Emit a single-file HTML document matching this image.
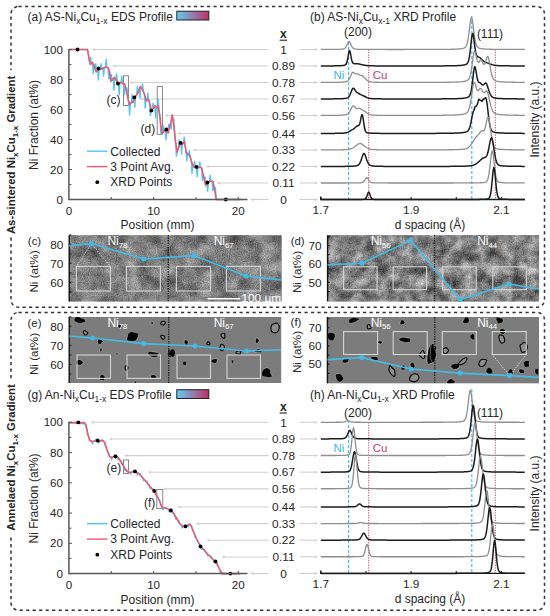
<!DOCTYPE html>
<html><head><meta charset="utf-8"><style>html,body{margin:0;padding:0;background:#fff;overflow:hidden;}svg{display:block;}</style></head>
<body>
<svg width="550" height="616" viewBox="0 0 550 616" font-family='"Liberation Sans", sans-serif'>
<defs>
<linearGradient id="cbar" x1="0" x2="1"><stop offset="0" stop-color="#62cdf3"/><stop offset="0.45" stop-color="#8c86b4"/><stop offset="1" stop-color="#c22e66"/></linearGradient>
<clipPath id="fcclip"><rect x="69.2" y="235.3" width="212.40000000000003" height="66.09999999999997"/></clipPath>
<filter id="fc" x="0" y="0" width="100%" height="100%" filterUnits="objectBoundingBox" color-interpolation-filters="sRGB"><feTurbulence type="fractalNoise" baseFrequency="0.065" numOctaves="4" seed="7" result="t"/><feColorMatrix in="t" type="matrix" values="0.55 0 0 0 0.22  0.55 0 0 0 0.22  0.55 0 0 0 0.22  0 0 0 0 1" result="a"/><feTurbulence type="fractalNoise" baseFrequency="0.85" numOctaves="1" seed="10" result="n"/><feColorMatrix in="n" type="matrix" values="1 0 0 0 0  1 0 0 0 0  1 0 0 0 0  0 0 0 0 1" result="b"/><feComposite in="a" in2="b" operator="arithmetic" k1="0" k2="1" k3="0.4" k4="-0.2"/></filter>
<clipPath id="fdclip"><rect x="327.6" y="235.3" width="211.5" height="66.09999999999997"/></clipPath>
<filter id="fd" x="0" y="0" width="100%" height="100%" filterUnits="objectBoundingBox" color-interpolation-filters="sRGB"><feTurbulence type="fractalNoise" baseFrequency="0.08" numOctaves="4" seed="11" result="t"/><feColorMatrix in="t" type="matrix" values="0.72 0 0 0 0.14  0.72 0 0 0 0.14  0.72 0 0 0 0.14  0 0 0 0 1" result="a"/><feTurbulence type="fractalNoise" baseFrequency="0.85" numOctaves="1" seed="14" result="n"/><feColorMatrix in="n" type="matrix" values="1 0 0 0 0  1 0 0 0 0  1 0 0 0 0  0 0 0 0 1" result="b"/><feComposite in="a" in2="b" operator="arithmetic" k1="0" k2="1" k3="0.4" k4="-0.2"/></filter>
<clipPath id="eclip"><rect x="69.2" y="317" width="212" height="66"/></clipPath><clipPath id="fclip"><rect x="327.4" y="317" width="211.6" height="66.3"/></clipPath></defs>
<rect width="550" height="616" fill="#fff"/>
<rect x="11" y="6.5" width="533.5" height="300.8" rx="7.5" ry="7.5" fill="none" stroke="#333" stroke-width="1.5" stroke-dasharray="3.2 3.3"/>
<rect x="11" y="312.4" width="533.5" height="297.9" rx="7.5" ry="7.5" fill="none" stroke="#333" stroke-width="1.5" stroke-dasharray="3.2 3.3"/>
<rect x="5" y="70" width="14" height="167" fill="#fff"/>
<rect x="5" y="379" width="14" height="156" fill="#fff"/>
<text transform="translate(15.2,154.9) rotate(-90)" font-size="11.4" font-weight="bold" text-anchor="middle" fill="#262626">As-sintered Ni<tspan font-size="8" dy="3">x</tspan><tspan dy="-3">Cu</tspan><tspan font-size="8" dy="3">1-x</tspan><tspan dy="-3"> Gradient</tspan></text>
<text transform="translate(15.2,457.5) rotate(-90)" font-size="11.35" font-weight="bold" text-anchor="middle" fill="#262626">Annelaed Ni<tspan font-size="8" dy="3">x</tspan><tspan dy="-3">Cu</tspan><tspan font-size="8" dy="3">1-x</tspan><tspan dy="-3"> Gradient</tspan></text>
<text x="27.5" y="20.7" font-size="12" fill="#262626">(a) AS-Ni<tspan font-size="8.5" dy="3">x</tspan><tspan dy="-3">Cu</tspan><tspan font-size="8.5" dy="3">1-x</tspan><tspan dy="-3"> EDS Profile</tspan></text>
<rect x="176.8" y="11.2" width="32" height="8.8" fill="url(#cbar)" stroke="#222" stroke-width="1"/>
<line x1="93.8" y1="49.5" x2="268.5" y2="49.5" stroke="#d0d0d0" stroke-width="1.1"/>
<path d="M91.8,49.5 l3.2,-1.5 v3 z" fill="#d0d0d0"/>
<line x1="114.3" y1="66.0" x2="268.5" y2="66.0" stroke="#d0d0d0" stroke-width="1.1"/>
<path d="M112.3,66.0 l3.2,-1.5 v3 z" fill="#d0d0d0"/>
<line x1="131.3" y1="82.5" x2="268.5" y2="82.5" stroke="#d0d0d0" stroke-width="1.1"/>
<path d="M129.3,82.5 l3.2,-1.5 v3 z" fill="#d0d0d0"/>
<line x1="141.8" y1="99.0" x2="268.5" y2="99.0" stroke="#d0d0d0" stroke-width="1.1"/>
<path d="M139.8,99.0 l3.2,-1.5 v3 z" fill="#d0d0d0"/>
<line x1="166.6" y1="115.5" x2="268.5" y2="115.5" stroke="#d0d0d0" stroke-width="1.1"/>
<path d="M164.6,115.5 l3.2,-1.5 v3 z" fill="#d0d0d0"/>
<line x1="179.2" y1="133.5" x2="268.5" y2="133.5" stroke="#d0d0d0" stroke-width="1.1"/>
<path d="M177.2,133.5 l3.2,-1.5 v3 z" fill="#d0d0d0"/>
<line x1="194.6" y1="150.0" x2="268.5" y2="150.0" stroke="#d0d0d0" stroke-width="1.1"/>
<path d="M192.6,150.0 l3.2,-1.5 v3 z" fill="#d0d0d0"/>
<line x1="207.6" y1="166.5" x2="268.5" y2="166.5" stroke="#d0d0d0" stroke-width="1.1"/>
<path d="M205.6,166.5 l3.2,-1.5 v3 z" fill="#d0d0d0"/>
<line x1="218.6" y1="183.0" x2="268.5" y2="183.0" stroke="#d0d0d0" stroke-width="1.1"/>
<path d="M216.6,183.0 l3.2,-1.5 v3 z" fill="#d0d0d0"/>
<line x1="252.2" y1="199.5" x2="268.5" y2="199.5" stroke="#d0d0d0" stroke-width="1.1"/>
<path d="M250.2,199.5 l3.2,-1.5 v3 z" fill="#d0d0d0"/>
<rect x="123.5" y="75.8" width="5.099999999999994" height="29.700000000000003" fill="none" stroke="#7a7a7a" stroke-width="0.9"/>
<rect x="157.2" y="86.6" width="5.200000000000017" height="47.70000000000002" fill="none" stroke="#7a7a7a" stroke-width="0.9"/>
<polyline points="68.90,49.50 87.25,49.60 88.00,52.15 88.75,56.93 89.85,62.58 90.60,57.28 91.35,63.45 92.45,62.48 93.20,73.56 93.95,64.92 95.05,68.45 95.80,63.83 96.55,71.35 97.65,69.99 98.40,79.99 99.15,68.80 100.25,69.04 101.00,63.59 101.75,69.03 102.85,68.20 103.60,76.06 104.35,67.54 105.45,67.33 106.20,59.51 106.95,67.40 108.05,67.66 108.80,78.86 109.55,71.67 110.65,80.05 111.40,74.72 112.15,80.05 113.25,78.75 114.00,90.28 114.75,77.61 115.85,79.39 116.60,73.96 117.35,82.00 118.45,83.40 119.20,94.89 119.95,82.79 121.05,82.51 121.80,76.35 122.55,83.66 123.65,83.80 124.40,94.54 125.15,85.63 126.25,90.06 127.00,87.99 127.75,97.63 128.85,101.81 129.60,114.97 130.35,103.88 131.45,102.50 132.20,94.65 132.95,102.23 134.05,98.59 134.80,107.30 135.55,96.05 136.65,94.92 137.40,86.24 138.15,92.48 139.25,89.50 140.00,98.54 140.75,87.16 141.85,88.52 142.60,84.09 143.35,91.60 144.45,94.37 145.20,108.07 145.95,98.85 147.05,100.59 147.80,93.18 148.55,99.87 149.65,103.24 150.40,115.60 151.15,109.23 152.25,109.45 153.00,103.18 153.75,107.79 154.85,106.01 155.60,118.22 156.35,107.35 157.45,106.58 158.20,98.87 158.95,110.29 160.05,117.74 160.80,134.06 161.55,129.93 162.65,133.17 163.40,125.34 164.15,131.29 165.25,130.45 166.00,139.76 166.75,130.79 167.85,132.47 168.60,124.43 169.35,128.35 170.45,123.91 171.20,129.06 171.95,116.49 173.05,120.04 173.80,118.72 174.55,132.29 175.65,142.61 176.40,156.10 177.15,151.79 178.25,148.88 179.00,139.70 179.75,144.77 180.85,143.26 181.60,154.01 182.35,143.80 183.45,143.14 184.20,136.98 184.95,144.48 186.05,151.77 186.80,160.57 187.55,153.55 188.65,154.72 189.40,150.55 190.15,156.93 191.25,160.67 192.00,173.80 192.75,164.54 193.85,166.79 194.60,161.57 195.35,167.13 196.45,166.78 197.20,176.43 197.95,167.12 199.05,167.48 199.80,162.02 200.55,167.50 201.65,168.13 202.40,180.41 203.15,174.43 204.25,179.16 205.00,176.95 205.75,185.18 206.85,183.56 207.60,191.11 208.35,182.23 209.45,181.76 210.20,175.28 210.95,181.30 212.05,181.30 212.80,190.71 213.55,184.59 214.65,190.23 215.40,187.49 216.15,198.37 217.00,199.50 242.00,199.50" fill="none" stroke="#55c5ef" stroke-width="1.4" stroke-linejoin="round"/>
<polyline points="68.90,49.50 87.60,49.60 89.20,59.80 90.30,64.50 92.40,62.40 94.00,65.00 96.10,71.90 98.70,68.70 101.40,69.30 103.50,67.70 106.10,67.20 108.20,67.70 109.80,72.40 110.80,81.40 112.40,79.80 114.50,77.20 116.10,79.80 118.20,83.50 120.90,82.40 123.00,84.00 124.60,83.50 126.10,89.30 128.20,99.90 129.80,104.60 131.40,102.50 132.90,102.40 134.50,97.10 136.60,95.00 138.20,92.40 140.30,86.60 142.40,89.20 144.50,94.50 146.60,100.80 148.70,99.80 150.30,105.60 151.40,110.30 153.50,108.20 155.10,105.60 156.60,107.70 158.20,105.60 159.80,115.60 161.40,129.30 162.40,133.50 164.00,131.40 166.10,129.80 168.20,133.00 170.70,122.90 172.30,114.70 173.90,126.10 175.60,142.30 177.20,152.10 178.80,147.20 180.40,143.10 182.90,144.00 184.50,141.50 186.10,152.10 188.50,154.50 190.20,157.00 191.80,162.60 194.20,167.50 196.70,166.70 199.10,167.50 201.50,167.50 204.00,178.00 205.60,185.40 207.50,182.60 210.50,181.30 212.90,181.30 214.50,189.40 216.10,198.30 217.00,199.50 240.00,199.50" fill="none" stroke="#e85b72" stroke-width="1.55" stroke-linejoin="round"/>
<circle cx="77.5" cy="49.5" r="1.9" fill="#000"/>
<circle cx="98.6" cy="68.5" r="1.9" fill="#000"/>
<circle cx="117.9" cy="83.5" r="1.9" fill="#000"/>
<circle cx="134.3" cy="97.4" r="1.9" fill="#000"/>
<circle cx="151.4" cy="110.6" r="1.9" fill="#000"/>
<circle cx="166.3" cy="129.5" r="1.9" fill="#000"/>
<circle cx="180.7" cy="142.9" r="1.9" fill="#000"/>
<circle cx="196.5" cy="166.9" r="1.9" fill="#000"/>
<circle cx="207.4" cy="182.5" r="1.9" fill="#000"/>
<circle cx="225.8" cy="199.5" r="1.9" fill="#000"/>
<path d="M68.9,48.9 V199.5 H247.5" stroke="#5a5a5a" stroke-width="1.5" fill="none"/>
<line x1="68.9" y1="199.5" x2="71.9" y2="199.5" stroke="#5a5a5a" stroke-width="1.1"/>
<line x1="68.9" y1="184.5" x2="71.4" y2="184.5" stroke="#5a5a5a" stroke-width="1.1"/>
<line x1="68.9" y1="169.5" x2="71.9" y2="169.5" stroke="#5a5a5a" stroke-width="1.1"/>
<line x1="68.9" y1="154.5" x2="71.4" y2="154.5" stroke="#5a5a5a" stroke-width="1.1"/>
<line x1="68.9" y1="139.5" x2="71.9" y2="139.5" stroke="#5a5a5a" stroke-width="1.1"/>
<line x1="68.9" y1="124.5" x2="71.4" y2="124.5" stroke="#5a5a5a" stroke-width="1.1"/>
<line x1="68.9" y1="109.5" x2="71.9" y2="109.5" stroke="#5a5a5a" stroke-width="1.1"/>
<line x1="68.9" y1="94.5" x2="71.4" y2="94.5" stroke="#5a5a5a" stroke-width="1.1"/>
<line x1="68.9" y1="79.5" x2="71.9" y2="79.5" stroke="#5a5a5a" stroke-width="1.1"/>
<line x1="68.9" y1="64.5" x2="71.4" y2="64.5" stroke="#5a5a5a" stroke-width="1.1"/>
<line x1="68.9" y1="49.5" x2="71.9" y2="49.5" stroke="#5a5a5a" stroke-width="1.1"/>
<line x1="111.25" y1="199.5" x2="111.25" y2="197.0" stroke="#5a5a5a" stroke-width="1.1"/>
<line x1="153.60000000000002" y1="199.5" x2="153.60000000000002" y2="197.0" stroke="#5a5a5a" stroke-width="1.1"/>
<line x1="195.95000000000002" y1="199.5" x2="195.95000000000002" y2="197.0" stroke="#5a5a5a" stroke-width="1.1"/>
<line x1="238.3" y1="199.5" x2="238.3" y2="197.0" stroke="#5a5a5a" stroke-width="1.1"/>
<text x="63" y="203.5" font-size="11.6" text-anchor="end" fill="#262626" font-weight="normal" >0</text>
<text x="63" y="173.5" font-size="11.6" text-anchor="end" fill="#262626" font-weight="normal" >20</text>
<text x="63" y="143.5" font-size="11.6" text-anchor="end" fill="#262626" font-weight="normal" >40</text>
<text x="63" y="113.5" font-size="11.6" text-anchor="end" fill="#262626" font-weight="normal" >60</text>
<text x="63" y="83.5" font-size="11.6" text-anchor="end" fill="#262626" font-weight="normal" >80</text>
<text x="63" y="53.5" font-size="11.6" text-anchor="end" fill="#262626" font-weight="normal" >100</text>
<text x="68.9" y="214.8" font-size="11.6" text-anchor="middle" fill="#262626" font-weight="normal" >0</text>
<text x="153.60000000000002" y="214.8" font-size="11.6" text-anchor="middle" fill="#262626" font-weight="normal" >10</text>
<text x="238.3" y="214.8" font-size="11.6" text-anchor="middle" fill="#262626" font-weight="normal" >20</text>
<text x="157.5" y="229.2" font-size="12" text-anchor="middle" fill="#262626" font-weight="normal" >Position (mm)</text>
<text transform="translate(38.3,125.0) rotate(-90)" font-size="12" text-anchor="middle" fill="#262626">Ni Fraction (at%)</text>
<line x1="87" y1="151.2" x2="107.5" y2="151.2" stroke="#55c5ef" stroke-width="1.4"/>
<line x1="87" y1="166.6" x2="107.5" y2="166.6" stroke="#e85b72" stroke-width="1.4"/>
<circle cx="97.3" cy="182.2" r="1.9" fill="#000"/>
<text x="110.3" y="155.5" font-size="12" text-anchor="start" fill="#262626" font-weight="normal" >Collected</text>
<text x="110.3" y="170.89999999999998" font-size="12" text-anchor="start" fill="#262626" font-weight="normal" >3 Point Avg.</text>
<text x="110.3" y="186.2" font-size="12" text-anchor="start" fill="#262626" font-weight="normal" >XRD Points</text>
<text x="106.5" y="104.3" font-size="12" text-anchor="start" fill="#262626" font-weight="normal" >(c)</text>
<text x="140.5" y="132.5" font-size="12" text-anchor="start" fill="#262626" font-weight="normal" >(d)</text>
<text x="27.5" y="399.2" font-size="12" fill="#262626">(g) An-Ni<tspan font-size="8.5" dy="3">x</tspan><tspan dy="-3">Cu</tspan><tspan font-size="8.5" dy="3">1-x</tspan><tspan dy="-3"> EDS Profile</tspan></text>
<rect x="176.8" y="389.7" width="32" height="8.8" fill="url(#cbar)" stroke="#222" stroke-width="1"/>
<line x1="92.5" y1="422.30000000000007" x2="268.5" y2="422.30000000000007" stroke="#d0d0d0" stroke-width="1.1"/>
<path d="M90.5,422.30000000000007 l3.2,-1.5 v3 z" fill="#d0d0d0"/>
<line x1="110.6" y1="438.94300000000004" x2="268.5" y2="438.94300000000004" stroke="#d0d0d0" stroke-width="1.1"/>
<path d="M108.6,438.94300000000004 l3.2,-1.5 v3 z" fill="#d0d0d0"/>
<line x1="126" y1="455.586" x2="268.5" y2="455.586" stroke="#d0d0d0" stroke-width="1.1"/>
<path d="M124,455.586 l3.2,-1.5 v3 z" fill="#d0d0d0"/>
<line x1="149.7" y1="472.22900000000004" x2="268.5" y2="472.22900000000004" stroke="#d0d0d0" stroke-width="1.1"/>
<path d="M147.7,472.22900000000004 l3.2,-1.5 v3 z" fill="#d0d0d0"/>
<line x1="165" y1="488.872" x2="268.5" y2="488.872" stroke="#d0d0d0" stroke-width="1.1"/>
<path d="M163,488.872 l3.2,-1.5 v3 z" fill="#d0d0d0"/>
<line x1="179.3" y1="507.028" x2="268.5" y2="507.028" stroke="#d0d0d0" stroke-width="1.1"/>
<path d="M177.3,507.028 l3.2,-1.5 v3 z" fill="#d0d0d0"/>
<line x1="197.5" y1="523.671" x2="268.5" y2="523.671" stroke="#d0d0d0" stroke-width="1.1"/>
<path d="M195.5,523.671 l3.2,-1.5 v3 z" fill="#d0d0d0"/>
<line x1="208.4" y1="540.3140000000001" x2="268.5" y2="540.3140000000001" stroke="#d0d0d0" stroke-width="1.1"/>
<path d="M206.4,540.3140000000001 l3.2,-1.5 v3 z" fill="#d0d0d0"/>
<line x1="223.5" y1="556.957" x2="268.5" y2="556.957" stroke="#d0d0d0" stroke-width="1.1"/>
<path d="M221.5,556.957 l3.2,-1.5 v3 z" fill="#d0d0d0"/>
<line x1="252.2" y1="573.6" x2="268.5" y2="573.6" stroke="#d0d0d0" stroke-width="1.1"/>
<path d="M250.2,573.6 l3.2,-1.5 v3 z" fill="#d0d0d0"/>
<rect x="123.5" y="460" width="5.099999999999994" height="13.5" fill="none" stroke="#7a7a7a" stroke-width="0.9"/>
<rect x="156.8" y="489.5" width="6.0" height="19.100000000000023" fill="none" stroke="#7a7a7a" stroke-width="0.9"/>
<polyline points="68.90,422.60 85.25,423.80 86.00,427.23 86.75,429.00 88.45,436.32 89.20,437.36 89.95,440.27 91.65,441.29 92.40,443.83 93.15,441.36 94.85,441.14 95.60,439.42 96.35,441.00 98.05,441.00 98.80,443.22 99.55,441.00 101.25,440.79 102.00,439.49 102.75,440.54 104.45,442.31 105.20,446.08 105.95,446.33 107.65,451.69 108.40,452.03 109.15,455.59 110.85,457.04 111.60,459.76 112.35,457.32 114.05,456.47 114.80,454.70 115.55,456.14 117.25,456.75 118.00,459.76 118.75,458.25 120.45,461.04 121.20,461.13 121.95,463.58 123.65,466.42 124.40,470.00 125.15,468.84 126.85,471.21 127.60,470.26 128.35,472.11 130.05,472.32 130.80,474.10 131.55,472.07 133.25,471.75 134.00,470.48 134.75,471.45 136.45,472.17 137.20,474.95 137.95,472.97 139.65,474.65 140.40,473.77 141.15,476.15 142.85,477.96 143.60,480.54 144.35,479.64 146.05,481.56 146.80,480.98 147.55,483.44 149.25,485.56 150.00,488.51 150.75,487.34 152.45,489.26 153.20,488.93 153.95,490.94 155.65,493.75 156.40,496.91 157.15,496.30 158.85,499.70 159.60,499.75 160.35,503.22 162.05,507.11 162.80,509.84 163.55,507.80 165.25,508.21 166.00,507.22 166.75,508.46 168.45,509.22 169.20,511.78 169.95,509.97 171.65,511.26 172.40,511.02 173.15,513.01 174.85,515.42 175.60,518.93 176.35,517.92 178.05,520.75 178.80,520.73 179.55,523.25 181.25,525.00 182.00,528.00 182.75,526.20 184.45,526.45 185.20,524.85 185.95,526.50 187.65,525.18 188.40,526.66 189.15,524.28 190.85,525.70 191.60,525.57 192.35,528.87 194.05,533.12 194.80,536.79 195.55,536.62 197.25,540.46 198.00,540.70 198.75,543.20 200.45,546.31 201.20,549.28 201.95,547.89 203.65,549.64 204.40,549.34 205.15,551.29 206.85,553.21 207.60,555.88 208.35,554.85 210.05,556.55 210.80,555.99 211.55,558.05 213.25,559.57 214.00,562.39 214.75,560.86 216.45,563.21 217.20,563.39 217.95,565.91 219.65,569.30 220.40,572.50 221.15,572.13 223.00,573.60 242.00,573.60" fill="none" stroke="#55c5ef" stroke-width="1.4" stroke-linejoin="round"/>
<polyline points="68.90,422.60 84.50,422.60 86.00,425.00 87.50,433.00 89.50,440.00 92.00,441.50 96.00,441.00 100.00,441.00 103.00,440.50 105.00,443.00 107.00,450.00 109.50,456.50 112.00,457.50 115.00,456.00 117.00,456.50 119.00,458.50 121.00,462.00 124.00,467.00 126.50,471.00 129.00,472.50 132.00,472.00 135.00,471.40 138.00,473.00 142.00,477.00 146.00,481.50 150.00,486.50 154.00,491.00 157.00,496.00 159.50,501.00 161.80,507.00 164.00,508.00 167.00,508.50 171.00,510.50 174.00,514.00 177.00,519.00 180.00,524.00 183.00,526.40 186.00,526.50 188.50,524.50 190.00,524.00 192.00,528.00 194.00,533.00 197.00,540.00 200.50,546.40 204.00,550.00 208.00,554.50 212.00,558.50 215.50,561.50 218.00,566.00 220.50,571.00 222.00,573.60 240.00,573.60" fill="none" stroke="#e85b72" stroke-width="1.55" stroke-linejoin="round"/>
<circle cx="78.3" cy="422.4" r="1.9" fill="#000"/>
<circle cx="97.7" cy="440.5" r="1.9" fill="#000"/>
<circle cx="115.5" cy="456.5" r="1.9" fill="#000"/>
<circle cx="135" cy="471.4" r="1.9" fill="#000"/>
<circle cx="154.2" cy="490.9" r="1.9" fill="#000"/>
<circle cx="170.9" cy="510.5" r="1.9" fill="#000"/>
<circle cx="185.5" cy="526.4" r="1.9" fill="#000"/>
<circle cx="200.5" cy="546.4" r="1.9" fill="#000"/>
<circle cx="215.5" cy="561.5" r="1.9" fill="#000"/>
<circle cx="230.4" cy="573.6" r="1.9" fill="#000"/>
<path d="M68.9,421.70000000000005 V573.6 H247.5" stroke="#5a5a5a" stroke-width="1.5" fill="none"/>
<line x1="68.9" y1="573.6" x2="71.9" y2="573.6" stroke="#5a5a5a" stroke-width="1.1"/>
<line x1="68.9" y1="558.47" x2="71.4" y2="558.47" stroke="#5a5a5a" stroke-width="1.1"/>
<line x1="68.9" y1="543.34" x2="71.9" y2="543.34" stroke="#5a5a5a" stroke-width="1.1"/>
<line x1="68.9" y1="528.21" x2="71.4" y2="528.21" stroke="#5a5a5a" stroke-width="1.1"/>
<line x1="68.9" y1="513.08" x2="71.9" y2="513.08" stroke="#5a5a5a" stroke-width="1.1"/>
<line x1="68.9" y1="497.95000000000005" x2="71.4" y2="497.95000000000005" stroke="#5a5a5a" stroke-width="1.1"/>
<line x1="68.9" y1="482.82000000000005" x2="71.9" y2="482.82000000000005" stroke="#5a5a5a" stroke-width="1.1"/>
<line x1="68.9" y1="467.69000000000005" x2="71.4" y2="467.69000000000005" stroke="#5a5a5a" stroke-width="1.1"/>
<line x1="68.9" y1="452.56000000000006" x2="71.9" y2="452.56000000000006" stroke="#5a5a5a" stroke-width="1.1"/>
<line x1="68.9" y1="437.43000000000006" x2="71.4" y2="437.43000000000006" stroke="#5a5a5a" stroke-width="1.1"/>
<line x1="68.9" y1="422.30000000000007" x2="71.9" y2="422.30000000000007" stroke="#5a5a5a" stroke-width="1.1"/>
<line x1="111.25" y1="573.6" x2="111.25" y2="571.1" stroke="#5a5a5a" stroke-width="1.1"/>
<line x1="153.60000000000002" y1="573.6" x2="153.60000000000002" y2="571.1" stroke="#5a5a5a" stroke-width="1.1"/>
<line x1="195.95000000000002" y1="573.6" x2="195.95000000000002" y2="571.1" stroke="#5a5a5a" stroke-width="1.1"/>
<line x1="238.3" y1="573.6" x2="238.3" y2="571.1" stroke="#5a5a5a" stroke-width="1.1"/>
<text x="63" y="577.6" font-size="11.6" text-anchor="end" fill="#262626" font-weight="normal" >0</text>
<text x="63" y="547.34" font-size="11.6" text-anchor="end" fill="#262626" font-weight="normal" >20</text>
<text x="63" y="517.08" font-size="11.6" text-anchor="end" fill="#262626" font-weight="normal" >40</text>
<text x="63" y="486.82000000000005" font-size="11.6" text-anchor="end" fill="#262626" font-weight="normal" >60</text>
<text x="63" y="456.56000000000006" font-size="11.6" text-anchor="end" fill="#262626" font-weight="normal" >80</text>
<text x="63" y="426.30000000000007" font-size="11.6" text-anchor="end" fill="#262626" font-weight="normal" >100</text>
<text x="68.9" y="588.9" font-size="11.6" text-anchor="middle" fill="#262626" font-weight="normal" >0</text>
<text x="153.60000000000002" y="588.9" font-size="11.6" text-anchor="middle" fill="#262626" font-weight="normal" >10</text>
<text x="238.3" y="588.9" font-size="11.6" text-anchor="middle" fill="#262626" font-weight="normal" >20</text>
<text x="157.5" y="603.5" font-size="12" text-anchor="middle" fill="#262626" font-weight="normal" >Position (mm)</text>
<text transform="translate(38.3,498.45000000000005) rotate(-90)" font-size="12" text-anchor="middle" fill="#262626">Ni Fraction (at%)</text>
<line x1="87" y1="523.7" x2="107.5" y2="523.7" stroke="#55c5ef" stroke-width="1.4"/>
<line x1="87" y1="539.1" x2="107.5" y2="539.1" stroke="#e85b72" stroke-width="1.4"/>
<circle cx="97.3" cy="554.7" r="1.9" fill="#000"/>
<text x="110.3" y="528.0" font-size="12" text-anchor="start" fill="#262626" font-weight="normal" >Collected</text>
<text x="110.3" y="543.4000000000001" font-size="12" text-anchor="start" fill="#262626" font-weight="normal" >3 Point Avg.</text>
<text x="110.3" y="558.7" font-size="12" text-anchor="start" fill="#262626" font-weight="normal" >XRD Points</text>
<text x="106.5" y="472" font-size="12" text-anchor="start" fill="#262626" font-weight="normal" >(e)</text>
<text x="144" y="507.3" font-size="12" text-anchor="start" fill="#262626" font-weight="normal" >(f)</text>
<text x="310" y="21" font-size="12" fill="#262626">(b) AS-Ni<tspan font-size="8.5" dy="3">x</tspan><tspan dy="-3">Cu</tspan><tspan font-size="8.5" dy="3">x-1</tspan><tspan dy="-3"> XRD Profile</tspan></text>
<text x="283.3" y="38.0" font-size="12" font-weight="bold" text-anchor="middle" fill="#262626">x</text>
<line x1="279.6" y1="40.2" x2="287" y2="40.2" stroke="#262626" stroke-width="1.1"/>
<text x="283.5" y="53.7" font-size="11.8" text-anchor="middle" fill="#262626" font-weight="normal" >1</text>
<line x1="299.5" y1="49.5" x2="315" y2="49.5" stroke="#d0d0d0" stroke-width="1.1"/>
<path d="M318,49.5 l-3.2,-1.5 v3 z" fill="#d0d0d0"/>
<text x="283.5" y="70.2" font-size="11.8" text-anchor="middle" fill="#262626" font-weight="normal" >0.89</text>
<line x1="299.5" y1="66.0" x2="315" y2="66.0" stroke="#d0d0d0" stroke-width="1.1"/>
<path d="M318,66.0 l-3.2,-1.5 v3 z" fill="#d0d0d0"/>
<text x="283.5" y="86.7" font-size="11.8" text-anchor="middle" fill="#262626" font-weight="normal" >0.78</text>
<line x1="299.5" y1="82.5" x2="315" y2="82.5" stroke="#d0d0d0" stroke-width="1.1"/>
<path d="M318,82.5 l-3.2,-1.5 v3 z" fill="#d0d0d0"/>
<text x="283.5" y="103.2" font-size="11.8" text-anchor="middle" fill="#262626" font-weight="normal" >0.67</text>
<line x1="299.5" y1="99.0" x2="315" y2="99.0" stroke="#d0d0d0" stroke-width="1.1"/>
<path d="M318,99.0 l-3.2,-1.5 v3 z" fill="#d0d0d0"/>
<text x="283.5" y="119.7" font-size="11.8" text-anchor="middle" fill="#262626" font-weight="normal" >0.56</text>
<line x1="299.5" y1="115.5" x2="315" y2="115.5" stroke="#d0d0d0" stroke-width="1.1"/>
<path d="M318,115.5 l-3.2,-1.5 v3 z" fill="#d0d0d0"/>
<text x="283.5" y="137.7" font-size="11.8" text-anchor="middle" fill="#262626" font-weight="normal" >0.44</text>
<line x1="299.5" y1="133.5" x2="315" y2="133.5" stroke="#d0d0d0" stroke-width="1.1"/>
<path d="M318,133.5 l-3.2,-1.5 v3 z" fill="#d0d0d0"/>
<text x="283.5" y="154.2" font-size="11.8" text-anchor="middle" fill="#262626" font-weight="normal" >0.33</text>
<line x1="299.5" y1="150.0" x2="315" y2="150.0" stroke="#d0d0d0" stroke-width="1.1"/>
<path d="M318,150.0 l-3.2,-1.5 v3 z" fill="#d0d0d0"/>
<text x="283.5" y="170.7" font-size="11.8" text-anchor="middle" fill="#262626" font-weight="normal" >0.22</text>
<line x1="299.5" y1="166.5" x2="315" y2="166.5" stroke="#d0d0d0" stroke-width="1.1"/>
<path d="M318,166.5 l-3.2,-1.5 v3 z" fill="#d0d0d0"/>
<text x="283.5" y="187.2" font-size="11.8" text-anchor="middle" fill="#262626" font-weight="normal" >0.11</text>
<line x1="299.5" y1="183.0" x2="315" y2="183.0" stroke="#d0d0d0" stroke-width="1.1"/>
<path d="M318,183.0 l-3.2,-1.5 v3 z" fill="#d0d0d0"/>
<text x="283.5" y="203.7" font-size="11.8" text-anchor="middle" fill="#262626" font-weight="normal" >0</text>
<line x1="299.5" y1="199.5" x2="315" y2="199.5" stroke="#d0d0d0" stroke-width="1.1"/>
<path d="M318,199.5 l-3.2,-1.5 v3 z" fill="#d0d0d0"/>
<line x1="348.6" y1="42" x2="348.6" y2="199.5" stroke="#3cb8ea" stroke-width="1.1" stroke-dasharray="3 2"/>
<line x1="471.8" y1="16" x2="471.8" y2="199.5" stroke="#3cb8ea" stroke-width="1.1" stroke-dasharray="3 2"/>
<line x1="368.7" y1="49.5" x2="368.7" y2="199.5" stroke="#c9376f" stroke-width="1" stroke-dasharray="1.2 1.3"/>
<line x1="495.3" y1="49.5" x2="495.3" y2="199.5" stroke="#c9376f" stroke-width="1" stroke-dasharray="1.2 1.3"/>
<polyline points="320.80,49.47 321.30,49.47 321.80,49.47 322.30,49.47 322.80,49.47 323.30,49.47 323.80,49.47 324.30,49.47 324.80,49.47 325.30,49.46 325.80,49.46 326.30,49.46 326.80,49.46 327.30,49.46 327.80,49.46 328.30,49.45 328.80,49.45 329.30,49.45 329.80,49.45 330.30,49.45 330.80,49.44 331.30,49.44 331.80,49.44 332.30,49.43 332.80,49.43 333.30,49.42 333.80,49.42 334.30,49.42 334.80,49.41 335.30,49.40 335.80,49.40 336.30,49.39 336.80,49.38 337.30,49.37 337.80,49.36 338.30,49.35 338.80,49.33 339.30,49.32 339.80,49.30 340.30,49.28 340.80,49.25 341.30,49.22 341.80,49.18 342.30,49.12 342.80,49.05 343.30,48.94 343.80,48.78 344.30,48.55 344.80,48.20 345.30,47.70 345.80,47.03 346.30,46.18 346.80,45.16 347.30,44.04 347.80,42.94 348.30,42.04 348.80,41.54 349.30,41.60 349.80,42.19 350.30,43.15 350.80,44.27 351.30,45.38 351.80,46.36 352.30,47.18 352.80,47.81 353.30,48.28 353.80,48.60 354.30,48.82 354.80,48.97 355.30,49.07 355.80,49.13 356.30,49.18 356.80,49.22 357.30,49.25 357.80,49.28 358.30,49.30 358.80,49.32 359.30,49.33 359.80,49.35 360.30,49.36 360.80,49.37 361.30,49.38 361.80,49.39 362.30,49.40 362.80,49.40 363.30,49.41 363.80,49.41 364.30,49.42 364.80,49.42 365.30,49.43 365.80,49.43 366.30,49.43 366.80,49.44 367.30,49.44 367.80,49.44 368.30,49.44 368.80,49.45 369.30,49.45 369.80,49.45 370.30,49.45 370.80,49.45 371.30,49.46 371.80,49.46 372.30,49.46 372.80,49.46 373.30,49.46 373.80,49.46 374.30,49.46 374.80,49.46 375.30,49.47 375.80,49.47 376.30,49.47 376.80,49.47 377.30,49.47 377.80,49.47 378.30,49.47 378.80,49.47 379.30,49.47 379.80,49.47 380.30,49.47 380.80,49.47 381.30,49.47 381.80,49.47 382.30,49.47 382.80,49.47 383.30,49.47 383.80,49.47 384.30,49.47 384.80,49.47 385.30,49.47 385.80,49.48 386.30,49.48 386.80,49.48 387.30,49.48 387.80,49.48 388.30,49.48 388.80,49.48 389.30,49.48 389.80,49.48 390.30,49.48 390.80,49.48 391.30,49.48 391.80,49.48 392.30,49.48 392.80,49.48 393.30,49.48 393.80,49.48 394.30,49.48 394.80,49.48 395.30,49.48 395.80,49.48 396.30,49.48 396.80,49.48 397.30,49.48 397.80,49.48 398.30,49.48 398.80,49.48 399.30,49.48 399.80,49.48 400.30,49.48 400.80,49.48 401.30,49.48 401.80,49.48 402.30,49.48 402.80,49.48 403.30,49.48 403.80,49.48 404.30,49.48 404.80,49.47 405.30,49.47 405.80,49.47 406.30,49.47 406.80,49.47 407.30,49.47 407.80,49.47 408.30,49.47 408.80,49.47 409.30,49.47 409.80,49.47 410.30,49.47 410.80,49.47 411.30,49.47 411.80,49.47 412.30,49.47 412.80,49.47 413.30,49.47 413.80,49.47 414.30,49.47 414.80,49.47 415.30,49.47 415.80,49.47 416.30,49.47 416.80,49.47 417.30,49.47 417.80,49.47 418.30,49.47 418.80,49.47 419.30,49.46 419.80,49.46 420.30,49.46 420.80,49.46 421.30,49.46 421.80,49.46 422.30,49.46 422.80,49.46 423.30,49.46 423.80,49.46 424.30,49.46 424.80,49.46 425.30,49.46 425.80,49.46 426.30,49.45 426.80,49.45 427.30,49.45 427.80,49.45 428.30,49.45 428.80,49.45 429.30,49.45 429.80,49.45 430.30,49.45 430.80,49.45 431.30,49.44 431.80,49.44 432.30,49.44 432.80,49.44 433.30,49.44 433.80,49.44 434.30,49.44 434.80,49.43 435.30,49.43 435.80,49.43 436.30,49.43 436.80,49.43 437.30,49.42 437.80,49.42 438.30,49.42 438.80,49.42 439.30,49.42 439.80,49.41 440.30,49.41 440.80,49.41 441.30,49.40 441.80,49.40 442.30,49.40 442.80,49.39 443.30,49.39 443.80,49.39 444.30,49.38 444.80,49.38 445.30,49.37 445.80,49.37 446.30,49.36 446.80,49.36 447.30,49.35 447.80,49.35 448.30,49.34 448.80,49.33 449.30,49.33 449.80,49.32 450.30,49.31 450.80,49.30 451.30,49.29 451.80,49.28 452.30,49.27 452.80,49.26 453.30,49.24 453.80,49.23 454.30,49.21 454.80,49.20 455.30,49.18 455.80,49.16 456.30,49.14 456.80,49.11 457.30,49.08 457.80,49.05 458.30,49.02 458.80,48.99 459.30,48.94 459.80,48.90 460.30,48.85 460.80,48.79 461.30,48.72 461.80,48.64 462.30,48.55 462.80,48.44 463.30,48.31 463.80,48.15 464.30,47.94 464.80,47.64 465.30,47.23 465.80,46.63 466.30,45.77 466.80,44.55 467.30,42.86 467.80,40.61 468.30,37.75 468.80,34.31 469.30,30.40 469.80,26.30 470.30,22.41 470.80,19.31 471.30,17.65 471.80,17.85 472.30,19.84 472.80,23.14 473.30,27.12 473.80,31.21 474.30,35.04 474.80,38.37 475.30,41.11 475.80,43.24 476.30,44.83 476.80,45.97 477.30,46.77 477.80,47.32 478.30,47.71 478.80,47.98 479.30,48.19 479.80,48.34 480.30,48.47 480.80,48.57 481.30,48.66 481.80,48.73 482.30,48.80 482.80,48.86 483.30,48.91 483.80,48.95 484.30,48.99 484.80,49.03 485.30,49.06 485.80,49.09 486.30,49.12 486.80,49.14 487.30,49.16 487.80,49.18 488.30,49.20 488.80,49.22 489.30,49.23 489.80,49.25 490.30,49.26 490.80,49.27 491.30,49.28 491.80,49.29 492.30,49.30 492.80,49.31 493.30,49.32 493.80,49.33 494.30,49.34 494.80,49.34 495.30,49.35 495.80,49.35 496.30,49.36 496.80,49.37 497.30,49.37 497.80,49.38 498.30,49.38 498.80,49.38 499.30,49.39 499.80,49.39 500.30,49.40 500.80,49.40 501.30,49.40 501.80,49.41 502.30,49.41 502.80,49.41 503.30,49.41 503.80,49.42 504.30,49.42 504.80,49.42 505.30,49.42 505.80,49.43 506.30,49.43 506.80,49.43 507.30,49.43 507.80,49.43 508.30,49.44 508.80,49.44 509.30,49.44 509.80,49.44 510.30,49.44 510.80,49.44 511.30,49.45 511.80,49.45 512.30,49.45 512.80,49.45 513.30,49.45 513.80,49.45 514.30,49.45 514.80,49.45 515.30,49.45 515.80,49.46 516.30,49.46 516.80,49.46 517.30,49.46 517.80,49.46 518.30,49.46 518.80,49.46 519.30,49.46 519.80,49.46 520.30,49.46 520.80,49.46 521.30,49.46 521.80,49.47 522.30,49.47 522.80,49.47 523.30,49.47 523.80,49.47 524.30,49.47 524.80,49.47" fill="none" stroke="#8e8e8e" stroke-width="1.3" stroke-linejoin="round"/>
<polyline points="320.80,65.95 321.30,65.95 321.80,65.95 322.30,65.95 322.80,65.95 323.30,65.95 323.80,65.95 324.30,65.94 324.80,65.94 325.30,65.94 325.80,65.94 326.30,65.94 326.80,65.93 327.30,65.93 327.80,65.93 328.30,65.93 328.80,65.92 329.30,65.92 329.80,65.92 330.30,65.91 330.80,65.91 331.30,65.90 331.80,65.90 332.30,65.90 332.80,65.89 333.30,65.89 333.80,65.88 334.30,65.87 334.80,65.87 335.30,65.86 335.80,65.85 336.30,65.84 336.80,65.83 337.30,65.82 337.80,65.81 338.30,65.79 338.80,65.78 339.30,65.76 339.80,65.74 340.30,65.71 340.80,65.68 341.30,65.65 341.80,65.61 342.30,65.57 342.80,65.51 343.30,65.44 343.80,65.36 344.30,65.24 344.80,65.09 345.30,64.85 345.80,64.45 346.30,63.76 346.80,62.61 347.30,60.81 347.80,58.32 348.30,55.32 348.80,52.38 349.30,50.51 349.80,50.64 350.30,52.65 350.80,55.50 351.30,58.27 351.80,60.47 352.30,61.96 352.80,62.86 353.30,63.32 353.80,63.54 354.30,63.63 354.80,63.66 355.30,63.67 355.80,63.67 356.30,63.68 356.80,63.70 357.30,63.74 357.80,63.79 358.30,63.86 358.80,63.95 359.30,64.05 359.80,64.16 360.30,64.28 360.80,64.40 361.30,64.52 361.80,64.65 362.30,64.76 362.80,64.88 363.30,64.99 363.80,65.09 364.30,65.19 364.80,65.27 365.30,65.35 365.80,65.43 366.30,65.49 366.80,65.55 367.30,65.60 367.80,65.64 368.30,65.68 368.80,65.71 369.30,65.74 369.80,65.76 370.30,65.78 370.80,65.80 371.30,65.82 371.80,65.83 372.30,65.84 372.80,65.85 373.30,65.86 373.80,65.87 374.30,65.87 374.80,65.88 375.30,65.89 375.80,65.89 376.30,65.90 376.80,65.90 377.30,65.90 377.80,65.91 378.30,65.91 378.80,65.91 379.30,65.92 379.80,65.92 380.30,65.92 380.80,65.92 381.30,65.93 381.80,65.93 382.30,65.93 382.80,65.93 383.30,65.93 383.80,65.93 384.30,65.94 384.80,65.94 385.30,65.94 385.80,65.94 386.30,65.94 386.80,65.94 387.30,65.94 387.80,65.94 388.30,65.95 388.80,65.95 389.30,65.95 389.80,65.95 390.30,65.95 390.80,65.95 391.30,65.95 391.80,65.95 392.30,65.95 392.80,65.95 393.30,65.95 393.80,65.95 394.30,65.95 394.80,65.95 395.30,65.95 395.80,65.95 396.30,65.96 396.80,65.96 397.30,65.96 397.80,65.96 398.30,65.96 398.80,65.96 399.30,65.96 399.80,65.96 400.30,65.96 400.80,65.96 401.30,65.96 401.80,65.96 402.30,65.96 402.80,65.96 403.30,65.96 403.80,65.96 404.30,65.96 404.80,65.96 405.30,65.96 405.80,65.96 406.30,65.96 406.80,65.96 407.30,65.96 407.80,65.96 408.30,65.96 408.80,65.96 409.30,65.96 409.80,65.96 410.30,65.96 410.80,65.96 411.30,65.96 411.80,65.96 412.30,65.96 412.80,65.96 413.30,65.96 413.80,65.95 414.30,65.95 414.80,65.95 415.30,65.95 415.80,65.95 416.30,65.95 416.80,65.95 417.30,65.95 417.80,65.95 418.30,65.95 418.80,65.95 419.30,65.95 419.80,65.95 420.30,65.95 420.80,65.95 421.30,65.95 421.80,65.95 422.30,65.95 422.80,65.95 423.30,65.95 423.80,65.94 424.30,65.94 424.80,65.94 425.30,65.94 425.80,65.94 426.30,65.94 426.80,65.94 427.30,65.94 427.80,65.94 428.30,65.94 428.80,65.94 429.30,65.93 429.80,65.93 430.30,65.93 430.80,65.93 431.30,65.93 431.80,65.93 432.30,65.93 432.80,65.93 433.30,65.92 433.80,65.92 434.30,65.92 434.80,65.92 435.30,65.92 435.80,65.92 436.30,65.91 436.80,65.91 437.30,65.91 437.80,65.91 438.30,65.90 438.80,65.90 439.30,65.90 439.80,65.90 440.30,65.89 440.80,65.89 441.30,65.89 441.80,65.89 442.30,65.88 442.80,65.88 443.30,65.88 443.80,65.87 444.30,65.87 444.80,65.86 445.30,65.86 445.80,65.86 446.30,65.85 446.80,65.85 447.30,65.84 447.80,65.83 448.30,65.83 448.80,65.82 449.30,65.82 449.80,65.81 450.30,65.80 450.80,65.79 451.30,65.78 451.80,65.78 452.30,65.77 452.80,65.76 453.30,65.74 453.80,65.73 454.30,65.72 454.80,65.71 455.30,65.69 455.80,65.67 456.30,65.66 456.80,65.64 457.30,65.62 457.80,65.59 458.30,65.57 458.80,65.54 459.30,65.51 459.80,65.48 460.30,65.44 460.80,65.40 461.30,65.36 461.80,65.30 462.30,65.25 462.80,65.18 463.30,65.10 463.80,65.02 464.30,64.91 464.80,64.79 465.30,64.64 465.80,64.46 466.30,64.21 466.80,63.87 467.30,63.36 467.80,62.61 468.30,61.46 468.80,59.77 469.30,57.39 469.80,54.21 470.30,50.25 470.80,45.68 471.30,40.93 471.80,36.70 472.30,33.93 472.80,33.38 473.30,35.15 473.80,38.55 474.30,42.63 474.80,46.63 475.30,50.08 475.80,52.75 476.30,54.63 476.80,55.82 477.30,56.48 477.80,56.82 478.30,57.00 478.80,57.14 479.30,57.33 479.80,57.62 480.30,57.99 480.80,58.45 481.30,58.94 481.80,59.46 482.30,59.96 482.80,60.44 483.30,60.88 483.80,61.27 484.30,61.61 484.80,61.90 485.30,62.15 485.80,62.36 486.30,62.55 486.80,62.74 487.30,62.91 487.80,63.10 488.30,63.28 488.80,63.48 489.30,63.67 489.80,63.87 490.30,64.06 490.80,64.24 491.30,64.42 491.80,64.58 492.30,64.74 492.80,64.88 493.30,65.00 493.80,65.11 494.30,65.21 494.80,65.30 495.30,65.37 495.80,65.44 496.30,65.49 496.80,65.54 497.30,65.58 497.80,65.61 498.30,65.64 498.80,65.67 499.30,65.69 499.80,65.71 500.30,65.72 500.80,65.74 501.30,65.75 501.80,65.76 502.30,65.77 502.80,65.78 503.30,65.79 503.80,65.80 504.30,65.81 504.80,65.82 505.30,65.82 505.80,65.83 506.30,65.84 506.80,65.84 507.30,65.85 507.80,65.85 508.30,65.86 508.80,65.86 509.30,65.87 509.80,65.87 510.30,65.88 510.80,65.88 511.30,65.88 511.80,65.89 512.30,65.89 512.80,65.89 513.30,65.90 513.80,65.90 514.30,65.90 514.80,65.90 515.30,65.91 515.80,65.91 516.30,65.91 516.80,65.91 517.30,65.92 517.80,65.92 518.30,65.92 518.80,65.92 519.30,65.92 519.80,65.93 520.30,65.93 520.80,65.93 521.30,65.93 521.80,65.93 522.30,65.93 522.80,65.94 523.30,65.94 523.80,65.94 524.30,65.94 524.80,65.94" fill="none" stroke="#1c1c1c" stroke-width="1.5" stroke-linejoin="round"/>
<polyline points="320.80,82.43 321.30,82.43 321.80,82.43 322.30,82.43 322.80,82.43 323.30,82.42 323.80,82.42 324.30,82.42 324.80,82.42 325.30,82.41 325.80,82.41 326.30,82.41 326.80,82.41 327.30,82.40 327.80,82.40 328.30,82.40 328.80,82.39 329.30,82.39 329.80,82.39 330.30,82.38 330.80,82.38 331.30,82.37 331.80,82.37 332.30,82.36 332.80,82.36 333.30,82.35 333.80,82.35 334.30,82.34 334.80,82.33 335.30,82.32 335.80,82.32 336.30,82.31 336.80,82.30 337.30,82.29 337.80,82.28 338.30,82.26 338.80,82.25 339.30,82.24 339.80,82.22 340.30,82.20 340.80,82.18 341.30,82.16 341.80,82.14 342.30,82.11 342.80,82.08 343.30,82.04 343.80,82.00 344.30,81.95 344.80,81.90 345.30,81.82 345.80,81.73 346.30,81.60 346.80,81.42 347.30,81.18 347.80,80.83 348.30,80.36 348.80,79.73 349.30,78.94 349.80,77.97 350.30,76.86 350.80,75.66 351.30,74.46 351.80,73.41 352.30,72.65 352.80,72.29 353.30,72.30 353.80,72.57 354.30,72.95 354.80,73.32 355.30,73.60 355.80,73.77 356.30,73.84 356.80,73.86 357.30,73.89 357.80,73.97 358.30,74.12 358.80,74.34 359.30,74.59 359.80,74.85 360.30,75.09 360.80,75.31 361.30,75.51 361.80,75.70 362.30,75.91 362.80,76.18 363.30,76.53 363.80,76.95 364.30,77.44 364.80,77.96 365.30,78.50 365.80,79.03 366.30,79.52 366.80,79.97 367.30,80.37 367.80,80.72 368.30,81.02 368.80,81.26 369.30,81.46 369.80,81.62 370.30,81.75 370.80,81.85 371.30,81.92 371.80,81.99 372.30,82.04 372.80,82.08 373.30,82.11 373.80,82.14 374.30,82.16 374.80,82.18 375.30,82.20 375.80,82.22 376.30,82.23 376.80,82.25 377.30,82.26 377.80,82.27 378.30,82.28 378.80,82.29 379.30,82.30 379.80,82.31 380.30,82.32 380.80,82.32 381.30,82.33 381.80,82.34 382.30,82.34 382.80,82.35 383.30,82.35 383.80,82.36 384.30,82.36 384.80,82.36 385.30,82.37 385.80,82.37 386.30,82.38 386.80,82.38 387.30,82.38 387.80,82.38 388.30,82.39 388.80,82.39 389.30,82.39 389.80,82.39 390.30,82.40 390.80,82.40 391.30,82.40 391.80,82.40 392.30,82.40 392.80,82.41 393.30,82.41 393.80,82.41 394.30,82.41 394.80,82.41 395.30,82.41 395.80,82.41 396.30,82.41 396.80,82.42 397.30,82.42 397.80,82.42 398.30,82.42 398.80,82.42 399.30,82.42 399.80,82.42 400.30,82.42 400.80,82.42 401.30,82.42 401.80,82.42 402.30,82.42 402.80,82.42 403.30,82.42 403.80,82.42 404.30,82.42 404.80,82.42 405.30,82.42 405.80,82.42 406.30,82.42 406.80,82.42 407.30,82.42 407.80,82.42 408.30,82.42 408.80,82.42 409.30,82.42 409.80,82.42 410.30,82.42 410.80,82.42 411.30,82.42 411.80,82.42 412.30,82.42 412.80,82.42 413.30,82.42 413.80,82.42 414.30,82.42 414.80,82.42 415.30,82.42 415.80,82.42 416.30,82.42 416.80,82.42 417.30,82.42 417.80,82.42 418.30,82.42 418.80,82.42 419.30,82.42 419.80,82.42 420.30,82.41 420.80,82.41 421.30,82.41 421.80,82.41 422.30,82.41 422.80,82.41 423.30,82.41 423.80,82.41 424.30,82.41 424.80,82.41 425.30,82.41 425.80,82.40 426.30,82.40 426.80,82.40 427.30,82.40 427.80,82.40 428.30,82.40 428.80,82.40 429.30,82.39 429.80,82.39 430.30,82.39 430.80,82.39 431.30,82.39 431.80,82.39 432.30,82.38 432.80,82.38 433.30,82.38 433.80,82.38 434.30,82.37 434.80,82.37 435.30,82.37 435.80,82.37 436.30,82.36 436.80,82.36 437.30,82.36 437.80,82.36 438.30,82.35 438.80,82.35 439.30,82.35 439.80,82.34 440.30,82.34 440.80,82.34 441.30,82.33 441.80,82.33 442.30,82.32 442.80,82.32 443.30,82.31 443.80,82.31 444.30,82.30 444.80,82.30 445.30,82.29 445.80,82.29 446.30,82.28 446.80,82.27 447.30,82.27 447.80,82.26 448.30,82.25 448.80,82.24 449.30,82.24 449.80,82.23 450.30,82.22 450.80,82.21 451.30,82.20 451.80,82.19 452.30,82.17 452.80,82.16 453.30,82.15 453.80,82.13 454.30,82.12 454.80,82.10 455.30,82.09 455.80,82.07 456.30,82.05 456.80,82.03 457.30,82.00 457.80,81.98 458.30,81.95 458.80,81.92 459.30,81.89 459.80,81.86 460.30,81.82 460.80,81.78 461.30,81.73 461.80,81.68 462.30,81.63 462.80,81.57 463.30,81.50 463.80,81.43 464.30,81.34 464.80,81.24 465.30,81.13 465.80,81.00 466.30,80.84 466.80,80.64 467.30,80.38 467.80,80.03 468.30,79.55 468.80,78.88 469.30,77.95 469.80,76.67 470.30,74.97 470.80,72.77 471.30,70.05 471.80,66.85 472.30,63.29 472.80,59.58 473.30,56.07 473.80,53.21 474.30,51.49 474.80,51.19 475.30,52.24 475.80,54.22 476.30,56.58 476.80,58.86 477.30,60.69 477.80,61.90 478.30,62.41 478.80,62.29 479.30,61.71 479.80,60.90 480.30,60.16 480.80,59.78 481.30,59.93 481.80,60.60 482.30,61.63 482.80,62.75 483.30,63.70 483.80,64.25 484.30,64.28 484.80,63.71 485.30,62.57 485.80,61.00 486.30,59.24 486.80,57.61 487.30,56.53 487.80,56.37 488.30,57.30 488.80,59.21 489.30,61.79 489.80,64.70 490.30,67.63 490.80,70.38 491.30,72.81 491.80,74.85 492.30,76.50 492.80,77.79 493.30,78.76 493.80,79.48 494.30,80.00 494.80,80.38 495.30,80.66 495.80,80.87 496.30,81.04 496.80,81.17 497.30,81.28 497.80,81.38 498.30,81.46 498.80,81.54 499.30,81.60 499.80,81.66 500.30,81.71 500.80,81.76 501.30,81.80 501.80,81.84 502.30,81.88 502.80,81.91 503.30,81.94 503.80,81.97 504.30,82.00 504.80,82.02 505.30,82.04 505.80,82.06 506.30,82.08 506.80,82.10 507.30,82.12 507.80,82.13 508.30,82.15 508.80,82.16 509.30,82.17 509.80,82.19 510.30,82.20 510.80,82.21 511.30,82.22 511.80,82.23 512.30,82.24 512.80,82.25 513.30,82.26 513.80,82.26 514.30,82.27 514.80,82.28 515.30,82.28 515.80,82.29 516.30,82.30 516.80,82.30 517.30,82.31 517.80,82.31 518.30,82.32 518.80,82.32 519.30,82.33 519.80,82.33 520.30,82.34 520.80,82.34 521.30,82.35 521.80,82.35 522.30,82.35 522.80,82.36 523.30,82.36 523.80,82.36 524.30,82.37 524.80,82.37" fill="none" stroke="#8e8e8e" stroke-width="1.3" stroke-linejoin="round"/>
<polyline points="320.80,98.94 321.30,98.94 321.80,98.94 322.30,98.94 322.80,98.94 323.30,98.94 323.80,98.93 324.30,98.93 324.80,98.93 325.30,98.93 325.80,98.93 326.30,98.92 326.80,98.92 327.30,98.92 327.80,98.92 328.30,98.91 328.80,98.91 329.30,98.91 329.80,98.90 330.30,98.90 330.80,98.90 331.30,98.89 331.80,98.89 332.30,98.88 332.80,98.88 333.30,98.87 333.80,98.87 334.30,98.86 334.80,98.86 335.30,98.85 335.80,98.84 336.30,98.83 336.80,98.83 337.30,98.82 337.80,98.81 338.30,98.80 338.80,98.78 339.30,98.77 339.80,98.76 340.30,98.74 340.80,98.72 341.30,98.70 341.80,98.68 342.30,98.66 342.80,98.63 343.30,98.60 343.80,98.57 344.30,98.52 344.80,98.48 345.30,98.42 345.80,98.34 346.30,98.24 346.80,98.10 347.30,97.90 347.80,97.62 348.30,97.23 348.80,96.70 349.30,96.00 349.80,95.11 350.30,94.04 350.80,92.81 351.30,91.49 351.80,90.21 352.30,89.11 352.80,88.39 353.30,88.15 353.80,88.38 354.30,88.96 354.80,89.71 355.30,90.48 355.80,91.19 356.30,91.78 356.80,92.26 357.30,92.63 357.80,92.93 358.30,93.20 358.80,93.47 359.30,93.74 359.80,94.02 360.30,94.31 360.80,94.59 361.30,94.85 361.80,95.11 362.30,95.34 362.80,95.56 363.30,95.78 363.80,96.01 364.30,96.24 364.80,96.49 365.30,96.74 365.80,97.00 366.30,97.24 366.80,97.47 367.30,97.68 367.80,97.87 368.30,98.04 368.80,98.18 369.30,98.30 369.80,98.40 370.30,98.48 370.80,98.54 371.30,98.59 371.80,98.64 372.30,98.67 372.80,98.70 373.30,98.72 373.80,98.74 374.30,98.76 374.80,98.77 375.30,98.79 375.80,98.80 376.30,98.81 376.80,98.82 377.30,98.83 377.80,98.83 378.30,98.84 378.80,98.85 379.30,98.85 379.80,98.86 380.30,98.86 380.80,98.87 381.30,98.87 381.80,98.88 382.30,98.88 382.80,98.89 383.30,98.89 383.80,98.89 384.30,98.90 384.80,98.90 385.30,98.90 385.80,98.90 386.30,98.91 386.80,98.91 387.30,98.91 387.80,98.91 388.30,98.92 388.80,98.92 389.30,98.92 389.80,98.92 390.30,98.92 390.80,98.92 391.30,98.93 391.80,98.93 392.30,98.93 392.80,98.93 393.30,98.93 393.80,98.93 394.30,98.93 394.80,98.93 395.30,98.93 395.80,98.94 396.30,98.94 396.80,98.94 397.30,98.94 397.80,98.94 398.30,98.94 398.80,98.94 399.30,98.94 399.80,98.94 400.30,98.94 400.80,98.94 401.30,98.94 401.80,98.94 402.30,98.94 402.80,98.94 403.30,98.94 403.80,98.94 404.30,98.94 404.80,98.94 405.30,98.94 405.80,98.94 406.30,98.94 406.80,98.94 407.30,98.94 407.80,98.94 408.30,98.94 408.80,98.94 409.30,98.94 409.80,98.94 410.30,98.94 410.80,98.94 411.30,98.94 411.80,98.94 412.30,98.94 412.80,98.94 413.30,98.94 413.80,98.94 414.30,98.94 414.80,98.94 415.30,98.94 415.80,98.94 416.30,98.94 416.80,98.94 417.30,98.94 417.80,98.94 418.30,98.94 418.80,98.94 419.30,98.94 419.80,98.94 420.30,98.94 420.80,98.94 421.30,98.94 421.80,98.94 422.30,98.94 422.80,98.93 423.30,98.93 423.80,98.93 424.30,98.93 424.80,98.93 425.30,98.93 425.80,98.93 426.30,98.93 426.80,98.93 427.30,98.93 427.80,98.93 428.30,98.93 428.80,98.92 429.30,98.92 429.80,98.92 430.30,98.92 430.80,98.92 431.30,98.92 431.80,98.92 432.30,98.92 432.80,98.91 433.30,98.91 433.80,98.91 434.30,98.91 434.80,98.91 435.30,98.91 435.80,98.90 436.30,98.90 436.80,98.90 437.30,98.90 437.80,98.90 438.30,98.89 438.80,98.89 439.30,98.89 439.80,98.89 440.30,98.88 440.80,98.88 441.30,98.88 441.80,98.87 442.30,98.87 442.80,98.87 443.30,98.86 443.80,98.86 444.30,98.86 444.80,98.85 445.30,98.85 445.80,98.84 446.30,98.84 446.80,98.84 447.30,98.83 447.80,98.82 448.30,98.82 448.80,98.81 449.30,98.81 449.80,98.80 450.30,98.79 450.80,98.79 451.30,98.78 451.80,98.77 452.30,98.76 452.80,98.75 453.30,98.74 453.80,98.73 454.30,98.72 454.80,98.71 455.30,98.70 455.80,98.68 456.30,98.67 456.80,98.65 457.30,98.63 457.80,98.62 458.30,98.60 458.80,98.57 459.30,98.55 459.80,98.52 460.30,98.50 460.80,98.47 461.30,98.43 461.80,98.39 462.30,98.35 462.80,98.31 463.30,98.26 463.80,98.20 464.30,98.13 464.80,98.06 465.30,97.98 465.80,97.88 466.30,97.77 466.80,97.64 467.30,97.48 467.80,97.27 468.30,97.00 468.80,96.62 469.30,96.08 469.80,95.27 470.30,94.10 470.80,92.41 471.30,90.10 471.80,87.09 472.30,83.39 472.80,79.16 473.30,74.74 473.80,70.70 474.30,67.78 474.80,66.65 475.30,67.50 475.80,69.85 476.30,72.91 476.80,75.97 477.30,78.56 477.80,80.46 478.30,81.64 478.80,82.23 479.30,82.48 479.80,82.64 480.30,82.91 480.80,83.37 481.30,83.94 481.80,84.49 482.30,84.89 482.80,85.06 483.30,84.95 483.80,84.60 484.30,84.07 484.80,83.51 485.30,83.11 485.80,83.05 486.30,83.46 486.80,84.36 487.30,85.65 487.80,87.19 488.30,88.81 488.80,90.41 489.30,91.89 489.80,93.21 490.30,94.33 490.80,95.26 491.30,95.99 491.80,96.57 492.30,97.00 492.80,97.33 493.30,97.58 493.80,97.76 494.30,97.90 494.80,98.02 495.30,98.11 495.80,98.18 496.30,98.24 496.80,98.30 497.30,98.35 497.80,98.39 498.30,98.43 498.80,98.46 499.30,98.49 499.80,98.52 500.30,98.55 500.80,98.57 501.30,98.60 501.80,98.62 502.30,98.64 502.80,98.65 503.30,98.67 503.80,98.68 504.30,98.70 504.80,98.71 505.30,98.72 505.80,98.74 506.30,98.75 506.80,98.76 507.30,98.77 507.80,98.77 508.30,98.78 508.80,98.79 509.30,98.80 509.80,98.81 510.30,98.81 510.80,98.82 511.30,98.82 511.80,98.83 512.30,98.84 512.80,98.84 513.30,98.85 513.80,98.85 514.30,98.85 514.80,98.86 515.30,98.86 515.80,98.87 516.30,98.87 516.80,98.87 517.30,98.88 517.80,98.88 518.30,98.88 518.80,98.89 519.30,98.89 519.80,98.89 520.30,98.90 520.80,98.90 521.30,98.90 521.80,98.90 522.30,98.91 522.80,98.91 523.30,98.91 523.80,98.91 524.30,98.91 524.80,98.92" fill="none" stroke="#1c1c1c" stroke-width="1.5" stroke-linejoin="round"/>
<polyline points="320.80,115.44 321.30,115.43 321.80,115.43 322.30,115.43 322.80,115.43 323.30,115.43 323.80,115.43 324.30,115.42 324.80,115.42 325.30,115.42 325.80,115.42 326.30,115.41 326.80,115.41 327.30,115.41 327.80,115.41 328.30,115.40 328.80,115.40 329.30,115.40 329.80,115.39 330.30,115.39 330.80,115.38 331.30,115.38 331.80,115.38 332.30,115.37 332.80,115.37 333.30,115.36 333.80,115.35 334.30,115.35 334.80,115.34 335.30,115.33 335.80,115.33 336.30,115.32 336.80,115.31 337.30,115.30 337.80,115.29 338.30,115.28 338.80,115.26 339.30,115.25 339.80,115.23 340.30,115.22 340.80,115.20 341.30,115.18 341.80,115.16 342.30,115.13 342.80,115.10 343.30,115.07 343.80,115.03 344.30,114.98 344.80,114.92 345.30,114.84 345.80,114.74 346.30,114.61 346.80,114.42 347.30,114.17 347.80,113.84 348.30,113.40 348.80,112.84 349.30,112.15 349.80,111.34 350.30,110.41 350.80,109.40 351.30,108.38 351.80,107.42 352.30,106.64 352.80,106.14 353.30,105.98 353.80,106.14 354.30,106.55 354.80,107.07 355.30,107.59 355.80,108.04 356.30,108.37 356.80,108.56 357.30,108.61 357.80,108.56 358.30,108.46 358.80,108.37 359.30,108.35 359.80,108.43 360.30,108.63 360.80,108.93 361.30,109.27 361.80,109.63 362.30,109.98 362.80,110.28 363.30,110.55 363.80,110.79 364.30,111.03 364.80,111.29 365.30,111.61 365.80,111.98 366.30,112.38 366.80,112.80 367.30,113.20 367.80,113.57 368.30,113.90 368.80,114.18 369.30,114.41 369.80,114.60 370.30,114.75 370.80,114.86 371.30,114.95 371.80,115.01 372.30,115.06 372.80,115.11 373.30,115.14 373.80,115.16 374.30,115.19 374.80,115.21 375.30,115.22 375.80,115.24 376.30,115.25 376.80,115.27 377.30,115.28 377.80,115.29 378.30,115.30 378.80,115.31 379.30,115.31 379.80,115.32 380.30,115.33 380.80,115.33 381.30,115.34 381.80,115.35 382.30,115.35 382.80,115.36 383.30,115.36 383.80,115.36 384.30,115.37 384.80,115.37 385.30,115.37 385.80,115.38 386.30,115.38 386.80,115.38 387.30,115.39 387.80,115.39 388.30,115.39 388.80,115.39 389.30,115.39 389.80,115.40 390.30,115.40 390.80,115.40 391.30,115.40 391.80,115.40 392.30,115.40 392.80,115.40 393.30,115.41 393.80,115.41 394.30,115.41 394.80,115.41 395.30,115.41 395.80,115.41 396.30,115.41 396.80,115.41 397.30,115.41 397.80,115.41 398.30,115.41 398.80,115.41 399.30,115.41 399.80,115.42 400.30,115.42 400.80,115.42 401.30,115.42 401.80,115.42 402.30,115.42 402.80,115.42 403.30,115.42 403.80,115.42 404.30,115.42 404.80,115.42 405.30,115.42 405.80,115.42 406.30,115.42 406.80,115.42 407.30,115.42 407.80,115.42 408.30,115.42 408.80,115.42 409.30,115.42 409.80,115.41 410.30,115.41 410.80,115.41 411.30,115.41 411.80,115.41 412.30,115.41 412.80,115.41 413.30,115.41 413.80,115.41 414.30,115.41 414.80,115.41 415.30,115.41 415.80,115.41 416.30,115.41 416.80,115.41 417.30,115.41 417.80,115.40 418.30,115.40 418.80,115.40 419.30,115.40 419.80,115.40 420.30,115.40 420.80,115.40 421.30,115.40 421.80,115.40 422.30,115.39 422.80,115.39 423.30,115.39 423.80,115.39 424.30,115.39 424.80,115.39 425.30,115.39 425.80,115.38 426.30,115.38 426.80,115.38 427.30,115.38 427.80,115.38 428.30,115.37 428.80,115.37 429.30,115.37 429.80,115.37 430.30,115.37 430.80,115.36 431.30,115.36 431.80,115.36 432.30,115.36 432.80,115.35 433.30,115.35 433.80,115.35 434.30,115.34 434.80,115.34 435.30,115.34 435.80,115.34 436.30,115.33 436.80,115.33 437.30,115.32 437.80,115.32 438.30,115.32 438.80,115.31 439.30,115.31 439.80,115.30 440.30,115.30 440.80,115.29 441.30,115.29 441.80,115.28 442.30,115.28 442.80,115.27 443.30,115.26 443.80,115.26 444.30,115.25 444.80,115.24 445.30,115.24 445.80,115.23 446.30,115.22 446.80,115.21 447.30,115.20 447.80,115.19 448.30,115.18 448.80,115.17 449.30,115.16 449.80,115.15 450.30,115.14 450.80,115.12 451.30,115.11 451.80,115.10 452.30,115.08 452.80,115.06 453.30,115.05 453.80,115.03 454.30,115.01 454.80,114.99 455.30,114.96 455.80,114.94 456.30,114.91 456.80,114.88 457.30,114.85 457.80,114.82 458.30,114.78 458.80,114.74 459.30,114.70 459.80,114.66 460.30,114.61 460.80,114.55 461.30,114.49 461.80,114.42 462.30,114.35 462.80,114.26 463.30,114.17 463.80,114.06 464.30,113.94 464.80,113.80 465.30,113.63 465.80,113.41 466.30,113.14 466.80,112.78 467.30,112.30 467.80,111.65 468.30,110.76 468.80,109.58 469.30,108.04 469.80,106.07 470.30,103.64 470.80,100.76 471.30,97.50 471.80,93.97 472.30,90.39 472.80,87.06 473.30,84.35 473.80,82.64 474.30,82.13 474.80,82.77 475.30,84.22 475.80,86.05 476.30,87.85 476.80,89.34 477.30,90.32 477.80,90.73 478.30,90.60 478.80,90.07 479.30,89.34 479.80,88.67 480.30,88.29 480.80,88.35 481.30,88.87 481.80,89.72 482.30,90.70 482.80,91.60 483.30,92.26 483.80,92.60 484.30,92.59 484.80,92.26 485.30,91.74 485.80,91.21 486.30,90.89 486.80,91.00 487.30,91.70 487.80,93.00 488.30,94.81 488.80,96.95 489.30,99.23 489.80,101.52 490.30,103.69 490.80,105.67 491.30,107.40 491.80,108.88 492.30,110.10 492.80,111.08 493.30,111.86 493.80,112.46 494.30,112.92 494.80,113.28 495.30,113.55 495.80,113.76 496.30,113.93 496.80,114.07 497.30,114.18 497.80,114.28 498.30,114.36 498.80,114.44 499.30,114.51 499.80,114.57 500.30,114.62 500.80,114.67 501.30,114.72 501.80,114.76 502.30,114.80 502.80,114.83 503.30,114.86 503.80,114.89 504.30,114.92 504.80,114.95 505.30,114.97 505.80,115.00 506.30,115.02 506.80,115.04 507.30,115.05 507.80,115.07 508.30,115.09 508.80,115.10 509.30,115.12 509.80,115.13 510.30,115.15 510.80,115.16 511.30,115.17 511.80,115.18 512.30,115.19 512.80,115.20 513.30,115.21 513.80,115.22 514.30,115.23 514.80,115.24 515.30,115.24 515.80,115.25 516.30,115.26 516.80,115.27 517.30,115.27 517.80,115.28 518.30,115.29 518.80,115.29 519.30,115.30 519.80,115.30 520.30,115.31 520.80,115.31 521.30,115.32 521.80,115.32 522.30,115.33 522.80,115.33 523.30,115.33 523.80,115.34 524.30,115.34 524.80,115.34" fill="none" stroke="#8e8e8e" stroke-width="1.3" stroke-linejoin="round"/>
<polyline points="320.80,133.45 321.30,133.45 321.80,133.45 322.30,133.45 322.80,133.44 323.30,133.44 323.80,133.44 324.30,133.44 324.80,133.44 325.30,133.44 325.80,133.43 326.30,133.43 326.80,133.43 327.30,133.43 327.80,133.43 328.30,133.42 328.80,133.42 329.30,133.42 329.80,133.42 330.30,133.41 330.80,133.41 331.30,133.41 331.80,133.40 332.30,133.40 332.80,133.39 333.30,133.39 333.80,133.39 334.30,133.38 334.80,133.38 335.30,133.37 335.80,133.36 336.30,133.36 336.80,133.35 337.30,133.34 337.80,133.33 338.30,133.33 338.80,133.32 339.30,133.31 339.80,133.29 340.30,133.28 340.80,133.27 341.30,133.25 341.80,133.23 342.30,133.21 342.80,133.18 343.30,133.14 343.80,133.10 344.30,133.05 344.80,132.98 345.30,132.90 345.80,132.79 346.30,132.67 346.80,132.52 347.30,132.34 347.80,132.14 348.30,131.91 348.80,131.66 349.30,131.38 349.80,131.09 350.30,130.79 350.80,130.50 351.30,130.21 351.80,129.94 352.30,129.67 352.80,129.38 353.30,129.07 353.80,128.72 354.30,128.33 354.80,127.90 355.30,127.44 355.80,126.98 356.30,126.56 356.80,126.21 357.30,125.96 357.80,125.81 358.30,125.68 358.80,125.41 359.30,124.76 359.80,123.50 360.30,121.50 360.80,118.96 361.30,116.44 361.80,114.77 362.30,114.72 362.80,116.51 363.30,119.63 363.80,123.22 364.30,126.50 364.80,129.05 365.30,130.76 365.80,131.79 366.30,132.35 366.80,132.65 367.30,132.82 367.80,132.92 368.30,132.99 368.80,133.04 369.30,133.08 369.80,133.12 370.30,133.15 370.80,133.18 371.30,133.20 371.80,133.22 372.30,133.24 372.80,133.25 373.30,133.27 373.80,133.28 374.30,133.29 374.80,133.30 375.30,133.31 375.80,133.32 376.30,133.33 376.80,133.34 377.30,133.34 377.80,133.35 378.30,133.36 378.80,133.36 379.30,133.37 379.80,133.37 380.30,133.38 380.80,133.38 381.30,133.38 381.80,133.39 382.30,133.39 382.80,133.39 383.30,133.40 383.80,133.40 384.30,133.40 384.80,133.40 385.30,133.41 385.80,133.41 386.30,133.41 386.80,133.41 387.30,133.41 387.80,133.42 388.30,133.42 388.80,133.42 389.30,133.42 389.80,133.42 390.30,133.42 390.80,133.42 391.30,133.43 391.80,133.43 392.30,133.43 392.80,133.43 393.30,133.43 393.80,133.43 394.30,133.43 394.80,133.43 395.30,133.43 395.80,133.43 396.30,133.43 396.80,133.43 397.30,133.43 397.80,133.43 398.30,133.43 398.80,133.43 399.30,133.44 399.80,133.44 400.30,133.44 400.80,133.44 401.30,133.44 401.80,133.44 402.30,133.44 402.80,133.44 403.30,133.44 403.80,133.44 404.30,133.44 404.80,133.44 405.30,133.44 405.80,133.44 406.30,133.44 406.80,133.44 407.30,133.44 407.80,133.44 408.30,133.44 408.80,133.44 409.30,133.44 409.80,133.44 410.30,133.43 410.80,133.43 411.30,133.43 411.80,133.43 412.30,133.43 412.80,133.43 413.30,133.43 413.80,133.43 414.30,133.43 414.80,133.43 415.30,133.43 415.80,133.43 416.30,133.43 416.80,133.43 417.30,133.43 417.80,133.43 418.30,133.43 418.80,133.43 419.30,133.43 419.80,133.42 420.30,133.42 420.80,133.42 421.30,133.42 421.80,133.42 422.30,133.42 422.80,133.42 423.30,133.42 423.80,133.42 424.30,133.42 424.80,133.41 425.30,133.41 425.80,133.41 426.30,133.41 426.80,133.41 427.30,133.41 427.80,133.41 428.30,133.41 428.80,133.40 429.30,133.40 429.80,133.40 430.30,133.40 430.80,133.40 431.30,133.40 431.80,133.39 432.30,133.39 432.80,133.39 433.30,133.39 433.80,133.38 434.30,133.38 434.80,133.38 435.30,133.38 435.80,133.38 436.30,133.37 436.80,133.37 437.30,133.37 437.80,133.36 438.30,133.36 438.80,133.36 439.30,133.35 439.80,133.35 440.30,133.35 440.80,133.34 441.30,133.34 441.80,133.34 442.30,133.33 442.80,133.33 443.30,133.32 443.80,133.32 444.30,133.31 444.80,133.31 445.30,133.30 445.80,133.30 446.30,133.29 446.80,133.28 447.30,133.28 447.80,133.27 448.30,133.26 448.80,133.25 449.30,133.25 449.80,133.24 450.30,133.23 450.80,133.22 451.30,133.21 451.80,133.20 452.30,133.19 452.80,133.17 453.30,133.16 453.80,133.15 454.30,133.13 454.80,133.12 455.30,133.10 455.80,133.08 456.30,133.06 456.80,133.04 457.30,133.02 457.80,132.99 458.30,132.97 458.80,132.94 459.30,132.91 459.80,132.87 460.30,132.84 460.80,132.80 461.30,132.75 461.80,132.71 462.30,132.65 462.80,132.59 463.30,132.53 463.80,132.45 464.30,132.37 464.80,132.27 465.30,132.16 465.80,132.03 466.30,131.86 466.80,131.65 467.30,131.38 467.80,130.99 468.30,130.45 468.80,129.69 469.30,128.63 469.80,127.21 470.30,125.39 470.80,123.17 471.30,120.63 471.80,117.93 472.30,115.34 472.80,113.17 473.30,111.66 473.80,110.62 474.30,109.40 474.80,107.65 475.30,106.41 475.80,106.34 476.30,106.21 476.80,105.41 477.30,104.33 477.80,102.89 478.30,100.81 478.80,99.25 479.30,99.43 479.80,100.15 480.30,100.30 480.80,100.32 481.30,100.65 481.80,101.14 482.30,101.13 482.80,100.04 483.30,98.89 483.80,98.92 484.30,99.06 484.80,98.39 485.30,97.67 485.80,97.79 486.30,99.17 486.80,101.84 487.30,105.52 487.80,109.76 488.30,114.10 488.80,118.19 489.30,121.77 489.80,124.72 490.30,127.01 490.80,128.70 491.30,129.90 491.80,130.72 492.30,131.27 492.80,131.65 493.30,131.90 493.80,132.08 494.30,132.22 494.80,132.33 495.30,132.42 495.80,132.50 496.30,132.57 496.80,132.64 497.30,132.69 497.80,132.74 498.30,132.79 498.80,132.83 499.30,132.87 499.80,132.90 500.30,132.93 500.80,132.96 501.30,132.99 501.80,133.01 502.30,133.04 502.80,133.06 503.30,133.08 503.80,133.10 504.30,133.11 504.80,133.13 505.30,133.14 505.80,133.16 506.30,133.17 506.80,133.18 507.30,133.20 507.80,133.21 508.30,133.22 508.80,133.23 509.30,133.24 509.80,133.25 510.30,133.26 510.80,133.26 511.30,133.27 511.80,133.28 512.30,133.29 512.80,133.29 513.30,133.30 513.80,133.30 514.30,133.31 514.80,133.32 515.30,133.32 515.80,133.33 516.30,133.33 516.80,133.34 517.30,133.34 517.80,133.34 518.30,133.35 518.80,133.35 519.30,133.36 519.80,133.36 520.30,133.36 520.80,133.37 521.30,133.37 521.80,133.37 522.30,133.38 522.80,133.38 523.30,133.38 523.80,133.38 524.30,133.39 524.80,133.39" fill="none" stroke="#1c1c1c" stroke-width="1.5" stroke-linejoin="round"/>
<polyline points="320.80,149.95 321.30,149.94 321.80,149.94 322.30,149.94 322.80,149.94 323.30,149.94 323.80,149.94 324.30,149.94 324.80,149.93 325.30,149.93 325.80,149.93 326.30,149.93 326.80,149.93 327.30,149.92 327.80,149.92 328.30,149.92 328.80,149.92 329.30,149.92 329.80,149.91 330.30,149.91 330.80,149.91 331.30,149.90 331.80,149.90 332.30,149.90 332.80,149.90 333.30,149.89 333.80,149.89 334.30,149.88 334.80,149.88 335.30,149.88 335.80,149.87 336.30,149.87 336.80,149.86 337.30,149.86 337.80,149.85 338.30,149.84 338.80,149.84 339.30,149.83 339.80,149.82 340.30,149.81 340.80,149.80 341.30,149.79 341.80,149.78 342.30,149.77 342.80,149.76 343.30,149.75 343.80,149.73 344.30,149.71 344.80,149.69 345.30,149.67 345.80,149.64 346.30,149.61 346.80,149.57 347.30,149.53 347.80,149.48 348.30,149.41 348.80,149.33 349.30,149.24 349.80,149.13 350.30,149.01 350.80,148.86 351.30,148.68 351.80,148.48 352.30,148.25 352.80,147.99 353.30,147.70 353.80,147.38 354.30,147.03 354.80,146.66 355.30,146.27 355.80,145.86 356.30,145.45 356.80,145.05 357.30,144.66 357.80,144.31 358.30,144.00 358.80,143.75 359.30,143.58 359.80,143.49 360.30,143.50 360.80,143.60 361.30,143.79 361.80,144.05 362.30,144.37 362.80,144.74 363.30,145.13 363.80,145.54 364.30,145.94 364.80,146.35 365.30,146.73 365.80,147.10 366.30,147.44 366.80,147.75 367.30,148.04 367.80,148.29 368.30,148.52 368.80,148.71 369.30,148.88 369.80,149.03 370.30,149.15 370.80,149.26 371.30,149.35 371.80,149.42 372.30,149.48 372.80,149.53 373.30,149.58 373.80,149.61 374.30,149.64 374.80,149.67 375.30,149.69 375.80,149.71 376.30,149.73 376.80,149.74 377.30,149.75 377.80,149.77 378.30,149.78 378.80,149.79 379.30,149.80 379.80,149.80 380.30,149.81 380.80,149.82 381.30,149.83 381.80,149.83 382.30,149.84 382.80,149.84 383.30,149.85 383.80,149.85 384.30,149.86 384.80,149.86 385.30,149.87 385.80,149.87 386.30,149.87 386.80,149.88 387.30,149.88 387.80,149.88 388.30,149.89 388.80,149.89 389.30,149.89 389.80,149.89 390.30,149.90 390.80,149.90 391.30,149.90 391.80,149.90 392.30,149.90 392.80,149.91 393.30,149.91 393.80,149.91 394.30,149.91 394.80,149.91 395.30,149.91 395.80,149.92 396.30,149.92 396.80,149.92 397.30,149.92 397.80,149.92 398.30,149.92 398.80,149.92 399.30,149.92 399.80,149.92 400.30,149.92 400.80,149.92 401.30,149.92 401.80,149.93 402.30,149.93 402.80,149.93 403.30,149.93 403.80,149.93 404.30,149.93 404.80,149.93 405.30,149.93 405.80,149.93 406.30,149.93 406.80,149.93 407.30,149.93 407.80,149.93 408.30,149.93 408.80,149.93 409.30,149.93 409.80,149.93 410.30,149.93 410.80,149.93 411.30,149.93 411.80,149.93 412.30,149.93 412.80,149.93 413.30,149.93 413.80,149.93 414.30,149.93 414.80,149.93 415.30,149.93 415.80,149.93 416.30,149.93 416.80,149.93 417.30,149.93 417.80,149.93 418.30,149.92 418.80,149.92 419.30,149.92 419.80,149.92 420.30,149.92 420.80,149.92 421.30,149.92 421.80,149.92 422.30,149.92 422.80,149.92 423.30,149.92 423.80,149.92 424.30,149.92 424.80,149.92 425.30,149.91 425.80,149.91 426.30,149.91 426.80,149.91 427.30,149.91 427.80,149.91 428.30,149.91 428.80,149.91 429.30,149.91 429.80,149.90 430.30,149.90 430.80,149.90 431.30,149.90 431.80,149.90 432.30,149.90 432.80,149.89 433.30,149.89 433.80,149.89 434.30,149.89 434.80,149.89 435.30,149.88 435.80,149.88 436.30,149.88 436.80,149.88 437.30,149.88 437.80,149.87 438.30,149.87 438.80,149.87 439.30,149.87 439.80,149.86 440.30,149.86 440.80,149.86 441.30,149.85 441.80,149.85 442.30,149.85 442.80,149.84 443.30,149.84 443.80,149.83 444.30,149.83 444.80,149.82 445.30,149.82 445.80,149.82 446.30,149.81 446.80,149.80 447.30,149.80 447.80,149.79 448.30,149.79 448.80,149.78 449.30,149.77 449.80,149.77 450.30,149.76 450.80,149.75 451.30,149.74 451.80,149.73 452.30,149.72 452.80,149.71 453.30,149.70 453.80,149.69 454.30,149.68 454.80,149.67 455.30,149.65 455.80,149.64 456.30,149.62 456.80,149.61 457.30,149.59 457.80,149.57 458.30,149.55 458.80,149.53 459.30,149.51 459.80,149.48 460.30,149.45 460.80,149.42 461.30,149.39 461.80,149.35 462.30,149.31 462.80,149.26 463.30,149.20 463.80,149.13 464.30,149.05 464.80,148.96 465.30,148.84 465.80,148.71 466.30,148.54 466.80,148.34 467.30,148.11 467.80,147.82 468.30,147.49 468.80,147.10 469.30,146.66 469.80,146.15 470.30,145.57 470.80,144.94 471.30,144.25 471.80,143.50 472.30,142.72 472.80,141.90 473.30,141.08 473.80,140.25 474.30,139.45 474.80,138.69 475.30,137.98 475.80,137.35 476.30,136.77 476.80,136.24 477.30,135.72 477.80,135.19 478.30,134.62 478.80,134.00 479.30,133.33 479.80,132.64 480.30,131.98 480.80,131.40 481.30,130.98 481.80,130.77 482.30,130.76 482.80,130.85 483.30,130.90 483.80,130.72 484.30,130.13 484.80,129.03 485.30,127.38 485.80,125.25 486.30,122.85 486.80,120.46 487.30,118.46 487.80,117.25 488.30,117.16 488.80,118.34 489.30,120.68 489.80,123.89 490.30,127.58 490.80,131.40 491.30,135.05 491.80,138.32 492.30,141.08 492.80,143.31 493.30,145.01 493.80,146.27 494.30,147.17 494.80,147.79 495.30,148.21 495.80,148.50 496.30,148.71 496.80,148.85 497.30,148.96 497.80,149.05 498.30,149.12 498.80,149.19 499.30,149.24 499.80,149.29 500.30,149.33 500.80,149.37 501.30,149.41 501.80,149.44 502.30,149.47 502.80,149.50 503.30,149.52 503.80,149.55 504.30,149.57 504.80,149.59 505.30,149.61 505.80,149.62 506.30,149.64 506.80,149.66 507.30,149.67 507.80,149.68 508.30,149.70 508.80,149.71 509.30,149.72 509.80,149.73 510.30,149.74 510.80,149.75 511.30,149.76 511.80,149.76 512.30,149.77 512.80,149.78 513.30,149.79 513.80,149.79 514.30,149.80 514.80,149.81 515.30,149.81 515.80,149.82 516.30,149.82 516.80,149.83 517.30,149.83 517.80,149.84 518.30,149.84 518.80,149.85 519.30,149.85 519.80,149.85 520.30,149.86 520.80,149.86 521.30,149.87 521.80,149.87 522.30,149.87 522.80,149.87 523.30,149.88 523.80,149.88 524.30,149.88 524.80,149.89" fill="none" stroke="#8e8e8e" stroke-width="1.3" stroke-linejoin="round"/>
<polyline points="320.80,166.47 321.30,166.47 321.80,166.47 322.30,166.47 322.80,166.47 323.30,166.47 323.80,166.47 324.30,166.47 324.80,166.47 325.30,166.47 325.80,166.47 326.30,166.46 326.80,166.46 327.30,166.46 327.80,166.46 328.30,166.46 328.80,166.46 329.30,166.46 329.80,166.46 330.30,166.46 330.80,166.46 331.30,166.45 331.80,166.45 332.30,166.45 332.80,166.45 333.30,166.45 333.80,166.45 334.30,166.45 334.80,166.44 335.30,166.44 335.80,166.44 336.30,166.44 336.80,166.44 337.30,166.44 337.80,166.43 338.30,166.43 338.80,166.43 339.30,166.43 339.80,166.42 340.30,166.42 340.80,166.42 341.30,166.41 341.80,166.41 342.30,166.41 342.80,166.40 343.30,166.40 343.80,166.39 344.30,166.39 344.80,166.38 345.30,166.38 345.80,166.37 346.30,166.36 346.80,166.35 347.30,166.35 347.80,166.34 348.30,166.33 348.80,166.32 349.30,166.31 349.80,166.29 350.30,166.28 350.80,166.26 351.30,166.25 351.80,166.23 352.30,166.20 352.80,166.18 353.30,166.15 353.80,166.12 354.30,166.08 354.80,166.04 355.30,165.98 355.80,165.91 356.30,165.83 356.80,165.71 357.30,165.54 357.80,165.32 358.30,165.00 358.80,164.56 359.30,163.96 359.80,163.18 360.30,162.19 360.80,161.00 361.30,159.62 361.80,158.12 362.30,156.60 362.80,155.20 363.30,154.11 363.80,153.54 364.30,153.61 364.80,154.30 365.30,155.46 365.80,156.90 366.30,158.43 366.80,159.91 367.30,161.25 367.80,162.41 368.30,163.35 368.80,164.09 369.30,164.65 369.80,165.07 370.30,165.37 370.80,165.58 371.30,165.73 371.80,165.84 372.30,165.93 372.80,165.99 373.30,166.04 373.80,166.09 374.30,166.12 374.80,166.15 375.30,166.18 375.80,166.20 376.30,166.23 376.80,166.24 377.30,166.26 377.80,166.28 378.30,166.29 378.80,166.30 379.30,166.31 379.80,166.32 380.30,166.33 380.80,166.34 381.30,166.35 381.80,166.36 382.30,166.36 382.80,166.37 383.30,166.38 383.80,166.38 384.30,166.39 384.80,166.39 385.30,166.39 385.80,166.40 386.30,166.40 386.80,166.41 387.30,166.41 387.80,166.41 388.30,166.41 388.80,166.42 389.30,166.42 389.80,166.42 390.30,166.42 390.80,166.43 391.30,166.43 391.80,166.43 392.30,166.43 392.80,166.43 393.30,166.43 393.80,166.44 394.30,166.44 394.80,166.44 395.30,166.44 395.80,166.44 396.30,166.44 396.80,166.44 397.30,166.44 397.80,166.44 398.30,166.44 398.80,166.45 399.30,166.45 399.80,166.45 400.30,166.45 400.80,166.45 401.30,166.45 401.80,166.45 402.30,166.45 402.80,166.45 403.30,166.45 403.80,166.45 404.30,166.45 404.80,166.45 405.30,166.45 405.80,166.45 406.30,166.45 406.80,166.45 407.30,166.45 407.80,166.45 408.30,166.45 408.80,166.45 409.30,166.45 409.80,166.45 410.30,166.45 410.80,166.45 411.30,166.45 411.80,166.45 412.30,166.45 412.80,166.45 413.30,166.45 413.80,166.45 414.30,166.45 414.80,166.45 415.30,166.45 415.80,166.45 416.30,166.45 416.80,166.45 417.30,166.45 417.80,166.45 418.30,166.45 418.80,166.45 419.30,166.45 419.80,166.45 420.30,166.45 420.80,166.45 421.30,166.45 421.80,166.45 422.30,166.45 422.80,166.45 423.30,166.45 423.80,166.45 424.30,166.45 424.80,166.45 425.30,166.45 425.80,166.45 426.30,166.45 426.80,166.45 427.30,166.45 427.80,166.44 428.30,166.44 428.80,166.44 429.30,166.44 429.80,166.44 430.30,166.44 430.80,166.44 431.30,166.44 431.80,166.44 432.30,166.44 432.80,166.44 433.30,166.44 433.80,166.44 434.30,166.43 434.80,166.43 435.30,166.43 435.80,166.43 436.30,166.43 436.80,166.43 437.30,166.43 437.80,166.43 438.30,166.43 438.80,166.42 439.30,166.42 439.80,166.42 440.30,166.42 440.80,166.42 441.30,166.42 441.80,166.42 442.30,166.41 442.80,166.41 443.30,166.41 443.80,166.41 444.30,166.41 444.80,166.40 445.30,166.40 445.80,166.40 446.30,166.40 446.80,166.39 447.30,166.39 447.80,166.39 448.30,166.39 448.80,166.38 449.30,166.38 449.80,166.38 450.30,166.37 450.80,166.37 451.30,166.37 451.80,166.36 452.30,166.36 452.80,166.36 453.30,166.35 453.80,166.35 454.30,166.34 454.80,166.34 455.30,166.33 455.80,166.33 456.30,166.32 456.80,166.32 457.30,166.31 457.80,166.30 458.30,166.30 458.80,166.29 459.30,166.28 459.80,166.27 460.30,166.27 460.80,166.26 461.30,166.25 461.80,166.24 462.30,166.23 462.80,166.22 463.30,166.20 463.80,166.19 464.30,166.18 464.80,166.16 465.30,166.14 465.80,166.12 466.30,166.10 466.80,166.08 467.30,166.05 467.80,166.02 468.30,165.99 468.80,165.95 469.30,165.91 469.80,165.85 470.30,165.79 470.80,165.72 471.30,165.64 471.80,165.54 472.30,165.43 472.80,165.30 473.30,165.14 473.80,164.97 474.30,164.77 474.80,164.54 475.30,164.28 475.80,163.99 476.30,163.67 476.80,163.33 477.30,162.95 477.80,162.54 478.30,162.11 478.80,161.66 479.30,161.19 479.80,160.72 480.30,160.24 480.80,159.78 481.30,159.33 481.80,158.92 482.30,158.56 482.80,158.25 483.30,157.99 483.80,157.79 484.30,157.63 484.80,157.47 485.30,157.27 485.80,156.95 486.30,156.43 486.80,155.62 487.30,154.45 487.80,152.84 488.30,150.80 488.80,148.38 489.30,145.72 489.80,143.02 490.30,140.58 490.80,138.73 491.30,137.80 491.80,138.01 492.30,139.38 492.80,141.72 493.30,144.72 493.80,148.04 494.30,151.36 494.80,154.46 495.30,157.18 495.80,159.44 496.30,161.22 496.80,162.58 497.30,163.56 497.80,164.26 498.30,164.74 498.80,165.07 499.30,165.30 499.80,165.46 500.30,165.58 500.80,165.67 501.30,165.74 501.80,165.80 502.30,165.85 502.80,165.89 503.30,165.93 503.80,165.97 504.30,166.00 504.80,166.03 505.30,166.06 505.80,166.08 506.30,166.10 506.80,166.12 507.30,166.14 507.80,166.16 508.30,166.17 508.80,166.19 509.30,166.20 509.80,166.22 510.30,166.23 510.80,166.24 511.30,166.25 511.80,166.26 512.30,166.27 512.80,166.28 513.30,166.29 513.80,166.29 514.30,166.30 514.80,166.31 515.30,166.32 515.80,166.32 516.30,166.33 516.80,166.33 517.30,166.34 517.80,166.34 518.30,166.35 518.80,166.35 519.30,166.36 519.80,166.36 520.30,166.37 520.80,166.37 521.30,166.37 521.80,166.38 522.30,166.38 522.80,166.38 523.30,166.39 523.80,166.39 524.30,166.39 524.80,166.40" fill="none" stroke="#1c1c1c" stroke-width="1.5" stroke-linejoin="round"/>
<polyline points="320.80,182.99 321.30,182.99 321.80,182.99 322.30,182.99 322.80,182.99 323.30,182.99 323.80,182.99 324.30,182.99 324.80,182.99 325.30,182.99 325.80,182.99 326.30,182.99 326.80,182.99 327.30,182.99 327.80,182.99 328.30,182.99 328.80,182.99 329.30,182.99 329.80,182.99 330.30,182.99 330.80,182.99 331.30,182.99 331.80,182.99 332.30,182.99 332.80,182.99 333.30,182.99 333.80,182.99 334.30,182.99 334.80,182.99 335.30,182.99 335.80,182.99 336.30,182.99 336.80,182.99 337.30,182.99 337.80,182.99 338.30,182.99 338.80,182.99 339.30,182.99 339.80,182.98 340.30,182.98 340.80,182.98 341.30,182.98 341.80,182.98 342.30,182.98 342.80,182.98 343.30,182.98 343.80,182.98 344.30,182.98 344.80,182.98 345.30,182.98 345.80,182.98 346.30,182.97 346.80,182.97 347.30,182.97 347.80,182.97 348.30,182.97 348.80,182.97 349.30,182.97 349.80,182.96 350.30,182.96 350.80,182.96 351.30,182.96 351.80,182.95 352.30,182.95 352.80,182.95 353.30,182.95 353.80,182.94 354.30,182.94 354.80,182.93 355.30,182.93 355.80,182.92 356.30,182.91 356.80,182.90 357.30,182.89 357.80,182.88 358.30,182.87 358.80,182.85 359.30,182.83 359.80,182.81 360.30,182.78 360.80,182.74 361.30,182.68 361.80,182.59 362.30,182.45 362.80,182.23 363.30,181.91 363.80,181.44 364.30,180.82 364.80,180.05 365.30,179.20 365.80,178.37 366.30,177.74 366.80,177.50 367.30,177.74 367.80,178.37 368.30,179.20 368.80,180.05 369.30,180.82 369.80,181.44 370.30,181.91 370.80,182.23 371.30,182.45 371.80,182.59 372.30,182.68 372.80,182.74 373.30,182.78 373.80,182.81 374.30,182.83 374.80,182.85 375.30,182.87 375.80,182.88 376.30,182.89 376.80,182.90 377.30,182.91 377.80,182.92 378.30,182.92 378.80,182.93 379.30,182.94 379.80,182.94 380.30,182.94 380.80,182.95 381.30,182.95 381.80,182.95 382.30,182.96 382.80,182.96 383.30,182.96 383.80,182.96 384.30,182.97 384.80,182.97 385.30,182.97 385.80,182.97 386.30,182.97 386.80,182.97 387.30,182.97 387.80,182.97 388.30,182.98 388.80,182.98 389.30,182.98 389.80,182.98 390.30,182.98 390.80,182.98 391.30,182.98 391.80,182.98 392.30,182.98 392.80,182.98 393.30,182.98 393.80,182.98 394.30,182.98 394.80,182.98 395.30,182.98 395.80,182.98 396.30,182.98 396.80,182.99 397.30,182.99 397.80,182.99 398.30,182.99 398.80,182.99 399.30,182.99 399.80,182.99 400.30,182.99 400.80,182.99 401.30,182.99 401.80,182.99 402.30,182.99 402.80,182.99 403.30,182.99 403.80,182.99 404.30,182.99 404.80,182.99 405.30,182.99 405.80,182.99 406.30,182.99 406.80,182.99 407.30,182.99 407.80,182.99 408.30,182.99 408.80,182.99 409.30,182.99 409.80,182.99 410.30,182.99 410.80,182.99 411.30,182.99 411.80,182.99 412.30,182.99 412.80,182.99 413.30,182.99 413.80,182.99 414.30,182.99 414.80,182.99 415.30,182.99 415.80,182.99 416.30,182.99 416.80,182.99 417.30,182.99 417.80,182.99 418.30,182.99 418.80,182.99 419.30,182.99 419.80,182.99 420.30,182.99 420.80,182.99 421.30,182.99 421.80,182.99 422.30,182.99 422.80,182.99 423.30,182.99 423.80,182.99 424.30,182.99 424.80,182.99 425.30,182.99 425.80,182.99 426.30,182.99 426.80,182.99 427.30,182.99 427.80,182.99 428.30,182.99 428.80,182.99 429.30,182.99 429.80,182.99 430.30,182.99 430.80,182.99 431.30,182.99 431.80,182.99 432.30,182.99 432.80,182.99 433.30,182.99 433.80,182.99 434.30,182.99 434.80,182.99 435.30,182.99 435.80,182.99 436.30,182.99 436.80,182.99 437.30,182.99 437.80,182.99 438.30,182.99 438.80,182.99 439.30,182.99 439.80,182.99 440.30,182.98 440.80,182.98 441.30,182.98 441.80,182.98 442.30,182.98 442.80,182.98 443.30,182.98 443.80,182.98 444.30,182.98 444.80,182.98 445.30,182.98 445.80,182.98 446.30,182.98 446.80,182.98 447.30,182.98 447.80,182.98 448.30,182.98 448.80,182.98 449.30,182.98 449.80,182.98 450.30,182.98 450.80,182.98 451.30,182.98 451.80,182.98 452.30,182.98 452.80,182.98 453.30,182.98 453.80,182.97 454.30,182.97 454.80,182.97 455.30,182.97 455.80,182.97 456.30,182.97 456.80,182.97 457.30,182.97 457.80,182.97 458.30,182.97 458.80,182.97 459.30,182.97 459.80,182.97 460.30,182.96 460.80,182.96 461.30,182.96 461.80,182.96 462.30,182.96 462.80,182.96 463.30,182.96 463.80,182.96 464.30,182.95 464.80,182.95 465.30,182.95 465.80,182.95 466.30,182.95 466.80,182.94 467.30,182.94 467.80,182.94 468.30,182.94 468.80,182.93 469.30,182.93 469.80,182.93 470.30,182.93 470.80,182.92 471.30,182.92 471.80,182.91 472.30,182.91 472.80,182.91 473.30,182.90 473.80,182.90 474.30,182.89 474.80,182.88 475.30,182.88 475.80,182.87 476.30,182.86 476.80,182.85 477.30,182.84 477.80,182.83 478.30,182.82 478.80,182.81 479.30,182.79 479.80,182.78 480.30,182.76 480.80,182.74 481.30,182.71 481.80,182.69 482.30,182.65 482.80,182.62 483.30,182.58 483.80,182.53 484.30,182.46 484.80,182.38 485.30,182.26 485.80,182.08 486.30,181.79 486.80,181.30 487.30,180.52 487.80,179.29 488.30,177.46 488.80,174.88 489.30,171.50 489.80,167.39 490.30,162.81 490.80,158.23 491.30,154.28 491.80,151.68 492.30,151.04 492.80,152.51 493.30,155.74 493.80,160.03 494.30,164.68 494.80,169.11 495.30,172.95 495.80,176.01 496.30,178.28 496.80,179.85 497.30,180.88 497.80,181.53 498.30,181.92 498.80,182.16 499.30,182.32 499.80,182.42 500.30,182.49 500.80,182.55 501.30,182.60 501.80,182.63 502.30,182.67 502.80,182.70 503.30,182.72 503.80,182.75 504.30,182.76 504.80,182.78 505.30,182.80 505.80,182.81 506.30,182.83 506.80,182.84 507.30,182.85 507.80,182.86 508.30,182.86 508.80,182.87 509.30,182.88 509.80,182.89 510.30,182.89 510.80,182.90 511.30,182.90 511.80,182.91 512.30,182.91 512.80,182.92 513.30,182.92 513.80,182.92 514.30,182.93 514.80,182.93 515.30,182.93 515.80,182.94 516.30,182.94 516.80,182.94 517.30,182.94 517.80,182.95 518.30,182.95 518.80,182.95 519.30,182.95 519.80,182.95 520.30,182.95 520.80,182.96 521.30,182.96 521.80,182.96 522.30,182.96 522.80,182.96 523.30,182.96 523.80,182.96 524.30,182.97 524.80,182.97" fill="none" stroke="#8e8e8e" stroke-width="1.3" stroke-linejoin="round"/>
<polyline points="320.80,199.50 321.30,199.50 321.80,199.50 322.30,199.50 322.80,199.50 323.30,199.50 323.80,199.50 324.30,199.50 324.80,199.50 325.30,199.50 325.80,199.50 326.30,199.50 326.80,199.50 327.30,199.50 327.80,199.50 328.30,199.50 328.80,199.50 329.30,199.50 329.80,199.50 330.30,199.50 330.80,199.50 331.30,199.50 331.80,199.50 332.30,199.50 332.80,199.50 333.30,199.50 333.80,199.50 334.30,199.50 334.80,199.50 335.30,199.50 335.80,199.50 336.30,199.50 336.80,199.49 337.30,199.49 337.80,199.49 338.30,199.49 338.80,199.49 339.30,199.49 339.80,199.49 340.30,199.49 340.80,199.49 341.30,199.49 341.80,199.49 342.30,199.49 342.80,199.49 343.30,199.49 343.80,199.49 344.30,199.49 344.80,199.49 345.30,199.49 345.80,199.49 346.30,199.49 346.80,199.49 347.30,199.49 347.80,199.49 348.30,199.49 348.80,199.49 349.30,199.49 349.80,199.49 350.30,199.49 350.80,199.49 351.30,199.49 351.80,199.48 352.30,199.48 352.80,199.48 353.30,199.48 353.80,199.48 354.30,199.48 354.80,199.48 355.30,199.48 355.80,199.47 356.30,199.47 356.80,199.47 357.30,199.47 357.80,199.46 358.30,199.46 358.80,199.46 359.30,199.45 359.80,199.45 360.30,199.44 360.80,199.44 361.30,199.43 361.80,199.42 362.30,199.40 362.80,199.39 363.30,199.37 363.80,199.33 364.30,199.27 364.80,199.15 365.30,198.90 365.80,198.43 366.30,197.64 366.80,196.46 367.30,194.99 367.80,193.46 368.30,192.32 368.80,192.02 369.30,192.70 369.80,194.05 370.30,195.60 370.80,196.98 371.30,198.00 371.80,198.65 372.30,199.02 372.80,199.21 373.30,199.30 373.80,199.35 374.30,199.38 374.80,199.40 375.30,199.41 375.80,199.42 376.30,199.43 376.80,199.44 377.30,199.44 377.80,199.45 378.30,199.45 378.80,199.46 379.30,199.46 379.80,199.47 380.30,199.47 380.80,199.47 381.30,199.47 381.80,199.47 382.30,199.48 382.80,199.48 383.30,199.48 383.80,199.48 384.30,199.48 384.80,199.48 385.30,199.48 385.80,199.48 386.30,199.48 386.80,199.49 387.30,199.49 387.80,199.49 388.30,199.49 388.80,199.49 389.30,199.49 389.80,199.49 390.30,199.49 390.80,199.49 391.30,199.49 391.80,199.49 392.30,199.49 392.80,199.49 393.30,199.49 393.80,199.49 394.30,199.49 394.80,199.49 395.30,199.49 395.80,199.49 396.30,199.49 396.80,199.49 397.30,199.49 397.80,199.49 398.30,199.49 398.80,199.49 399.30,199.49 399.80,199.49 400.30,199.49 400.80,199.49 401.30,199.49 401.80,199.49 402.30,199.49 402.80,199.49 403.30,199.49 403.80,199.49 404.30,199.49 404.80,199.49 405.30,199.49 405.80,199.49 406.30,199.49 406.80,199.49 407.30,199.49 407.80,199.49 408.30,199.49 408.80,199.49 409.30,199.49 409.80,199.49 410.30,199.49 410.80,199.49 411.30,199.49 411.80,199.49 412.30,199.49 412.80,199.49 413.30,199.49 413.80,199.49 414.30,199.49 414.80,199.49 415.30,199.49 415.80,199.49 416.30,199.49 416.80,199.49 417.30,199.49 417.80,199.49 418.30,199.49 418.80,199.49 419.30,199.49 419.80,199.49 420.30,199.49 420.80,199.49 421.30,199.49 421.80,199.49 422.30,199.49 422.80,199.49 423.30,199.49 423.80,199.49 424.30,199.49 424.80,199.49 425.30,199.49 425.80,199.49 426.30,199.49 426.80,199.49 427.30,199.49 427.80,199.49 428.30,199.49 428.80,199.49 429.30,199.49 429.80,199.49 430.30,199.49 430.80,199.49 431.30,199.49 431.80,199.49 432.30,199.49 432.80,199.49 433.30,199.49 433.80,199.49 434.30,199.49 434.80,199.49 435.30,199.49 435.80,199.49 436.30,199.49 436.80,199.49 437.30,199.49 437.80,199.49 438.30,199.49 438.80,199.49 439.30,199.49 439.80,199.49 440.30,199.49 440.80,199.49 441.30,199.49 441.80,199.49 442.30,199.49 442.80,199.49 443.30,199.49 443.80,199.49 444.30,199.49 444.80,199.49 445.30,199.49 445.80,199.49 446.30,199.49 446.80,199.49 447.30,199.49 447.80,199.49 448.30,199.49 448.80,199.49 449.30,199.49 449.80,199.49 450.30,199.49 450.80,199.49 451.30,199.49 451.80,199.48 452.30,199.48 452.80,199.48 453.30,199.48 453.80,199.48 454.30,199.48 454.80,199.48 455.30,199.48 455.80,199.48 456.30,199.48 456.80,199.48 457.30,199.48 457.80,199.48 458.30,199.48 458.80,199.48 459.30,199.48 459.80,199.48 460.30,199.48 460.80,199.48 461.30,199.48 461.80,199.47 462.30,199.47 462.80,199.47 463.30,199.47 463.80,199.47 464.30,199.47 464.80,199.47 465.30,199.47 465.80,199.47 466.30,199.47 466.80,199.46 467.30,199.46 467.80,199.46 468.30,199.46 468.80,199.46 469.30,199.46 469.80,199.46 470.30,199.45 470.80,199.45 471.30,199.45 471.80,199.45 472.30,199.44 472.80,199.44 473.30,199.44 473.80,199.44 474.30,199.43 474.80,199.43 475.30,199.43 475.80,199.42 476.30,199.42 476.80,199.41 477.30,199.41 477.80,199.40 478.30,199.40 478.80,199.39 479.30,199.38 479.80,199.37 480.30,199.36 480.80,199.35 481.30,199.34 481.80,199.33 482.30,199.31 482.80,199.30 483.30,199.28 483.80,199.26 484.30,199.23 484.80,199.20 485.30,199.17 485.80,199.13 486.30,199.08 486.80,199.02 487.30,198.94 487.80,198.83 488.30,198.66 488.80,198.36 489.30,197.82 489.80,196.87 490.30,195.26 490.80,192.76 491.30,189.16 491.80,184.51 492.30,179.15 492.80,173.81 493.30,169.57 493.80,167.56 494.30,168.44 494.80,171.92 495.30,176.96 495.80,182.42 496.30,187.42 496.80,191.45 497.30,194.38 497.80,196.32 498.30,197.50 498.80,198.18 499.30,198.56 499.80,198.77 500.30,198.91 500.80,198.99 501.30,199.06 501.80,199.11 502.30,199.15 502.80,199.19 503.30,199.22 503.80,199.25 504.30,199.27 504.80,199.29 505.30,199.31 505.80,199.32 506.30,199.34 506.80,199.35 507.30,199.36 507.80,199.37 508.30,199.38 508.80,199.39 509.30,199.39 509.80,199.40 510.30,199.41 510.80,199.41 511.30,199.42 511.80,199.42 512.30,199.42 512.80,199.43 513.30,199.43 513.80,199.44 514.30,199.44 514.80,199.44 515.30,199.44 515.80,199.45 516.30,199.45 516.80,199.45 517.30,199.45 517.80,199.46 518.30,199.46 518.80,199.46 519.30,199.46 519.80,199.46 520.30,199.46 520.80,199.46 521.30,199.47 521.80,199.47 522.30,199.47 522.80,199.47 523.30,199.47 523.80,199.47 524.30,199.47 524.80,199.47" fill="none" stroke="#1c1c1c" stroke-width="1.5" stroke-linejoin="round"/>
<path d="M320.8,196.5 V199.5 H524.8" stroke="#1c1c1c" stroke-width="1.4" fill="none"/>
<line x1="320.8" y1="199.5" x2="320.8" y2="197.0" stroke="#1c1c1c" stroke-width="1.1"/>
<text x="320.8" y="213.8" font-size="11.8" text-anchor="middle" fill="#262626" font-weight="normal" >1.7</text>
<line x1="365.95000000000005" y1="199.5" x2="365.95000000000005" y2="197.0" stroke="#1c1c1c" stroke-width="1.1"/>
<line x1="411.1" y1="199.5" x2="411.1" y2="197.0" stroke="#1c1c1c" stroke-width="1.1"/>
<text x="411.1" y="213.8" font-size="11.8" text-anchor="middle" fill="#262626" font-weight="normal" >1.9</text>
<line x1="456.25" y1="199.5" x2="456.25" y2="197.0" stroke="#1c1c1c" stroke-width="1.1"/>
<line x1="501.4000000000001" y1="199.5" x2="501.4000000000001" y2="197.0" stroke="#1c1c1c" stroke-width="1.1"/>
<text x="501.4000000000001" y="213.8" font-size="11.8" text-anchor="middle" fill="#262626" font-weight="normal" >2.1</text>
<text x="430" y="228.8" font-size="12" text-anchor="middle" fill="#262626" font-weight="normal" >d spacing (Å)</text>
<text transform="translate(538.6,119.5) rotate(-90)" font-size="12" text-anchor="middle" fill="#262626">Intensity (a.u.)</text>
<text x="358" y="36.4" font-size="12" text-anchor="middle" fill="#262626" font-weight="normal" >(200)</text>
<text x="490" y="38.2" font-size="12" text-anchor="middle" fill="#262626" font-weight="normal" >(111)</text>
<text x="339" y="79" font-size="11.5" text-anchor="middle" fill="#3cb8ea" font-weight="normal" >Ni</text>
<text x="380" y="79" font-size="11.5" text-anchor="middle" fill="#c9376f" font-weight="normal" >Cu</text>
<text x="310" y="399" font-size="12" fill="#262626">(h) An-Ni<tspan font-size="8.5" dy="3">x</tspan><tspan dy="-3">Cu</tspan><tspan font-size="8.5" dy="3">1-x</tspan><tspan dy="-3"> XRD Profile</tspan></text>
<text x="283.3" y="410.79999999999995" font-size="12" font-weight="bold" text-anchor="middle" fill="#262626">x</text>
<line x1="279.6" y1="412.99999999999994" x2="287" y2="412.99999999999994" stroke="#262626" stroke-width="1.1"/>
<text x="283.5" y="426.49999999999994" font-size="11.8" text-anchor="middle" fill="#262626" font-weight="normal" >1</text>
<line x1="299.5" y1="422.29999999999995" x2="315" y2="422.29999999999995" stroke="#d0d0d0" stroke-width="1.1"/>
<path d="M318,422.29999999999995 l-3.2,-1.5 v3 z" fill="#d0d0d0"/>
<text x="283.5" y="443.121" font-size="11.8" text-anchor="middle" fill="#262626" font-weight="normal" >0.89</text>
<line x1="299.5" y1="438.921" x2="315" y2="438.921" stroke="#d0d0d0" stroke-width="1.1"/>
<path d="M318,438.921 l-3.2,-1.5 v3 z" fill="#d0d0d0"/>
<text x="283.5" y="459.74199999999996" font-size="11.8" text-anchor="middle" fill="#262626" font-weight="normal" >0.78</text>
<line x1="299.5" y1="455.542" x2="315" y2="455.542" stroke="#d0d0d0" stroke-width="1.1"/>
<path d="M318,455.542 l-3.2,-1.5 v3 z" fill="#d0d0d0"/>
<text x="283.5" y="476.363" font-size="11.8" text-anchor="middle" fill="#262626" font-weight="normal" >0.67</text>
<line x1="299.5" y1="472.163" x2="315" y2="472.163" stroke="#d0d0d0" stroke-width="1.1"/>
<path d="M318,472.163 l-3.2,-1.5 v3 z" fill="#d0d0d0"/>
<text x="283.5" y="492.984" font-size="11.8" text-anchor="middle" fill="#262626" font-weight="normal" >0.56</text>
<line x1="299.5" y1="488.784" x2="315" y2="488.784" stroke="#d0d0d0" stroke-width="1.1"/>
<path d="M318,488.784 l-3.2,-1.5 v3 z" fill="#d0d0d0"/>
<text x="283.5" y="511.116" font-size="11.8" text-anchor="middle" fill="#262626" font-weight="normal" >0.44</text>
<line x1="299.5" y1="506.916" x2="315" y2="506.916" stroke="#d0d0d0" stroke-width="1.1"/>
<path d="M318,506.916 l-3.2,-1.5 v3 z" fill="#d0d0d0"/>
<text x="283.5" y="527.7370000000001" font-size="11.8" text-anchor="middle" fill="#262626" font-weight="normal" >0.33</text>
<line x1="299.5" y1="523.537" x2="315" y2="523.537" stroke="#d0d0d0" stroke-width="1.1"/>
<path d="M318,523.537 l-3.2,-1.5 v3 z" fill="#d0d0d0"/>
<text x="283.5" y="544.3580000000001" font-size="11.8" text-anchor="middle" fill="#262626" font-weight="normal" >0.22</text>
<line x1="299.5" y1="540.158" x2="315" y2="540.158" stroke="#d0d0d0" stroke-width="1.1"/>
<path d="M318,540.158 l-3.2,-1.5 v3 z" fill="#d0d0d0"/>
<text x="283.5" y="560.979" font-size="11.8" text-anchor="middle" fill="#262626" font-weight="normal" >0.11</text>
<line x1="299.5" y1="556.779" x2="315" y2="556.779" stroke="#d0d0d0" stroke-width="1.1"/>
<path d="M318,556.779 l-3.2,-1.5 v3 z" fill="#d0d0d0"/>
<text x="283.5" y="577.6" font-size="11.8" text-anchor="middle" fill="#262626" font-weight="normal" >0</text>
<line x1="299.5" y1="573.4" x2="315" y2="573.4" stroke="#d0d0d0" stroke-width="1.1"/>
<path d="M318,573.4 l-3.2,-1.5 v3 z" fill="#d0d0d0"/>
<line x1="348.6" y1="420" x2="348.6" y2="573.4" stroke="#3cb8ea" stroke-width="1.1" stroke-dasharray="3 2"/>
<line x1="471.8" y1="389" x2="471.8" y2="573.4" stroke="#3cb8ea" stroke-width="1.1" stroke-dasharray="3 2"/>
<line x1="368.7" y1="422.29999999999995" x2="368.7" y2="573.4" stroke="#c9376f" stroke-width="1" stroke-dasharray="1.2 1.3"/>
<line x1="495.3" y1="422.29999999999995" x2="495.3" y2="573.4" stroke="#c9376f" stroke-width="1" stroke-dasharray="1.2 1.3"/>
<polyline points="320.80,422.29 321.30,422.29 321.80,422.29 322.30,422.29 322.80,422.29 323.30,422.29 323.80,422.29 324.30,422.29 324.80,422.29 325.30,422.29 325.80,422.29 326.30,422.29 326.80,422.29 327.30,422.29 327.80,422.29 328.30,422.29 328.80,422.29 329.30,422.29 329.80,422.29 330.30,422.29 330.80,422.29 331.30,422.28 331.80,422.28 332.30,422.28 332.80,422.28 333.30,422.28 333.80,422.28 334.30,422.28 334.80,422.28 335.30,422.28 335.80,422.27 336.30,422.27 336.80,422.27 337.30,422.27 337.80,422.26 338.30,422.26 338.80,422.26 339.30,422.25 339.80,422.25 340.30,422.24 340.80,422.23 341.30,422.22 341.80,422.21 342.30,422.18 342.80,422.15 343.30,422.10 343.80,422.02 344.30,421.91 344.80,421.77 345.30,421.60 345.80,421.40 346.30,421.19 346.80,420.99 347.30,420.85 347.80,420.80 348.30,420.85 348.80,420.99 349.30,421.19 349.80,421.40 350.30,421.60 350.80,421.77 351.30,421.91 351.80,422.02 352.30,422.09 352.80,422.15 353.30,422.18 353.80,422.21 354.30,422.22 354.80,422.23 355.30,422.24 355.80,422.25 356.30,422.25 356.80,422.26 357.30,422.26 357.80,422.26 358.30,422.27 358.80,422.27 359.30,422.27 359.80,422.27 360.30,422.27 360.80,422.28 361.30,422.28 361.80,422.28 362.30,422.28 362.80,422.28 363.30,422.28 363.80,422.28 364.30,422.28 364.80,422.28 365.30,422.28 365.80,422.28 366.30,422.28 366.80,422.29 367.30,422.29 367.80,422.29 368.30,422.29 368.80,422.29 369.30,422.29 369.80,422.29 370.30,422.29 370.80,422.29 371.30,422.29 371.80,422.29 372.30,422.29 372.80,422.29 373.30,422.29 373.80,422.29 374.30,422.29 374.80,422.29 375.30,422.29 375.80,422.29 376.30,422.29 376.80,422.29 377.30,422.29 377.80,422.29 378.30,422.29 378.80,422.29 379.30,422.29 379.80,422.29 380.30,422.29 380.80,422.29 381.30,422.29 381.80,422.29 382.30,422.29 382.80,422.29 383.30,422.29 383.80,422.29 384.30,422.29 384.80,422.29 385.30,422.29 385.80,422.29 386.30,422.29 386.80,422.29 387.30,422.29 387.80,422.29 388.30,422.29 388.80,422.29 389.30,422.29 389.80,422.29 390.30,422.29 390.80,422.29 391.30,422.29 391.80,422.29 392.30,422.29 392.80,422.29 393.30,422.29 393.80,422.29 394.30,422.29 394.80,422.29 395.30,422.29 395.80,422.29 396.30,422.29 396.80,422.29 397.30,422.29 397.80,422.29 398.30,422.29 398.80,422.29 399.30,422.29 399.80,422.29 400.30,422.29 400.80,422.29 401.30,422.29 401.80,422.29 402.30,422.29 402.80,422.29 403.30,422.29 403.80,422.29 404.30,422.29 404.80,422.29 405.30,422.29 405.80,422.28 406.30,422.28 406.80,422.28 407.30,422.28 407.80,422.28 408.30,422.28 408.80,422.28 409.30,422.28 409.80,422.28 410.30,422.28 410.80,422.28 411.30,422.28 411.80,422.28 412.30,422.28 412.80,422.28 413.30,422.28 413.80,422.28 414.30,422.28 414.80,422.28 415.30,422.28 415.80,422.28 416.30,422.28 416.80,422.28 417.30,422.28 417.80,422.28 418.30,422.28 418.80,422.28 419.30,422.28 419.80,422.28 420.30,422.28 420.80,422.28 421.30,422.27 421.80,422.27 422.30,422.27 422.80,422.27 423.30,422.27 423.80,422.27 424.30,422.27 424.80,422.27 425.30,422.27 425.80,422.27 426.30,422.27 426.80,422.27 427.30,422.27 427.80,422.27 428.30,422.27 428.80,422.27 429.30,422.26 429.80,422.26 430.30,422.26 430.80,422.26 431.30,422.26 431.80,422.26 432.30,422.26 432.80,422.26 433.30,422.26 433.80,422.26 434.30,422.25 434.80,422.25 435.30,422.25 435.80,422.25 436.30,422.25 436.80,422.25 437.30,422.25 437.80,422.24 438.30,422.24 438.80,422.24 439.30,422.24 439.80,422.24 440.30,422.23 440.80,422.23 441.30,422.23 441.80,422.23 442.30,422.23 442.80,422.22 443.30,422.22 443.80,422.22 444.30,422.21 444.80,422.21 445.30,422.21 445.80,422.20 446.30,422.20 446.80,422.19 447.30,422.19 447.80,422.18 448.30,422.18 448.80,422.17 449.30,422.17 449.80,422.16 450.30,422.15 450.80,422.15 451.30,422.14 451.80,422.13 452.30,422.12 452.80,422.11 453.30,422.10 453.80,422.09 454.30,422.07 454.80,422.06 455.30,422.04 455.80,422.03 456.30,422.01 456.80,421.99 457.30,421.96 457.80,421.94 458.30,421.91 458.80,421.87 459.30,421.84 459.80,421.79 460.30,421.74 460.80,421.69 461.30,421.62 461.80,421.54 462.30,421.44 462.80,421.32 463.30,421.14 463.80,420.90 464.30,420.52 464.80,419.95 465.30,419.09 465.80,417.81 466.30,415.99 466.80,413.51 467.30,410.33 467.80,406.51 468.30,402.25 468.80,397.92 469.30,394.05 469.80,391.30 470.30,390.30 470.80,391.30 471.30,394.05 471.80,397.92 472.30,402.25 472.80,406.51 473.30,410.33 473.80,413.51 474.30,415.99 474.80,417.81 475.30,419.09 475.80,419.95 476.30,420.52 476.80,420.90 477.30,421.14 477.80,421.32 478.30,421.44 478.80,421.54 479.30,421.62 479.80,421.69 480.30,421.74 480.80,421.79 481.30,421.84 481.80,421.87 482.30,421.91 482.80,421.94 483.30,421.96 483.80,421.99 484.30,422.01 484.80,422.03 485.30,422.04 485.80,422.06 486.30,422.07 486.80,422.09 487.30,422.10 487.80,422.11 488.30,422.12 488.80,422.13 489.30,422.14 489.80,422.15 490.30,422.15 490.80,422.16 491.30,422.17 491.80,422.17 492.30,422.18 492.80,422.18 493.30,422.19 493.80,422.19 494.30,422.20 494.80,422.20 495.30,422.21 495.80,422.21 496.30,422.21 496.80,422.22 497.30,422.22 497.80,422.22 498.30,422.23 498.80,422.23 499.30,422.23 499.80,422.23 500.30,422.23 500.80,422.24 501.30,422.24 501.80,422.24 502.30,422.24 502.80,422.24 503.30,422.25 503.80,422.25 504.30,422.25 504.80,422.25 505.30,422.25 505.80,422.25 506.30,422.25 506.80,422.26 507.30,422.26 507.80,422.26 508.30,422.26 508.80,422.26 509.30,422.26 509.80,422.26 510.30,422.26 510.80,422.26 511.30,422.26 511.80,422.27 512.30,422.27 512.80,422.27 513.30,422.27 513.80,422.27 514.30,422.27 514.80,422.27 515.30,422.27 515.80,422.27 516.30,422.27 516.80,422.27 517.30,422.27 517.80,422.27 518.30,422.27 518.80,422.27 519.30,422.28 519.80,422.28 520.30,422.28 520.80,422.28 521.30,422.28 521.80,422.28 522.30,422.28 522.80,422.28 523.30,422.28 523.80,422.28 524.30,422.28 524.80,422.28" fill="none" stroke="#8e8e8e" stroke-width="1.3" stroke-linejoin="round"/>
<polyline points="320.80,438.90 321.30,438.90 321.80,438.89 322.30,438.89 322.80,438.89 323.30,438.89 323.80,438.89 324.30,438.89 324.80,438.89 325.30,438.89 325.80,438.89 326.30,438.88 326.80,438.88 327.30,438.88 327.80,438.88 328.30,438.88 328.80,438.88 329.30,438.87 329.80,438.87 330.30,438.87 330.80,438.87 331.30,438.86 331.80,438.86 332.30,438.86 332.80,438.85 333.30,438.85 333.80,438.85 334.30,438.84 334.80,438.84 335.30,438.83 335.80,438.82 336.30,438.82 336.80,438.81 337.30,438.80 337.80,438.79 338.30,438.78 338.80,438.77 339.30,438.75 339.80,438.74 340.30,438.72 340.80,438.70 341.30,438.67 341.80,438.64 342.30,438.61 342.80,438.56 343.30,438.50 343.80,438.41 344.30,438.27 344.80,438.07 345.30,437.78 345.80,437.35 346.30,436.75 346.80,435.96 347.30,434.98 347.80,433.85 348.30,432.65 348.80,431.53 349.30,430.72 349.80,430.42 350.30,430.72 350.80,431.53 351.30,432.65 351.80,433.85 352.30,434.98 352.80,435.96 353.30,436.75 353.80,437.35 354.30,437.78 354.80,438.07 355.30,438.27 355.80,438.41 356.30,438.50 356.80,438.56 357.30,438.61 357.80,438.64 358.30,438.67 358.80,438.70 359.30,438.72 359.80,438.74 360.30,438.75 360.80,438.77 361.30,438.78 361.80,438.79 362.30,438.80 362.80,438.81 363.30,438.82 363.80,438.82 364.30,438.83 364.80,438.83 365.30,438.84 365.80,438.84 366.30,438.85 366.80,438.85 367.30,438.86 367.80,438.86 368.30,438.86 368.80,438.86 369.30,438.87 369.80,438.87 370.30,438.87 370.80,438.87 371.30,438.88 371.80,438.88 372.30,438.88 372.80,438.88 373.30,438.88 373.80,438.88 374.30,438.88 374.80,438.89 375.30,438.89 375.80,438.89 376.30,438.89 376.80,438.89 377.30,438.89 377.80,438.89 378.30,438.89 378.80,438.89 379.30,438.89 379.80,438.89 380.30,438.89 380.80,438.90 381.30,438.90 381.80,438.90 382.30,438.90 382.80,438.90 383.30,438.90 383.80,438.90 384.30,438.90 384.80,438.90 385.30,438.90 385.80,438.90 386.30,438.90 386.80,438.90 387.30,438.90 387.80,438.90 388.30,438.90 388.80,438.90 389.30,438.90 389.80,438.90 390.30,438.90 390.80,438.90 391.30,438.90 391.80,438.90 392.30,438.90 392.80,438.90 393.30,438.90 393.80,438.90 394.30,438.90 394.80,438.90 395.30,438.90 395.80,438.90 396.30,438.90 396.80,438.90 397.30,438.90 397.80,438.90 398.30,438.90 398.80,438.90 399.30,438.90 399.80,438.90 400.30,438.90 400.80,438.90 401.30,438.90 401.80,438.90 402.30,438.90 402.80,438.90 403.30,438.90 403.80,438.90 404.30,438.90 404.80,438.90 405.30,438.90 405.80,438.90 406.30,438.90 406.80,438.90 407.30,438.90 407.80,438.90 408.30,438.90 408.80,438.90 409.30,438.90 409.80,438.90 410.30,438.90 410.80,438.90 411.30,438.90 411.80,438.90 412.30,438.90 412.80,438.90 413.30,438.90 413.80,438.90 414.30,438.90 414.80,438.90 415.30,438.90 415.80,438.90 416.30,438.90 416.80,438.90 417.30,438.90 417.80,438.90 418.30,438.90 418.80,438.90 419.30,438.90 419.80,438.90 420.30,438.90 420.80,438.90 421.30,438.90 421.80,438.90 422.30,438.90 422.80,438.90 423.30,438.90 423.80,438.90 424.30,438.90 424.80,438.90 425.30,438.90 425.80,438.90 426.30,438.89 426.80,438.89 427.30,438.89 427.80,438.89 428.30,438.89 428.80,438.89 429.30,438.89 429.80,438.89 430.30,438.89 430.80,438.89 431.30,438.89 431.80,438.89 432.30,438.89 432.80,438.89 433.30,438.89 433.80,438.89 434.30,438.89 434.80,438.88 435.30,438.88 435.80,438.88 436.30,438.88 436.80,438.88 437.30,438.88 437.80,438.88 438.30,438.88 438.80,438.88 439.30,438.87 439.80,438.87 440.30,438.87 440.80,438.87 441.30,438.87 441.80,438.87 442.30,438.87 442.80,438.86 443.30,438.86 443.80,438.86 444.30,438.86 444.80,438.86 445.30,438.85 445.80,438.85 446.30,438.85 446.80,438.85 447.30,438.84 447.80,438.84 448.30,438.84 448.80,438.83 449.30,438.83 449.80,438.83 450.30,438.82 450.80,438.82 451.30,438.81 451.80,438.81 452.30,438.80 452.80,438.80 453.30,438.79 453.80,438.79 454.30,438.78 454.80,438.77 455.30,438.76 455.80,438.76 456.30,438.75 456.80,438.73 457.30,438.72 457.80,438.71 458.30,438.70 458.80,438.68 459.30,438.66 459.80,438.65 460.30,438.62 460.80,438.60 461.30,438.57 461.80,438.55 462.30,438.51 462.80,438.47 463.30,438.43 463.80,438.38 464.30,438.32 464.80,438.25 465.30,438.17 465.80,438.06 466.30,437.93 466.80,437.74 467.30,437.46 467.80,437.03 468.30,436.34 468.80,435.24 469.30,433.57 469.80,431.14 470.30,427.84 470.80,423.68 471.30,418.85 471.80,413.81 472.30,409.30 472.80,406.24 473.30,405.47 473.80,407.23 474.30,410.99 474.80,415.81 475.30,420.84 475.80,425.44 476.30,429.27 476.80,432.22 477.30,434.32 477.80,435.74 478.30,436.65 478.80,437.23 479.30,437.59 479.80,437.82 480.30,437.99 480.80,438.11 481.30,438.20 481.80,438.28 482.30,438.34 482.80,438.40 483.30,438.45 483.80,438.49 484.30,438.53 484.80,438.56 485.30,438.59 485.80,438.61 486.30,438.63 486.80,438.65 487.30,438.67 487.80,438.69 488.30,438.70 488.80,438.72 489.30,438.73 489.80,438.74 490.30,438.75 490.80,438.76 491.30,438.77 491.80,438.78 492.30,438.78 492.80,438.79 493.30,438.80 493.80,438.80 494.30,438.81 494.80,438.81 495.30,438.82 495.80,438.82 496.30,438.83 496.80,438.83 497.30,438.83 497.80,438.84 498.30,438.84 498.80,438.84 499.30,438.85 499.80,438.85 500.30,438.85 500.80,438.85 501.30,438.86 501.80,438.86 502.30,438.86 502.80,438.86 503.30,438.86 503.80,438.87 504.30,438.87 504.80,438.87 505.30,438.87 505.80,438.87 506.30,438.87 506.80,438.88 507.30,438.88 507.80,438.88 508.30,438.88 508.80,438.88 509.30,438.88 509.80,438.88 510.30,438.88 510.80,438.88 511.30,438.89 511.80,438.89 512.30,438.89 512.80,438.89 513.30,438.89 513.80,438.89 514.30,438.89 514.80,438.89 515.30,438.89 515.80,438.89 516.30,438.89 516.80,438.89 517.30,438.89 517.80,438.89 518.30,438.90 518.80,438.90 519.30,438.90 519.80,438.90 520.30,438.90 520.80,438.90 521.30,438.90 521.80,438.90 522.30,438.90 522.80,438.90 523.30,438.90 523.80,438.90 524.30,438.90 524.80,438.90" fill="none" stroke="#1c1c1c" stroke-width="1.5" stroke-linejoin="round"/>
<polyline points="320.80,455.52 321.30,455.52 321.80,455.52 322.30,455.52 322.80,455.52 323.30,455.52 323.80,455.52 324.30,455.52 324.80,455.52 325.30,455.52 325.80,455.52 326.30,455.52 326.80,455.51 327.30,455.51 327.80,455.51 328.30,455.51 328.80,455.51 329.30,455.51 329.80,455.51 330.30,455.51 330.80,455.51 331.30,455.50 331.80,455.50 332.30,455.50 332.80,455.50 333.30,455.50 333.80,455.49 334.30,455.49 334.80,455.49 335.30,455.49 335.80,455.48 336.30,455.48 336.80,455.48 337.30,455.47 337.80,455.47 338.30,455.46 338.80,455.46 339.30,455.45 339.80,455.45 340.30,455.44 340.80,455.43 341.30,455.42 341.80,455.41 342.30,455.40 342.80,455.39 343.30,455.38 343.80,455.36 344.30,455.34 344.80,455.32 345.30,455.29 345.80,455.26 346.30,455.22 346.80,455.17 347.30,455.11 347.80,455.03 348.30,454.90 348.80,454.68 349.30,454.25 349.80,453.43 350.30,451.93 350.80,449.42 351.30,445.70 351.80,440.84 352.30,435.44 352.80,430.61 353.30,427.81 353.80,428.14 354.30,431.46 354.80,436.51 355.30,441.88 355.80,446.54 356.30,450.02 356.80,452.30 357.30,453.63 357.80,454.36 358.30,454.73 358.80,454.93 359.30,455.05 359.80,455.12 360.30,455.18 360.80,455.23 361.30,455.26 361.80,455.29 362.30,455.32 362.80,455.34 363.30,455.36 363.80,455.38 364.30,455.39 364.80,455.40 365.30,455.41 365.80,455.42 366.30,455.43 366.80,455.44 367.30,455.45 367.80,455.45 368.30,455.46 368.80,455.46 369.30,455.47 369.80,455.47 370.30,455.48 370.80,455.48 371.30,455.48 371.80,455.48 372.30,455.49 372.80,455.49 373.30,455.49 373.80,455.49 374.30,455.50 374.80,455.50 375.30,455.50 375.80,455.50 376.30,455.50 376.80,455.50 377.30,455.51 377.80,455.51 378.30,455.51 378.80,455.51 379.30,455.51 379.80,455.51 380.30,455.51 380.80,455.51 381.30,455.51 381.80,455.51 382.30,455.51 382.80,455.52 383.30,455.52 383.80,455.52 384.30,455.52 384.80,455.52 385.30,455.52 385.80,455.52 386.30,455.52 386.80,455.52 387.30,455.52 387.80,455.52 388.30,455.52 388.80,455.52 389.30,455.52 389.80,455.52 390.30,455.52 390.80,455.52 391.30,455.52 391.80,455.52 392.30,455.52 392.80,455.52 393.30,455.52 393.80,455.52 394.30,455.52 394.80,455.52 395.30,455.52 395.80,455.52 396.30,455.52 396.80,455.52 397.30,455.52 397.80,455.52 398.30,455.52 398.80,455.52 399.30,455.52 399.80,455.52 400.30,455.52 400.80,455.52 401.30,455.52 401.80,455.52 402.30,455.52 402.80,455.52 403.30,455.52 403.80,455.52 404.30,455.52 404.80,455.52 405.30,455.52 405.80,455.52 406.30,455.52 406.80,455.52 407.30,455.52 407.80,455.52 408.30,455.52 408.80,455.52 409.30,455.52 409.80,455.52 410.30,455.52 410.80,455.52 411.30,455.52 411.80,455.52 412.30,455.52 412.80,455.52 413.30,455.52 413.80,455.52 414.30,455.52 414.80,455.52 415.30,455.52 415.80,455.52 416.30,455.52 416.80,455.52 417.30,455.52 417.80,455.52 418.30,455.52 418.80,455.52 419.30,455.52 419.80,455.52 420.30,455.52 420.80,455.52 421.30,455.52 421.80,455.52 422.30,455.52 422.80,455.52 423.30,455.52 423.80,455.52 424.30,455.52 424.80,455.52 425.30,455.52 425.80,455.52 426.30,455.52 426.80,455.52 427.30,455.51 427.80,455.51 428.30,455.51 428.80,455.51 429.30,455.51 429.80,455.51 430.30,455.51 430.80,455.51 431.30,455.51 431.80,455.51 432.30,455.51 432.80,455.51 433.30,455.51 433.80,455.51 434.30,455.51 434.80,455.51 435.30,455.50 435.80,455.50 436.30,455.50 436.80,455.50 437.30,455.50 437.80,455.50 438.30,455.50 438.80,455.50 439.30,455.50 439.80,455.50 440.30,455.49 440.80,455.49 441.30,455.49 441.80,455.49 442.30,455.49 442.80,455.49 443.30,455.49 443.80,455.48 444.30,455.48 444.80,455.48 445.30,455.48 445.80,455.48 446.30,455.47 446.80,455.47 447.30,455.47 447.80,455.47 448.30,455.46 448.80,455.46 449.30,455.46 449.80,455.45 450.30,455.45 450.80,455.45 451.30,455.44 451.80,455.44 452.30,455.43 452.80,455.43 453.30,455.42 453.80,455.42 454.30,455.41 454.80,455.41 455.30,455.40 455.80,455.39 456.30,455.39 456.80,455.38 457.30,455.37 457.80,455.36 458.30,455.35 458.80,455.33 459.30,455.32 459.80,455.31 460.30,455.29 460.80,455.27 461.30,455.26 461.80,455.23 462.30,455.21 462.80,455.18 463.30,455.15 463.80,455.12 464.30,455.08 464.80,455.04 465.30,454.99 465.80,454.93 466.30,454.86 466.80,454.78 467.30,454.68 467.80,454.54 468.30,454.36 468.80,454.10 469.30,453.69 469.80,453.06 470.30,452.09 470.80,450.62 471.30,448.51 471.80,445.63 472.30,441.97 472.80,437.63 473.30,432.93 473.80,428.38 474.30,424.71 474.80,422.73 475.30,422.96 475.80,425.34 476.30,429.24 476.80,433.87 477.30,438.54 477.80,442.76 478.30,446.27 478.80,448.99 479.30,450.96 479.80,452.32 480.30,453.21 480.80,453.79 481.30,454.16 481.80,454.41 482.30,454.57 482.80,454.70 483.30,454.80 483.80,454.88 484.30,454.94 484.80,455.00 485.30,455.05 485.80,455.09 486.30,455.13 486.80,455.16 487.30,455.19 487.80,455.22 488.30,455.24 488.80,455.26 489.30,455.28 489.80,455.30 490.30,455.31 490.80,455.33 491.30,455.34 491.80,455.35 492.30,455.36 492.80,455.37 493.30,455.38 493.80,455.39 494.30,455.40 494.80,455.40 495.30,455.41 495.80,455.42 496.30,455.42 496.80,455.43 497.30,455.43 497.80,455.44 498.30,455.44 498.80,455.44 499.30,455.45 499.80,455.45 500.30,455.46 500.80,455.46 501.30,455.46 501.80,455.47 502.30,455.47 502.80,455.47 503.30,455.47 503.80,455.48 504.30,455.48 504.80,455.48 505.30,455.48 505.80,455.48 506.30,455.49 506.80,455.49 507.30,455.49 507.80,455.49 508.30,455.49 508.80,455.49 509.30,455.49 509.80,455.50 510.30,455.50 510.80,455.50 511.30,455.50 511.80,455.50 512.30,455.50 512.80,455.50 513.30,455.50 513.80,455.50 514.30,455.51 514.80,455.51 515.30,455.51 515.80,455.51 516.30,455.51 516.80,455.51 517.30,455.51 517.80,455.51 518.30,455.51 518.80,455.51 519.30,455.51 519.80,455.51 520.30,455.51 520.80,455.52 521.30,455.52 521.80,455.52 522.30,455.52 522.80,455.52 523.30,455.52 523.80,455.52 524.30,455.52 524.80,455.52" fill="none" stroke="#8e8e8e" stroke-width="1.3" stroke-linejoin="round"/>
<polyline points="320.80,472.14 321.30,472.14 321.80,472.14 322.30,472.14 322.80,472.14 323.30,472.14 323.80,472.14 324.30,472.14 324.80,472.14 325.30,472.14 325.80,472.14 326.30,472.13 326.80,472.13 327.30,472.13 327.80,472.13 328.30,472.13 328.80,472.13 329.30,472.13 329.80,472.13 330.30,472.13 330.80,472.12 331.30,472.12 331.80,472.12 332.30,472.12 332.80,472.12 333.30,472.11 333.80,472.11 334.30,472.11 334.80,472.11 335.30,472.11 335.80,472.10 336.30,472.10 336.80,472.10 337.30,472.09 337.80,472.09 338.30,472.08 338.80,472.08 339.30,472.07 339.80,472.07 340.30,472.06 340.80,472.05 341.30,472.05 341.80,472.04 342.30,472.03 342.80,472.01 343.30,472.00 343.80,471.99 344.30,471.97 344.80,471.95 345.30,471.93 345.80,471.90 346.30,471.87 346.80,471.83 347.30,471.78 347.80,471.71 348.30,471.61 348.80,471.43 349.30,471.13 349.80,470.63 350.30,469.83 350.80,468.60 351.30,466.84 351.80,464.51 352.30,461.68 352.80,458.57 353.30,455.54 353.80,453.10 354.30,451.78 354.80,451.93 355.30,453.51 355.80,456.11 356.30,459.20 356.80,462.28 357.30,465.02 357.80,467.24 358.30,468.88 358.80,470.02 359.30,470.75 359.80,471.20 360.30,471.47 360.80,471.63 361.30,471.73 361.80,471.80 362.30,471.84 362.80,471.88 363.30,471.91 363.80,471.93 364.30,471.95 364.80,471.97 365.30,471.99 365.80,472.00 366.30,472.02 366.80,472.03 367.30,472.04 367.80,472.05 368.30,472.05 368.80,472.06 369.30,472.07 369.80,472.07 370.30,472.08 370.80,472.08 371.30,472.09 371.80,472.09 372.30,472.09 372.80,472.10 373.30,472.10 373.80,472.10 374.30,472.11 374.80,472.11 375.30,472.11 375.80,472.11 376.30,472.11 376.80,472.12 377.30,472.12 377.80,472.12 378.30,472.12 378.80,472.12 379.30,472.12 379.80,472.13 380.30,472.13 380.80,472.13 381.30,472.13 381.80,472.13 382.30,472.13 382.80,472.13 383.30,472.13 383.80,472.13 384.30,472.13 384.80,472.13 385.30,472.13 385.80,472.14 386.30,472.14 386.80,472.14 387.30,472.14 387.80,472.14 388.30,472.14 388.80,472.14 389.30,472.14 389.80,472.14 390.30,472.14 390.80,472.14 391.30,472.14 391.80,472.14 392.30,472.14 392.80,472.14 393.30,472.14 393.80,472.14 394.30,472.14 394.80,472.14 395.30,472.14 395.80,472.14 396.30,472.14 396.80,472.14 397.30,472.14 397.80,472.14 398.30,472.14 398.80,472.14 399.30,472.14 399.80,472.14 400.30,472.14 400.80,472.14 401.30,472.14 401.80,472.14 402.30,472.14 402.80,472.14 403.30,472.14 403.80,472.14 404.30,472.14 404.80,472.14 405.30,472.14 405.80,472.14 406.30,472.14 406.80,472.14 407.30,472.14 407.80,472.14 408.30,472.14 408.80,472.14 409.30,472.14 409.80,472.14 410.30,472.14 410.80,472.14 411.30,472.14 411.80,472.14 412.30,472.14 412.80,472.14 413.30,472.14 413.80,472.14 414.30,472.14 414.80,472.14 415.30,472.14 415.80,472.14 416.30,472.14 416.80,472.14 417.30,472.14 417.80,472.14 418.30,472.14 418.80,472.14 419.30,472.14 419.80,472.14 420.30,472.14 420.80,472.14 421.30,472.14 421.80,472.14 422.30,472.14 422.80,472.14 423.30,472.14 423.80,472.14 424.30,472.14 424.80,472.14 425.30,472.14 425.80,472.14 426.30,472.14 426.80,472.14 427.30,472.14 427.80,472.14 428.30,472.14 428.80,472.14 429.30,472.14 429.80,472.14 430.30,472.13 430.80,472.13 431.30,472.13 431.80,472.13 432.30,472.13 432.80,472.13 433.30,472.13 433.80,472.13 434.30,472.13 434.80,472.13 435.30,472.13 435.80,472.13 436.30,472.13 436.80,472.13 437.30,472.13 437.80,472.12 438.30,472.12 438.80,472.12 439.30,472.12 439.80,472.12 440.30,472.12 440.80,472.12 441.30,472.12 441.80,472.12 442.30,472.12 442.80,472.11 443.30,472.11 443.80,472.11 444.30,472.11 444.80,472.11 445.30,472.11 445.80,472.11 446.30,472.10 446.80,472.10 447.30,472.10 447.80,472.10 448.30,472.10 448.80,472.09 449.30,472.09 449.80,472.09 450.30,472.09 450.80,472.08 451.30,472.08 451.80,472.08 452.30,472.07 452.80,472.07 453.30,472.07 453.80,472.06 454.30,472.06 454.80,472.05 455.30,472.05 455.80,472.04 456.30,472.04 456.80,472.03 457.30,472.03 457.80,472.02 458.30,472.01 458.80,472.00 459.30,472.00 459.80,471.99 460.30,471.98 460.80,471.97 461.30,471.95 461.80,471.94 462.30,471.93 462.80,471.91 463.30,471.89 463.80,471.87 464.30,471.85 464.80,471.83 465.30,471.80 465.80,471.77 466.30,471.73 466.80,471.69 467.30,471.65 467.80,471.60 468.30,471.54 468.80,471.47 469.30,471.38 469.80,471.27 470.30,471.13 470.80,470.94 471.30,470.65 471.80,470.21 472.30,469.52 472.80,468.46 473.30,466.87 473.80,464.61 474.30,461.58 474.80,457.77 475.30,453.33 475.80,448.61 476.30,444.17 476.80,440.78 477.30,439.21 477.80,439.90 478.30,442.64 478.80,446.76 479.30,451.44 479.80,456.05 480.30,460.14 480.80,463.50 481.30,466.06 481.80,467.90 482.30,469.15 482.80,469.97 483.30,470.50 483.80,470.84 484.30,471.06 484.80,471.22 485.30,471.34 485.80,471.43 486.30,471.51 486.80,471.57 487.30,471.63 487.80,471.68 488.30,471.72 488.80,471.76 489.30,471.79 489.80,471.82 490.30,471.84 490.80,471.86 491.30,471.88 491.80,471.90 492.30,471.92 492.80,471.93 493.30,471.95 493.80,471.96 494.30,471.97 494.80,471.98 495.30,471.99 495.80,472.00 496.30,472.01 496.80,472.02 497.30,472.02 497.80,472.03 498.30,472.04 498.80,472.04 499.30,472.05 499.80,472.05 500.30,472.06 500.80,472.06 501.30,472.07 501.80,472.07 502.30,472.07 502.80,472.08 503.30,472.08 503.80,472.08 504.30,472.09 504.80,472.09 505.30,472.09 505.80,472.09 506.30,472.10 506.80,472.10 507.30,472.10 507.80,472.10 508.30,472.10 508.80,472.11 509.30,472.11 509.80,472.11 510.30,472.11 510.80,472.11 511.30,472.11 511.80,472.12 512.30,472.12 512.80,472.12 513.30,472.12 513.80,472.12 514.30,472.12 514.80,472.12 515.30,472.12 515.80,472.12 516.30,472.13 516.80,472.13 517.30,472.13 517.80,472.13 518.30,472.13 518.80,472.13 519.30,472.13 519.80,472.13 520.30,472.13 520.80,472.13 521.30,472.13 521.80,472.13 522.30,472.13 522.80,472.14 523.30,472.14 523.80,472.14 524.30,472.14 524.80,472.14" fill="none" stroke="#1c1c1c" stroke-width="1.5" stroke-linejoin="round"/>
<polyline points="320.80,488.76 321.30,488.76 321.80,488.76 322.30,488.76 322.80,488.76 323.30,488.76 323.80,488.76 324.30,488.76 324.80,488.76 325.30,488.76 325.80,488.75 326.30,488.75 326.80,488.75 327.30,488.75 327.80,488.75 328.30,488.75 328.80,488.75 329.30,488.75 329.80,488.75 330.30,488.74 330.80,488.74 331.30,488.74 331.80,488.74 332.30,488.74 332.80,488.73 333.30,488.73 333.80,488.73 334.30,488.73 334.80,488.73 335.30,488.72 335.80,488.72 336.30,488.72 336.80,488.71 337.30,488.71 337.80,488.70 338.30,488.70 338.80,488.70 339.30,488.69 339.80,488.68 340.30,488.68 340.80,488.67 341.30,488.66 341.80,488.65 342.30,488.64 342.80,488.63 343.30,488.62 343.80,488.61 344.30,488.59 344.80,488.58 345.30,488.56 345.80,488.53 346.30,488.51 346.80,488.48 347.30,488.44 347.80,488.39 348.30,488.34 348.80,488.28 349.30,488.19 349.80,488.06 350.30,487.85 350.80,487.47 351.30,486.77 351.80,485.50 352.30,483.34 352.80,480.00 353.30,475.33 353.80,469.56 354.30,463.41 354.80,458.08 355.30,455.07 355.80,455.42 356.30,459.01 356.80,464.61 357.30,470.77 357.80,476.36 358.30,480.77 358.80,483.86 359.30,485.81 359.80,486.95 360.30,487.57 360.80,487.90 361.30,488.09 361.80,488.21 362.30,488.29 362.80,488.35 363.30,488.40 363.80,488.45 364.30,488.48 364.80,488.51 365.30,488.54 365.80,488.56 366.30,488.58 366.80,488.60 367.30,488.61 367.80,488.62 368.30,488.63 368.80,488.65 369.30,488.65 369.80,488.66 370.30,488.67 370.80,488.68 371.30,488.68 371.80,488.69 372.30,488.69 372.80,488.70 373.30,488.70 373.80,488.71 374.30,488.71 374.80,488.71 375.30,488.72 375.80,488.72 376.30,488.72 376.80,488.73 377.30,488.73 377.80,488.73 378.30,488.73 378.80,488.73 379.30,488.74 379.80,488.74 380.30,488.74 380.80,488.74 381.30,488.74 381.80,488.74 382.30,488.74 382.80,488.75 383.30,488.75 383.80,488.75 384.30,488.75 384.80,488.75 385.30,488.75 385.80,488.75 386.30,488.75 386.80,488.75 387.30,488.75 387.80,488.75 388.30,488.76 388.80,488.76 389.30,488.76 389.80,488.76 390.30,488.76 390.80,488.76 391.30,488.76 391.80,488.76 392.30,488.76 392.80,488.76 393.30,488.76 393.80,488.76 394.30,488.76 394.80,488.76 395.30,488.76 395.80,488.76 396.30,488.76 396.80,488.76 397.30,488.76 397.80,488.76 398.30,488.76 398.80,488.76 399.30,488.76 399.80,488.76 400.30,488.76 400.80,488.76 401.30,488.76 401.80,488.76 402.30,488.76 402.80,488.76 403.30,488.76 403.80,488.76 404.30,488.76 404.80,488.76 405.30,488.76 405.80,488.76 406.30,488.76 406.80,488.76 407.30,488.76 407.80,488.76 408.30,488.76 408.80,488.76 409.30,488.76 409.80,488.76 410.30,488.76 410.80,488.76 411.30,488.76 411.80,488.76 412.30,488.76 412.80,488.76 413.30,488.76 413.80,488.76 414.30,488.76 414.80,488.76 415.30,488.76 415.80,488.76 416.30,488.76 416.80,488.76 417.30,488.76 417.80,488.76 418.30,488.76 418.80,488.76 419.30,488.76 419.80,488.76 420.30,488.76 420.80,488.76 421.30,488.76 421.80,488.76 422.30,488.76 422.80,488.76 423.30,488.76 423.80,488.76 424.30,488.76 424.80,488.76 425.30,488.76 425.80,488.76 426.30,488.76 426.80,488.76 427.30,488.76 427.80,488.76 428.30,488.76 428.80,488.76 429.30,488.76 429.80,488.76 430.30,488.76 430.80,488.76 431.30,488.76 431.80,488.76 432.30,488.76 432.80,488.76 433.30,488.76 433.80,488.75 434.30,488.75 434.80,488.75 435.30,488.75 435.80,488.75 436.30,488.75 436.80,488.75 437.30,488.75 437.80,488.75 438.30,488.75 438.80,488.75 439.30,488.75 439.80,488.75 440.30,488.75 440.80,488.75 441.30,488.74 441.80,488.74 442.30,488.74 442.80,488.74 443.30,488.74 443.80,488.74 444.30,488.74 444.80,488.74 445.30,488.74 445.80,488.74 446.30,488.73 446.80,488.73 447.30,488.73 447.80,488.73 448.30,488.73 448.80,488.73 449.30,488.72 449.80,488.72 450.30,488.72 450.80,488.72 451.30,488.72 451.80,488.71 452.30,488.71 452.80,488.71 453.30,488.71 453.80,488.70 454.30,488.70 454.80,488.70 455.30,488.70 455.80,488.69 456.30,488.69 456.80,488.68 457.30,488.68 457.80,488.68 458.30,488.67 458.80,488.67 459.30,488.66 459.80,488.65 460.30,488.65 460.80,488.64 461.30,488.63 461.80,488.63 462.30,488.62 462.80,488.61 463.30,488.60 463.80,488.59 464.30,488.58 464.80,488.56 465.30,488.55 465.80,488.53 466.30,488.52 466.80,488.50 467.30,488.48 467.80,488.45 468.30,488.42 468.80,488.40 469.30,488.36 469.80,488.32 470.30,488.28 470.80,488.23 471.30,488.17 471.80,488.10 472.30,488.02 472.80,487.92 473.30,487.79 473.80,487.61 474.30,487.34 474.80,486.94 475.30,486.30 475.80,485.33 476.30,483.86 476.80,481.75 477.30,478.87 477.80,475.21 478.30,470.87 478.80,466.17 479.30,461.62 479.80,457.96 480.30,455.97 480.80,456.20 481.30,458.58 481.80,462.49 482.30,467.12 482.80,471.78 483.30,476.00 483.80,479.51 484.30,482.23 484.80,484.20 485.30,485.56 485.80,486.45 486.30,487.03 486.80,487.40 487.30,487.65 487.80,487.82 488.30,487.94 488.80,488.04 489.30,488.12 489.80,488.18 490.30,488.24 490.80,488.29 491.30,488.33 491.80,488.37 492.30,488.40 492.80,488.43 493.30,488.46 493.80,488.48 494.30,488.50 494.80,488.52 495.30,488.54 495.80,488.55 496.30,488.57 496.80,488.58 497.30,488.59 497.80,488.60 498.30,488.61 498.80,488.62 499.30,488.63 499.80,488.64 500.30,488.64 500.80,488.65 501.30,488.66 501.80,488.66 502.30,488.67 502.80,488.67 503.30,488.68 503.80,488.68 504.30,488.69 504.80,488.69 505.30,488.69 505.80,488.70 506.30,488.70 506.80,488.70 507.30,488.71 507.80,488.71 508.30,488.71 508.80,488.71 509.30,488.72 509.80,488.72 510.30,488.72 510.80,488.72 511.30,488.73 511.80,488.73 512.30,488.73 512.80,488.73 513.30,488.73 513.80,488.73 514.30,488.74 514.80,488.74 515.30,488.74 515.80,488.74 516.30,488.74 516.80,488.74 517.30,488.74 517.80,488.74 518.30,488.74 518.80,488.75 519.30,488.75 519.80,488.75 520.30,488.75 520.80,488.75 521.30,488.75 521.80,488.75 522.30,488.75 522.80,488.75 523.30,488.75 523.80,488.75 524.30,488.75 524.80,488.76" fill="none" stroke="#8e8e8e" stroke-width="1.3" stroke-linejoin="round"/>
<polyline points="320.80,506.91 321.30,506.91 321.80,506.91 322.30,506.91 322.80,506.91 323.30,506.91 323.80,506.91 324.30,506.91 324.80,506.91 325.30,506.91 325.80,506.91 326.30,506.91 326.80,506.91 327.30,506.91 327.80,506.91 328.30,506.91 328.80,506.91 329.30,506.91 329.80,506.91 330.30,506.91 330.80,506.91 331.30,506.91 331.80,506.91 332.30,506.91 332.80,506.91 333.30,506.91 333.80,506.91 334.30,506.91 334.80,506.90 335.30,506.90 335.80,506.90 336.30,506.90 336.80,506.90 337.30,506.90 337.80,506.90 338.30,506.90 338.80,506.90 339.30,506.90 339.80,506.90 340.30,506.90 340.80,506.90 341.30,506.90 341.80,506.90 342.30,506.90 342.80,506.89 343.30,506.89 343.80,506.89 344.30,506.89 344.80,506.89 345.30,506.89 345.80,506.89 346.30,506.88 346.80,506.88 347.30,506.88 347.80,506.88 348.30,506.87 348.80,506.87 349.30,506.86 349.80,506.86 350.30,506.85 350.80,506.85 351.30,506.84 351.80,506.83 352.30,506.82 352.80,506.80 353.30,506.78 353.80,506.75 354.30,506.71 354.80,506.65 355.30,506.55 355.80,506.40 356.30,506.18 356.80,505.87 357.30,505.48 357.80,505.03 358.30,504.56 358.80,504.16 359.30,503.93 359.80,503.96 360.30,504.23 360.80,504.65 361.30,505.12 361.80,505.56 362.30,505.94 362.80,506.23 363.30,506.43 363.80,506.57 364.30,506.66 364.80,506.72 365.30,506.76 365.80,506.79 366.30,506.80 366.80,506.82 367.30,506.83 367.80,506.84 368.30,506.85 368.80,506.85 369.30,506.86 369.80,506.86 370.30,506.87 370.80,506.87 371.30,506.87 371.80,506.88 372.30,506.88 372.80,506.88 373.30,506.88 373.80,506.89 374.30,506.89 374.80,506.89 375.30,506.89 375.80,506.89 376.30,506.89 376.80,506.89 377.30,506.89 377.80,506.90 378.30,506.90 378.80,506.90 379.30,506.90 379.80,506.90 380.30,506.90 380.80,506.90 381.30,506.90 381.80,506.90 382.30,506.90 382.80,506.90 383.30,506.90 383.80,506.90 384.30,506.90 384.80,506.90 385.30,506.90 385.80,506.90 386.30,506.90 386.80,506.90 387.30,506.90 387.80,506.90 388.30,506.90 388.80,506.90 389.30,506.90 389.80,506.90 390.30,506.90 390.80,506.90 391.30,506.90 391.80,506.90 392.30,506.90 392.80,506.91 393.30,506.91 393.80,506.91 394.30,506.91 394.80,506.91 395.30,506.91 395.80,506.91 396.30,506.91 396.80,506.91 397.30,506.91 397.80,506.91 398.30,506.91 398.80,506.91 399.30,506.91 399.80,506.91 400.30,506.91 400.80,506.91 401.30,506.91 401.80,506.91 402.30,506.91 402.80,506.91 403.30,506.91 403.80,506.91 404.30,506.91 404.80,506.91 405.30,506.91 405.80,506.91 406.30,506.91 406.80,506.91 407.30,506.91 407.80,506.90 408.30,506.90 408.80,506.90 409.30,506.90 409.80,506.90 410.30,506.90 410.80,506.90 411.30,506.90 411.80,506.90 412.30,506.90 412.80,506.90 413.30,506.90 413.80,506.90 414.30,506.90 414.80,506.90 415.30,506.90 415.80,506.90 416.30,506.90 416.80,506.90 417.30,506.90 417.80,506.90 418.30,506.90 418.80,506.90 419.30,506.90 419.80,506.90 420.30,506.90 420.80,506.90 421.30,506.90 421.80,506.90 422.30,506.90 422.80,506.90 423.30,506.90 423.80,506.90 424.30,506.90 424.80,506.90 425.30,506.90 425.80,506.90 426.30,506.90 426.80,506.90 427.30,506.90 427.80,506.90 428.30,506.90 428.80,506.90 429.30,506.90 429.80,506.90 430.30,506.90 430.80,506.90 431.30,506.90 431.80,506.90 432.30,506.90 432.80,506.90 433.30,506.90 433.80,506.89 434.30,506.89 434.80,506.89 435.30,506.89 435.80,506.89 436.30,506.89 436.80,506.89 437.30,506.89 437.80,506.89 438.30,506.89 438.80,506.89 439.30,506.89 439.80,506.89 440.30,506.89 440.80,506.89 441.30,506.89 441.80,506.89 442.30,506.89 442.80,506.88 443.30,506.88 443.80,506.88 444.30,506.88 444.80,506.88 445.30,506.88 445.80,506.88 446.30,506.88 446.80,506.88 447.30,506.88 447.80,506.88 448.30,506.87 448.80,506.87 449.30,506.87 449.80,506.87 450.30,506.87 450.80,506.87 451.30,506.87 451.80,506.87 452.30,506.86 452.80,506.86 453.30,506.86 453.80,506.86 454.30,506.86 454.80,506.85 455.30,506.85 455.80,506.85 456.30,506.85 456.80,506.85 457.30,506.84 457.80,506.84 458.30,506.84 458.80,506.83 459.30,506.83 459.80,506.83 460.30,506.82 460.80,506.82 461.30,506.81 461.80,506.81 462.30,506.80 462.80,506.80 463.30,506.79 463.80,506.79 464.30,506.78 464.80,506.77 465.30,506.76 465.80,506.76 466.30,506.75 466.80,506.74 467.30,506.72 467.80,506.71 468.30,506.70 468.80,506.68 469.30,506.67 469.80,506.65 470.30,506.63 470.80,506.61 471.30,506.58 471.80,506.55 472.30,506.52 472.80,506.48 473.30,506.44 473.80,506.39 474.30,506.34 474.80,506.27 475.30,506.19 475.80,506.09 476.30,505.97 476.80,505.80 477.30,505.54 477.80,505.15 478.30,504.53 478.80,503.55 479.30,502.03 479.80,499.80 480.30,496.73 480.80,492.78 481.30,488.13 481.80,483.16 482.30,478.55 482.80,475.17 483.30,473.92 483.80,475.17 484.30,478.55 484.80,483.16 485.30,488.13 485.80,492.78 486.30,496.73 486.80,499.80 487.30,502.03 487.80,503.55 488.30,504.53 488.80,505.16 489.30,505.54 489.80,505.80 490.30,505.97 490.80,506.09 491.30,506.19 491.80,506.27 492.30,506.34 492.80,506.39 493.30,506.44 493.80,506.48 494.30,506.52 494.80,506.55 495.30,506.58 495.80,506.61 496.30,506.63 496.80,506.65 497.30,506.67 497.80,506.68 498.30,506.70 498.80,506.71 499.30,506.73 499.80,506.74 500.30,506.75 500.80,506.76 501.30,506.76 501.80,506.77 502.30,506.78 502.80,506.79 503.30,506.79 503.80,506.80 504.30,506.80 504.80,506.81 505.30,506.81 505.80,506.82 506.30,506.82 506.80,506.83 507.30,506.83 507.80,506.83 508.30,506.84 508.80,506.84 509.30,506.84 509.80,506.85 510.30,506.85 510.80,506.85 511.30,506.85 511.80,506.85 512.30,506.86 512.80,506.86 513.30,506.86 513.80,506.86 514.30,506.86 514.80,506.87 515.30,506.87 515.80,506.87 516.30,506.87 516.80,506.87 517.30,506.87 517.80,506.87 518.30,506.88 518.80,506.88 519.30,506.88 519.80,506.88 520.30,506.88 520.80,506.88 521.30,506.88 521.80,506.88 522.30,506.88 522.80,506.88 523.30,506.88 523.80,506.89 524.30,506.89 524.80,506.89" fill="none" stroke="#1c1c1c" stroke-width="1.5" stroke-linejoin="round"/>
<polyline points="320.80,523.53 321.30,523.53 321.80,523.53 322.30,523.53 322.80,523.53 323.30,523.53 323.80,523.53 324.30,523.53 324.80,523.53 325.30,523.53 325.80,523.53 326.30,523.53 326.80,523.53 327.30,523.53 327.80,523.53 328.30,523.53 328.80,523.53 329.30,523.53 329.80,523.53 330.30,523.53 330.80,523.53 331.30,523.53 331.80,523.53 332.30,523.53 332.80,523.53 333.30,523.53 333.80,523.53 334.30,523.53 334.80,523.53 335.30,523.53 335.80,523.53 336.30,523.53 336.80,523.53 337.30,523.53 337.80,523.53 338.30,523.53 338.80,523.53 339.30,523.53 339.80,523.53 340.30,523.53 340.80,523.53 341.30,523.53 341.80,523.53 342.30,523.53 342.80,523.53 343.30,523.53 343.80,523.53 344.30,523.53 344.80,523.53 345.30,523.53 345.80,523.53 346.30,523.52 346.80,523.52 347.30,523.52 347.80,523.52 348.30,523.52 348.80,523.52 349.30,523.52 349.80,523.52 350.30,523.52 350.80,523.51 351.30,523.51 351.80,523.51 352.30,523.51 352.80,523.50 353.30,523.50 353.80,523.49 354.30,523.49 354.80,523.48 355.30,523.47 355.80,523.45 356.30,523.42 356.80,523.37 357.30,523.31 357.80,523.23 358.30,523.12 358.80,522.99 359.30,522.85 359.80,522.71 360.30,522.60 360.80,522.54 361.30,522.55 361.80,522.62 362.30,522.74 362.80,522.88 363.30,523.02 363.80,523.14 364.30,523.24 364.80,523.32 365.30,523.38 365.80,523.42 366.30,523.45 366.80,523.47 367.30,523.48 367.80,523.49 368.30,523.49 368.80,523.50 369.30,523.50 369.80,523.51 370.30,523.51 370.80,523.51 371.30,523.51 371.80,523.52 372.30,523.52 372.80,523.52 373.30,523.52 373.80,523.52 374.30,523.52 374.80,523.52 375.30,523.52 375.80,523.52 376.30,523.52 376.80,523.52 377.30,523.52 377.80,523.53 378.30,523.53 378.80,523.53 379.30,523.53 379.80,523.53 380.30,523.53 380.80,523.53 381.30,523.53 381.80,523.53 382.30,523.53 382.80,523.53 383.30,523.53 383.80,523.53 384.30,523.53 384.80,523.53 385.30,523.53 385.80,523.53 386.30,523.53 386.80,523.53 387.30,523.53 387.80,523.53 388.30,523.53 388.80,523.53 389.30,523.53 389.80,523.53 390.30,523.53 390.80,523.53 391.30,523.53 391.80,523.53 392.30,523.53 392.80,523.53 393.30,523.53 393.80,523.53 394.30,523.53 394.80,523.53 395.30,523.53 395.80,523.53 396.30,523.53 396.80,523.53 397.30,523.53 397.80,523.53 398.30,523.53 398.80,523.53 399.30,523.53 399.80,523.53 400.30,523.53 400.80,523.53 401.30,523.53 401.80,523.53 402.30,523.53 402.80,523.53 403.30,523.53 403.80,523.53 404.30,523.53 404.80,523.53 405.30,523.53 405.80,523.53 406.30,523.53 406.80,523.53 407.30,523.53 407.80,523.53 408.30,523.53 408.80,523.53 409.30,523.53 409.80,523.53 410.30,523.53 410.80,523.53 411.30,523.53 411.80,523.53 412.30,523.53 412.80,523.53 413.30,523.53 413.80,523.53 414.30,523.53 414.80,523.53 415.30,523.53 415.80,523.53 416.30,523.53 416.80,523.53 417.30,523.53 417.80,523.53 418.30,523.53 418.80,523.53 419.30,523.53 419.80,523.53 420.30,523.53 420.80,523.52 421.30,523.52 421.80,523.52 422.30,523.52 422.80,523.52 423.30,523.52 423.80,523.52 424.30,523.52 424.80,523.52 425.30,523.52 425.80,523.52 426.30,523.52 426.80,523.52 427.30,523.52 427.80,523.52 428.30,523.52 428.80,523.52 429.30,523.52 429.80,523.52 430.30,523.52 430.80,523.52 431.30,523.52 431.80,523.52 432.30,523.52 432.80,523.52 433.30,523.52 433.80,523.52 434.30,523.52 434.80,523.52 435.30,523.52 435.80,523.52 436.30,523.52 436.80,523.52 437.30,523.52 437.80,523.52 438.30,523.52 438.80,523.52 439.30,523.51 439.80,523.51 440.30,523.51 440.80,523.51 441.30,523.51 441.80,523.51 442.30,523.51 442.80,523.51 443.30,523.51 443.80,523.51 444.30,523.51 444.80,523.51 445.30,523.51 445.80,523.51 446.30,523.51 446.80,523.51 447.30,523.50 447.80,523.50 448.30,523.50 448.80,523.50 449.30,523.50 449.80,523.50 450.30,523.50 450.80,523.50 451.30,523.50 451.80,523.50 452.30,523.50 452.80,523.49 453.30,523.49 453.80,523.49 454.30,523.49 454.80,523.49 455.30,523.49 455.80,523.49 456.30,523.48 456.80,523.48 457.30,523.48 457.80,523.48 458.30,523.48 458.80,523.47 459.30,523.47 459.80,523.47 460.30,523.47 460.80,523.46 461.30,523.46 461.80,523.46 462.30,523.45 462.80,523.45 463.30,523.45 463.80,523.44 464.30,523.44 464.80,523.44 465.30,523.43 465.80,523.43 466.30,523.42 466.80,523.41 467.30,523.41 467.80,523.40 468.30,523.39 468.80,523.39 469.30,523.38 469.80,523.37 470.30,523.36 470.80,523.35 471.30,523.33 471.80,523.32 472.30,523.31 472.80,523.29 473.30,523.27 473.80,523.25 474.30,523.23 474.80,523.20 475.30,523.17 475.80,523.14 476.30,523.11 476.80,523.06 477.30,523.01 477.80,522.96 478.30,522.89 478.80,522.81 479.30,522.72 479.80,522.59 480.30,522.42 480.80,522.17 481.30,521.78 481.80,521.16 482.30,520.17 482.80,518.65 483.30,516.42 483.80,513.35 484.30,509.40 484.80,504.75 485.30,499.78 485.80,495.17 486.30,491.79 486.80,490.54 487.30,491.79 487.80,495.17 488.30,499.78 488.80,504.75 489.30,509.40 489.80,513.35 490.30,516.42 490.80,518.65 491.30,520.17 491.80,521.16 492.30,521.78 492.80,522.17 493.30,522.42 493.80,522.59 494.30,522.72 494.80,522.81 495.30,522.89 495.80,522.96 496.30,523.01 496.80,523.06 497.30,523.11 497.80,523.14 498.30,523.17 498.80,523.20 499.30,523.23 499.80,523.25 500.30,523.27 500.80,523.29 501.30,523.31 501.80,523.32 502.30,523.33 502.80,523.35 503.30,523.36 503.80,523.37 504.30,523.38 504.80,523.39 505.30,523.39 505.80,523.40 506.30,523.41 506.80,523.41 507.30,523.42 507.80,523.43 508.30,523.43 508.80,523.44 509.30,523.44 509.80,523.44 510.30,523.45 510.80,523.45 511.30,523.45 511.80,523.46 512.30,523.46 512.80,523.46 513.30,523.47 513.80,523.47 514.30,523.47 514.80,523.47 515.30,523.48 515.80,523.48 516.30,523.48 516.80,523.48 517.30,523.48 517.80,523.49 518.30,523.49 518.80,523.49 519.30,523.49 519.80,523.49 520.30,523.49 520.80,523.49 521.30,523.50 521.80,523.50 522.30,523.50 522.80,523.50 523.30,523.50 523.80,523.50 524.30,523.50 524.80,523.50" fill="none" stroke="#8e8e8e" stroke-width="1.3" stroke-linejoin="round"/>
<polyline points="320.80,540.15 321.30,540.15 321.80,540.15 322.30,540.15 322.80,540.15 323.30,540.15 323.80,540.15 324.30,540.15 324.80,540.15 325.30,540.15 325.80,540.15 326.30,540.15 326.80,540.14 327.30,540.14 327.80,540.14 328.30,540.14 328.80,540.14 329.30,540.14 329.80,540.14 330.30,540.14 330.80,540.14 331.30,540.14 331.80,540.14 332.30,540.14 332.80,540.14 333.30,540.14 333.80,540.14 334.30,540.14 334.80,540.14 335.30,540.14 335.80,540.14 336.30,540.14 336.80,540.13 337.30,540.13 337.80,540.13 338.30,540.13 338.80,540.13 339.30,540.13 339.80,540.13 340.30,540.13 340.80,540.13 341.30,540.13 341.80,540.12 342.30,540.12 342.80,540.12 343.30,540.12 343.80,540.12 344.30,540.12 344.80,540.11 345.30,540.11 345.80,540.11 346.30,540.11 346.80,540.10 347.30,540.10 347.80,540.10 348.30,540.09 348.80,540.09 349.30,540.08 349.80,540.08 350.30,540.07 350.80,540.07 351.30,540.06 351.80,540.05 352.30,540.04 352.80,540.03 353.30,540.02 353.80,540.01 354.30,539.99 354.80,539.97 355.30,539.95 355.80,539.93 356.30,539.90 356.80,539.86 357.30,539.81 357.80,539.73 358.30,539.62 358.80,539.46 359.30,539.22 359.80,538.86 360.30,538.37 360.80,537.72 361.30,536.91 361.80,535.98 362.30,534.99 362.80,534.07 363.30,533.40 363.80,533.15 364.30,533.40 364.80,534.07 365.30,534.99 365.80,535.98 366.30,536.91 366.80,537.72 367.30,538.37 367.80,538.86 368.30,539.22 368.80,539.46 369.30,539.62 369.80,539.73 370.30,539.81 370.80,539.86 371.30,539.90 371.80,539.93 372.30,539.95 372.80,539.97 373.30,539.99 373.80,540.01 374.30,540.02 374.80,540.03 375.30,540.04 375.80,540.05 376.30,540.06 376.80,540.06 377.30,540.07 377.80,540.08 378.30,540.08 378.80,540.09 379.30,540.09 379.80,540.09 380.30,540.10 380.80,540.10 381.30,540.10 381.80,540.11 382.30,540.11 382.80,540.11 383.30,540.11 383.80,540.12 384.30,540.12 384.80,540.12 385.30,540.12 385.80,540.12 386.30,540.12 386.80,540.12 387.30,540.13 387.80,540.13 388.30,540.13 388.80,540.13 389.30,540.13 389.80,540.13 390.30,540.13 390.80,540.13 391.30,540.13 391.80,540.13 392.30,540.13 392.80,540.13 393.30,540.13 393.80,540.14 394.30,540.14 394.80,540.14 395.30,540.14 395.80,540.14 396.30,540.14 396.80,540.14 397.30,540.14 397.80,540.14 398.30,540.14 398.80,540.14 399.30,540.14 399.80,540.14 400.30,540.14 400.80,540.14 401.30,540.14 401.80,540.14 402.30,540.14 402.80,540.14 403.30,540.14 403.80,540.14 404.30,540.14 404.80,540.14 405.30,540.14 405.80,540.14 406.30,540.14 406.80,540.14 407.30,540.14 407.80,540.14 408.30,540.14 408.80,540.14 409.30,540.14 409.80,540.14 410.30,540.14 410.80,540.14 411.30,540.14 411.80,540.14 412.30,540.14 412.80,540.14 413.30,540.14 413.80,540.14 414.30,540.14 414.80,540.14 415.30,540.14 415.80,540.14 416.30,540.14 416.80,540.14 417.30,540.14 417.80,540.14 418.30,540.14 418.80,540.14 419.30,540.14 419.80,540.14 420.30,540.14 420.80,540.14 421.30,540.14 421.80,540.14 422.30,540.14 422.80,540.14 423.30,540.14 423.80,540.14 424.30,540.14 424.80,540.14 425.30,540.14 425.80,540.14 426.30,540.14 426.80,540.14 427.30,540.14 427.80,540.14 428.30,540.14 428.80,540.14 429.30,540.14 429.80,540.14 430.30,540.14 430.80,540.14 431.30,540.14 431.80,540.14 432.30,540.14 432.80,540.14 433.30,540.14 433.80,540.14 434.30,540.14 434.80,540.14 435.30,540.14 435.80,540.14 436.30,540.14 436.80,540.14 437.30,540.14 437.80,540.14 438.30,540.14 438.80,540.14 439.30,540.14 439.80,540.14 440.30,540.14 440.80,540.13 441.30,540.13 441.80,540.13 442.30,540.13 442.80,540.13 443.30,540.13 443.80,540.13 444.30,540.13 444.80,540.13 445.30,540.13 445.80,540.13 446.30,540.13 446.80,540.13 447.30,540.13 447.80,540.13 448.30,540.13 448.80,540.13 449.30,540.13 449.80,540.13 450.30,540.12 450.80,540.12 451.30,540.12 451.80,540.12 452.30,540.12 452.80,540.12 453.30,540.12 453.80,540.12 454.30,540.12 454.80,540.12 455.30,540.11 455.80,540.11 456.30,540.11 456.80,540.11 457.30,540.11 457.80,540.11 458.30,540.11 458.80,540.11 459.30,540.10 459.80,540.10 460.30,540.10 460.80,540.10 461.30,540.10 461.80,540.09 462.30,540.09 462.80,540.09 463.30,540.09 463.80,540.08 464.30,540.08 464.80,540.08 465.30,540.07 465.80,540.07 466.30,540.07 466.80,540.06 467.30,540.06 467.80,540.06 468.30,540.05 468.80,540.05 469.30,540.04 469.80,540.03 470.30,540.03 470.80,540.02 471.30,540.01 471.80,540.01 472.30,540.00 472.80,539.99 473.30,539.98 473.80,539.97 474.30,539.95 474.80,539.94 475.30,539.93 475.80,539.91 476.30,539.89 476.80,539.87 477.30,539.85 477.80,539.82 478.30,539.79 478.80,539.76 479.30,539.72 479.80,539.68 480.30,539.63 480.80,539.57 481.30,539.51 481.80,539.43 482.30,539.33 482.80,539.19 483.30,539.01 483.80,538.74 484.30,538.32 484.80,537.65 485.30,536.59 485.80,534.97 486.30,532.61 486.80,529.41 487.30,525.37 487.80,520.68 488.30,515.80 488.80,511.42 489.30,508.46 489.80,507.71 490.30,509.42 490.80,513.06 491.30,517.74 491.80,522.61 492.30,527.08 492.80,530.80 493.30,533.65 493.80,535.70 494.30,537.07 494.80,537.96 495.30,538.51 495.80,538.87 496.30,539.09 496.80,539.25 497.30,539.37 497.80,539.46 498.30,539.54 498.80,539.60 499.30,539.65 499.80,539.70 500.30,539.74 500.80,539.77 501.30,539.81 501.80,539.83 502.30,539.86 502.80,539.88 503.30,539.90 503.80,539.92 504.30,539.93 504.80,539.95 505.30,539.96 505.80,539.97 506.30,539.98 506.80,539.99 507.30,540.00 507.80,540.01 508.30,540.02 508.80,540.02 509.30,540.03 509.80,540.04 510.30,540.04 510.80,540.05 511.30,540.05 511.80,540.06 512.30,540.06 512.80,540.07 513.30,540.07 513.80,540.07 514.30,540.08 514.80,540.08 515.30,540.08 515.80,540.09 516.30,540.09 516.80,540.09 517.30,540.09 517.80,540.10 518.30,540.10 518.80,540.10 519.30,540.10 519.80,540.10 520.30,540.11 520.80,540.11 521.30,540.11 521.80,540.11 522.30,540.11 522.80,540.11 523.30,540.11 523.80,540.12 524.30,540.12 524.80,540.12" fill="none" stroke="#1c1c1c" stroke-width="1.5" stroke-linejoin="round"/>
<polyline points="320.80,556.77 321.30,556.77 321.80,556.77 322.30,556.77 322.80,556.77 323.30,556.77 323.80,556.77 324.30,556.77 324.80,556.77 325.30,556.77 325.80,556.77 326.30,556.77 326.80,556.77 327.30,556.77 327.80,556.77 328.30,556.77 328.80,556.77 329.30,556.77 329.80,556.77 330.30,556.77 330.80,556.77 331.30,556.77 331.80,556.77 332.30,556.77 332.80,556.77 333.30,556.77 333.80,556.77 334.30,556.77 334.80,556.77 335.30,556.77 335.80,556.77 336.30,556.77 336.80,556.77 337.30,556.77 337.80,556.77 338.30,556.77 338.80,556.77 339.30,556.77 339.80,556.77 340.30,556.76 340.80,556.76 341.30,556.76 341.80,556.76 342.30,556.76 342.80,556.76 343.30,556.76 343.80,556.76 344.30,556.76 344.80,556.76 345.30,556.76 345.80,556.76 346.30,556.76 346.80,556.76 347.30,556.75 347.80,556.75 348.30,556.75 348.80,556.75 349.30,556.75 349.80,556.75 350.30,556.75 350.80,556.74 351.30,556.74 351.80,556.74 352.30,556.74 352.80,556.73 353.30,556.73 353.80,556.73 354.30,556.72 354.80,556.72 355.30,556.71 355.80,556.71 356.30,556.70 356.80,556.69 357.30,556.69 357.80,556.68 358.30,556.66 358.80,556.65 359.30,556.63 359.80,556.62 360.30,556.59 360.80,556.56 361.30,556.51 361.80,556.43 362.30,556.30 362.80,556.04 363.30,555.57 363.80,554.78 364.30,553.55 364.80,551.83 365.30,549.71 365.80,547.45 366.30,545.49 366.80,544.38 367.30,544.51 367.80,545.83 368.30,547.89 368.80,550.16 369.30,552.21 369.80,553.83 370.30,554.97 370.80,555.69 371.30,556.10 371.80,556.33 372.30,556.45 372.80,556.52 373.30,556.57 373.80,556.60 374.30,556.62 374.80,556.64 375.30,556.65 375.80,556.67 376.30,556.68 376.80,556.69 377.30,556.69 377.80,556.70 378.30,556.71 378.80,556.71 379.30,556.72 379.80,556.72 380.30,556.73 380.80,556.73 381.30,556.73 381.80,556.74 382.30,556.74 382.80,556.74 383.30,556.74 383.80,556.74 384.30,556.75 384.80,556.75 385.30,556.75 385.80,556.75 386.30,556.75 386.80,556.75 387.30,556.75 387.80,556.75 388.30,556.76 388.80,556.76 389.30,556.76 389.80,556.76 390.30,556.76 390.80,556.76 391.30,556.76 391.80,556.76 392.30,556.76 392.80,556.76 393.30,556.76 393.80,556.76 394.30,556.76 394.80,556.76 395.30,556.76 395.80,556.76 396.30,556.76 396.80,556.76 397.30,556.76 397.80,556.76 398.30,556.76 398.80,556.77 399.30,556.77 399.80,556.77 400.30,556.77 400.80,556.77 401.30,556.77 401.80,556.77 402.30,556.77 402.80,556.77 403.30,556.77 403.80,556.77 404.30,556.77 404.80,556.77 405.30,556.77 405.80,556.77 406.30,556.77 406.80,556.77 407.30,556.77 407.80,556.77 408.30,556.77 408.80,556.77 409.30,556.77 409.80,556.77 410.30,556.77 410.80,556.77 411.30,556.77 411.80,556.77 412.30,556.77 412.80,556.77 413.30,556.77 413.80,556.77 414.30,556.77 414.80,556.77 415.30,556.77 415.80,556.77 416.30,556.77 416.80,556.77 417.30,556.77 417.80,556.77 418.30,556.77 418.80,556.77 419.30,556.77 419.80,556.77 420.30,556.77 420.80,556.77 421.30,556.77 421.80,556.77 422.30,556.77 422.80,556.77 423.30,556.77 423.80,556.77 424.30,556.77 424.80,556.77 425.30,556.77 425.80,556.77 426.30,556.77 426.80,556.77 427.30,556.77 427.80,556.77 428.30,556.77 428.80,556.77 429.30,556.77 429.80,556.77 430.30,556.77 430.80,556.77 431.30,556.76 431.80,556.76 432.30,556.76 432.80,556.76 433.30,556.76 433.80,556.76 434.30,556.76 434.80,556.76 435.30,556.76 435.80,556.76 436.30,556.76 436.80,556.76 437.30,556.76 437.80,556.76 438.30,556.76 438.80,556.76 439.30,556.76 439.80,556.76 440.30,556.76 440.80,556.76 441.30,556.76 441.80,556.76 442.30,556.76 442.80,556.76 443.30,556.76 443.80,556.76 444.30,556.76 444.80,556.76 445.30,556.76 445.80,556.76 446.30,556.76 446.80,556.76 447.30,556.76 447.80,556.76 448.30,556.75 448.80,556.75 449.30,556.75 449.80,556.75 450.30,556.75 450.80,556.75 451.30,556.75 451.80,556.75 452.30,556.75 452.80,556.75 453.30,556.75 453.80,556.75 454.30,556.75 454.80,556.75 455.30,556.75 455.80,556.74 456.30,556.74 456.80,556.74 457.30,556.74 457.80,556.74 458.30,556.74 458.80,556.74 459.30,556.74 459.80,556.74 460.30,556.74 460.80,556.73 461.30,556.73 461.80,556.73 462.30,556.73 462.80,556.73 463.30,556.73 463.80,556.72 464.30,556.72 464.80,556.72 465.30,556.72 465.80,556.72 466.30,556.71 466.80,556.71 467.30,556.71 467.80,556.71 468.30,556.70 468.80,556.70 469.30,556.70 469.80,556.69 470.30,556.69 470.80,556.68 471.30,556.68 471.80,556.68 472.30,556.67 472.80,556.66 473.30,556.66 473.80,556.65 474.30,556.65 474.80,556.64 475.30,556.63 475.80,556.62 476.30,556.61 476.80,556.60 477.30,556.59 477.80,556.58 478.30,556.56 478.80,556.55 479.30,556.53 479.80,556.51 480.30,556.49 480.80,556.46 481.30,556.43 481.80,556.40 482.30,556.37 482.80,556.33 483.30,556.28 483.80,556.22 484.30,556.16 484.80,556.08 485.30,555.98 485.80,555.85 486.30,555.68 486.80,555.42 487.30,555.01 487.80,554.34 488.30,553.24 488.80,551.53 489.30,548.99 489.80,545.49 490.30,541.06 490.80,535.96 491.30,530.78 491.80,526.43 492.30,524.01 492.80,524.29 493.30,527.18 493.80,531.78 494.30,537.01 494.80,542.01 495.30,546.27 495.80,549.58 496.30,551.93 496.80,553.51 497.30,554.50 497.80,555.11 498.30,555.48 498.80,555.72 499.30,555.88 499.80,556.00 500.30,556.09 500.80,556.17 501.30,556.23 501.80,556.29 502.30,556.33 502.80,556.37 503.30,556.41 503.80,556.44 504.30,556.47 504.80,556.49 505.30,556.51 505.80,556.53 506.30,556.55 506.80,556.56 507.30,556.58 507.80,556.59 508.30,556.60 508.80,556.61 509.30,556.62 509.80,556.63 510.30,556.64 510.80,556.65 511.30,556.65 511.80,556.66 512.30,556.67 512.80,556.67 513.30,556.68 513.80,556.68 514.30,556.69 514.80,556.69 515.30,556.69 515.80,556.70 516.30,556.70 516.80,556.70 517.30,556.71 517.80,556.71 518.30,556.71 518.80,556.71 519.30,556.72 519.80,556.72 520.30,556.72 520.80,556.72 521.30,556.73 521.80,556.73 522.30,556.73 522.80,556.73 523.30,556.73 523.80,556.73 524.30,556.73 524.80,556.74" fill="none" stroke="#8e8e8e" stroke-width="1.3" stroke-linejoin="round"/>
<polyline points="320.80,573.40 321.30,573.40 321.80,573.40 322.30,573.40 322.80,573.40 323.30,573.40 323.80,573.40 324.30,573.40 324.80,573.40 325.30,573.40 325.80,573.40 326.30,573.40 326.80,573.40 327.30,573.40 327.80,573.40 328.30,573.40 328.80,573.40 329.30,573.40 329.80,573.40 330.30,573.40 330.80,573.40 331.30,573.40 331.80,573.40 332.30,573.40 332.80,573.40 333.30,573.40 333.80,573.40 334.30,573.40 334.80,573.40 335.30,573.40 335.80,573.40 336.30,573.40 336.80,573.40 337.30,573.40 337.80,573.40 338.30,573.40 338.80,573.40 339.30,573.40 339.80,573.40 340.30,573.40 340.80,573.40 341.30,573.40 341.80,573.40 342.30,573.40 342.80,573.40 343.30,573.40 343.80,573.40 344.30,573.40 344.80,573.40 345.30,573.40 345.80,573.40 346.30,573.40 346.80,573.40 347.30,573.40 347.80,573.40 348.30,573.40 348.80,573.40 349.30,573.40 349.80,573.40 350.30,573.40 350.80,573.40 351.30,573.40 351.80,573.40 352.30,573.40 352.80,573.40 353.30,573.40 353.80,573.40 354.30,573.40 354.80,573.40 355.30,573.40 355.80,573.40 356.30,573.40 356.80,573.40 357.30,573.40 357.80,573.40 358.30,573.40 358.80,573.40 359.30,573.40 359.80,573.40 360.30,573.40 360.80,573.40 361.30,573.40 361.80,573.40 362.30,573.40 362.80,573.40 363.30,573.40 363.80,573.40 364.30,573.40 364.80,573.40 365.30,573.40 365.80,573.40 366.30,573.40 366.80,573.40 367.30,573.40 367.80,573.40 368.30,573.40 368.80,573.40 369.30,573.40 369.80,573.40 370.30,573.40 370.80,573.40 371.30,573.40 371.80,573.40 372.30,573.40 372.80,573.40 373.30,573.40 373.80,573.40 374.30,573.40 374.80,573.40 375.30,573.40 375.80,573.40 376.30,573.40 376.80,573.40 377.30,573.40 377.80,573.40 378.30,573.40 378.80,573.40 379.30,573.40 379.80,573.40 380.30,573.40 380.80,573.40 381.30,573.40 381.80,573.40 382.30,573.40 382.80,573.40 383.30,573.40 383.80,573.40 384.30,573.40 384.80,573.40 385.30,573.40 385.80,573.40 386.30,573.40 386.80,573.40 387.30,573.40 387.80,573.40 388.30,573.40 388.80,573.40 389.30,573.40 389.80,573.40 390.30,573.40 390.80,573.40 391.30,573.40 391.80,573.40 392.30,573.40 392.80,573.40 393.30,573.40 393.80,573.40 394.30,573.40 394.80,573.40 395.30,573.40 395.80,573.40 396.30,573.40 396.80,573.40 397.30,573.40 397.80,573.40 398.30,573.40 398.80,573.40 399.30,573.40 399.80,573.40 400.30,573.40 400.80,573.40 401.30,573.40 401.80,573.40 402.30,573.40 402.80,573.40 403.30,573.40 403.80,573.40 404.30,573.40 404.80,573.40 405.30,573.40 405.80,573.40 406.30,573.40 406.80,573.40 407.30,573.40 407.80,573.40 408.30,573.40 408.80,573.40 409.30,573.40 409.80,573.40 410.30,573.40 410.80,573.39 411.30,573.39 411.80,573.39 412.30,573.39 412.80,573.39 413.30,573.39 413.80,573.39 414.30,573.39 414.80,573.39 415.30,573.39 415.80,573.39 416.30,573.39 416.80,573.39 417.30,573.39 417.80,573.39 418.30,573.39 418.80,573.39 419.30,573.39 419.80,573.39 420.30,573.39 420.80,573.39 421.30,573.39 421.80,573.39 422.30,573.39 422.80,573.39 423.30,573.39 423.80,573.39 424.30,573.39 424.80,573.39 425.30,573.39 425.80,573.39 426.30,573.39 426.80,573.39 427.30,573.39 427.80,573.39 428.30,573.39 428.80,573.39 429.30,573.39 429.80,573.39 430.30,573.39 430.80,573.39 431.30,573.39 431.80,573.39 432.30,573.39 432.80,573.39 433.30,573.39 433.80,573.39 434.30,573.39 434.80,573.39 435.30,573.39 435.80,573.39 436.30,573.39 436.80,573.39 437.30,573.39 437.80,573.39 438.30,573.39 438.80,573.39 439.30,573.39 439.80,573.39 440.30,573.39 440.80,573.39 441.30,573.39 441.80,573.39 442.30,573.39 442.80,573.39 443.30,573.39 443.80,573.39 444.30,573.39 444.80,573.39 445.30,573.39 445.80,573.39 446.30,573.38 446.80,573.38 447.30,573.38 447.80,573.38 448.30,573.38 448.80,573.38 449.30,573.38 449.80,573.38 450.30,573.38 450.80,573.38 451.30,573.38 451.80,573.38 452.30,573.38 452.80,573.38 453.30,573.38 453.80,573.38 454.30,573.38 454.80,573.38 455.30,573.38 455.80,573.38 456.30,573.38 456.80,573.38 457.30,573.37 457.80,573.37 458.30,573.37 458.80,573.37 459.30,573.37 459.80,573.37 460.30,573.37 460.80,573.37 461.30,573.37 461.80,573.37 462.30,573.37 462.80,573.37 463.30,573.36 463.80,573.36 464.30,573.36 464.80,573.36 465.30,573.36 465.80,573.36 466.30,573.36 466.80,573.35 467.30,573.35 467.80,573.35 468.30,573.35 468.80,573.35 469.30,573.35 469.80,573.34 470.30,573.34 470.80,573.34 471.30,573.34 471.80,573.33 472.30,573.33 472.80,573.33 473.30,573.32 473.80,573.32 474.30,573.32 474.80,573.31 475.30,573.31 475.80,573.30 476.30,573.30 476.80,573.29 477.30,573.28 477.80,573.28 478.30,573.27 478.80,573.26 479.30,573.25 479.80,573.24 480.30,573.23 480.80,573.22 481.30,573.20 481.80,573.19 482.30,573.17 482.80,573.15 483.30,573.13 483.80,573.11 484.30,573.08 484.80,573.05 485.30,573.01 485.80,572.96 486.30,572.91 486.80,572.85 487.30,572.78 487.80,572.69 488.30,572.57 488.80,572.42 489.30,572.19 489.80,571.82 490.30,571.18 490.80,570.06 491.30,568.21 491.80,565.31 492.30,561.19 492.80,555.95 493.30,550.08 493.80,544.62 494.30,541.05 494.80,540.69 495.30,543.70 495.80,548.91 496.30,554.80 496.80,560.23 497.30,564.59 497.80,567.72 498.30,569.76 498.80,571.00 499.30,571.72 499.80,572.13 500.30,572.38 500.80,572.55 501.30,572.67 501.80,572.76 502.30,572.84 502.80,572.90 503.30,572.95 503.80,573.00 504.30,573.04 504.80,573.07 505.30,573.10 505.80,573.13 506.30,573.15 506.80,573.17 507.30,573.19 507.80,573.20 508.30,573.22 508.80,573.23 509.30,573.24 509.80,573.25 510.30,573.26 510.80,573.27 511.30,573.28 511.80,573.28 512.30,573.29 512.80,573.29 513.30,573.30 513.80,573.31 514.30,573.31 514.80,573.31 515.30,573.32 515.80,573.32 516.30,573.33 516.80,573.33 517.30,573.33 517.80,573.33 518.30,573.34 518.80,573.34 519.30,573.34 519.80,573.34 520.30,573.35 520.80,573.35 521.30,573.35 521.80,573.35 522.30,573.35 522.80,573.36 523.30,573.36 523.80,573.36 524.30,573.36 524.80,573.36" fill="none" stroke="#1c1c1c" stroke-width="1.5" stroke-linejoin="round"/>
<path d="M320.8,570.4 V573.4 H524.8" stroke="#1c1c1c" stroke-width="1.4" fill="none"/>
<line x1="320.8" y1="573.4" x2="320.8" y2="570.9" stroke="#1c1c1c" stroke-width="1.1"/>
<text x="320.8" y="587.6999999999999" font-size="11.8" text-anchor="middle" fill="#262626" font-weight="normal" >1.7</text>
<line x1="365.95000000000005" y1="573.4" x2="365.95000000000005" y2="570.9" stroke="#1c1c1c" stroke-width="1.1"/>
<line x1="411.1" y1="573.4" x2="411.1" y2="570.9" stroke="#1c1c1c" stroke-width="1.1"/>
<text x="411.1" y="587.6999999999999" font-size="11.8" text-anchor="middle" fill="#262626" font-weight="normal" >1.9</text>
<line x1="456.25" y1="573.4" x2="456.25" y2="570.9" stroke="#1c1c1c" stroke-width="1.1"/>
<line x1="501.4000000000001" y1="573.4" x2="501.4000000000001" y2="570.9" stroke="#1c1c1c" stroke-width="1.1"/>
<text x="501.4000000000001" y="587.6999999999999" font-size="11.8" text-anchor="middle" fill="#262626" font-weight="normal" >2.1</text>
<text x="430" y="602.6999999999999" font-size="12" text-anchor="middle" fill="#262626" font-weight="normal" >d spacing (Å)</text>
<text transform="translate(538.6,493.4) rotate(-90)" font-size="12" text-anchor="middle" fill="#262626">Intensity (a.u.)</text>
<text x="358" y="417.3" font-size="12" text-anchor="middle" fill="#262626" font-weight="normal" >(200)</text>
<text x="490" y="417.3" font-size="12" text-anchor="middle" fill="#262626" font-weight="normal" >(111)</text>
<text x="339" y="452.3" font-size="11.5" text-anchor="middle" fill="#3cb8ea" font-weight="normal" >Ni</text>
<text x="380" y="452.3" font-size="11.5" text-anchor="middle" fill="#c9376f" font-weight="normal" >Cu</text>
<g clip-path="url(#fcclip)">
<rect x="69.2" y="235.3" width="212.40000000000003" height="66.09999999999997" fill="#8a8a8a"/>
<rect x="69.2" y="235.3" width="212.40000000000003" height="66.09999999999997" filter="url(#fc)"/>
</g>
<g clip-path="url(#fdclip)">
<rect x="327.6" y="235.3" width="211.5" height="66.09999999999997" fill="#8a8a8a"/>
<rect x="327.6" y="235.3" width="211.5" height="66.09999999999997" filter="url(#fd)"/>
</g>
<rect x="69.2" y="317" width="212" height="66" fill="#7c7c7c"/>
<rect x="327.4" y="317" width="211.6" height="66.3" fill="#7c7c7c"/>
<line x1="69.2" y1="235.3" x2="69.2" y2="301.4" stroke="#111" stroke-width="1.4"/>
<line x1="69.2" y1="235.025" x2="71.4" y2="235.025" stroke="#111" stroke-width="1"/>
<line x1="69.2" y1="244.5" x2="71.4" y2="244.5" stroke="#111" stroke-width="1"/>
<line x1="69.2" y1="253.975" x2="71.4" y2="253.975" stroke="#111" stroke-width="1"/>
<line x1="69.2" y1="263.45" x2="71.4" y2="263.45" stroke="#111" stroke-width="1"/>
<line x1="69.2" y1="272.925" x2="71.4" y2="272.925" stroke="#111" stroke-width="1"/>
<line x1="69.2" y1="282.4" x2="71.4" y2="282.4" stroke="#111" stroke-width="1"/>
<line x1="69.2" y1="291.875" x2="71.4" y2="291.875" stroke="#111" stroke-width="1"/>
<text x="63.3" y="248.7" font-size="11.8" text-anchor="end" fill="#262626" font-weight="normal" >80</text>
<text x="63.3" y="267.65" font-size="11.8" text-anchor="end" fill="#262626" font-weight="normal" >70</text>
<text x="63.3" y="286.59999999999997" font-size="11.8" text-anchor="end" fill="#262626" font-weight="normal" >60</text>
<text x="34.5" y="244.6" font-size="11.4" text-anchor="middle" fill="#262626" font-weight="normal" >(c)</text>
<text transform="translate(38.3,271.5) rotate(-90)" font-size="11.7" text-anchor="middle" fill="#262626">Ni (at%)</text>
<rect x="76.4" y="266.4" width="34" height="24.6" fill="none" stroke="#d4d4d4" stroke-width="1.1"/>
<rect x="126.4" y="266.4" width="34" height="24.6" fill="none" stroke="#d4d4d4" stroke-width="1.1"/>
<rect x="176.4" y="266.4" width="34" height="24.6" fill="none" stroke="#d4d4d4" stroke-width="1.1"/>
<rect x="226.4" y="266.4" width="34" height="24.6" fill="none" stroke="#d4d4d4" stroke-width="1.1"/>
<path d="M91.4,243.6 L76.4,266.4 M91.4,243.6 L110.4,266.4" stroke="#e6e6e6" stroke-width="0.9" stroke-dasharray="1.2 1.2" fill="none"/>
<line x1="168.3" y1="235.3" x2="168.3" y2="301.4" stroke="#000" stroke-width="1.2" stroke-dasharray="1.2 1.2"/>
<polyline points="69.20,245.60 91.40,243.60 143.60,259.00 194.00,255.60 246.00,276.00 281.60,280.00" fill="none" stroke="#44bbe6" stroke-width="1.6"/>
<circle cx="91.4" cy="243.6" r="2.5" fill="#44bbe6"/>
<circle cx="143.6" cy="259" r="2.5" fill="#44bbe6"/>
<circle cx="194" cy="255.6" r="2.5" fill="#44bbe6"/>
<circle cx="246" cy="276" r="2.5" fill="#44bbe6"/>
<text x="107.4" y="245" font-size="12" text-anchor="start" fill="#fff" font-weight="normal" >Ni<tspan font-size="7.8" dy="2.6">78</tspan></text>
<text x="213.7" y="245" font-size="12" text-anchor="start" fill="#fff" font-weight="normal" >Ni<tspan font-size="7.8" dy="2.6">67</tspan></text>
<line x1="207.6" y1="298.8" x2="240" y2="298.8" stroke="#fff" stroke-width="1.5"/>
<text x="241.5" y="302" font-size="11.8" text-anchor="start" fill="#fff" font-weight="normal" >100 μm</text>
<line x1="327.6" y1="235.3" x2="327.6" y2="301.4" stroke="#111" stroke-width="1.4"/>
<line x1="327.6" y1="236.4" x2="329.8" y2="236.4" stroke="#111" stroke-width="1"/>
<line x1="327.6" y1="245.6" x2="329.8" y2="245.6" stroke="#111" stroke-width="1"/>
<line x1="327.6" y1="254.79999999999998" x2="329.8" y2="254.79999999999998" stroke="#111" stroke-width="1"/>
<line x1="327.6" y1="264.0" x2="329.8" y2="264.0" stroke="#111" stroke-width="1"/>
<line x1="327.6" y1="273.2" x2="329.8" y2="273.2" stroke="#111" stroke-width="1"/>
<line x1="327.6" y1="282.4" x2="329.8" y2="282.4" stroke="#111" stroke-width="1"/>
<line x1="327.6" y1="291.6" x2="329.8" y2="291.6" stroke="#111" stroke-width="1"/>
<text x="321.5" y="249.79999999999998" font-size="11.8" text-anchor="end" fill="#262626" font-weight="normal" >70</text>
<text x="321.5" y="268.2" font-size="11.8" text-anchor="end" fill="#262626" font-weight="normal" >60</text>
<text x="321.5" y="286.59999999999997" font-size="11.8" text-anchor="end" fill="#262626" font-weight="normal" >50</text>
<text x="297.6" y="244.8" font-size="11.4" text-anchor="middle" fill="#262626" font-weight="normal" >(d)</text>
<text transform="translate(301,272) rotate(-90)" font-size="11.7" text-anchor="middle" fill="#262626">Ni (at%)</text>
<rect x="343.6" y="266.8" width="33.5" height="22.9" fill="none" stroke="#d4d4d4" stroke-width="1.1"/>
<rect x="393.1" y="266.8" width="33.5" height="22.9" fill="none" stroke="#d4d4d4" stroke-width="1.1"/>
<rect x="442.7" y="266.8" width="33.5" height="22.9" fill="none" stroke="#d4d4d4" stroke-width="1.1"/>
<rect x="492.8" y="266.8" width="33.5" height="22.9" fill="none" stroke="#d4d4d4" stroke-width="1.1"/>
<line x1="434.5" y1="235.3" x2="434.5" y2="301.4" stroke="#000" stroke-width="1.2" stroke-dasharray="1.2 1.2"/>
<polyline points="327.60,264.70 361.90,263.30 410.50,240.40 460.10,299.60 509.00,284.00 539.10,289.00" fill="none" stroke="#44bbe6" stroke-width="1.6"/>
<circle cx="361.9" cy="263.3" r="2.5" fill="#44bbe6"/>
<circle cx="410.5" cy="240.4" r="2.5" fill="#44bbe6"/>
<circle cx="460.1" cy="299.6" r="2.5" fill="#44bbe6"/>
<circle cx="509" cy="284" r="2.5" fill="#44bbe6"/>
<text x="370.7" y="245" font-size="12" text-anchor="start" fill="#fff" font-weight="normal" >Ni<tspan font-size="7.8" dy="2.6">56</tspan></text>
<text x="477.2" y="245" font-size="12" text-anchor="start" fill="#fff" font-weight="normal" >Ni<tspan font-size="7.8" dy="2.6">44</tspan></text>
<g clip-path="url(#eclip)">
<path d="M85.79,321.52 C85.54,322.13 83.78,322.39 82.87,322.75 C81.95,323.10 81.25,323.67 80.30,323.66 C79.36,323.65 78.25,323.13 77.21,322.66 C76.18,322.19 74.50,321.55 74.08,320.81 C73.65,320.08 74.13,318.98 74.69,318.24 C75.24,317.50 76.30,316.41 77.39,316.36 C78.48,316.31 80.06,317.49 81.22,317.94 C82.38,318.39 83.60,318.48 84.36,319.07 C85.12,319.67 86.04,320.91 85.79,321.52 Z" fill="#050505" stroke="#d8d8d8" stroke-width="0.45"/>
<path d="M87.16,333.96 C86.90,334.28 86.75,334.62 86.37,334.78 C86.00,334.94 85.28,335.11 84.89,334.93 C84.50,334.74 84.25,334.07 84.01,333.67 C83.78,333.26 83.54,332.93 83.48,332.51 C83.43,332.08 83.38,331.38 83.68,331.10 C83.98,330.82 84.78,330.72 85.28,330.83 C85.78,330.93 86.23,331.38 86.67,331.72 C87.11,332.05 87.82,332.46 87.90,332.84 C87.98,333.21 87.41,333.63 87.16,333.96 Z" fill="#8e8e8e" stroke="#000" stroke-width="1.1"/>
<path d="M103.46,341.50 C103.45,341.92 102.21,342.24 101.73,342.71 C101.25,343.18 101.16,344.14 100.60,344.34 C100.04,344.53 98.88,344.22 98.35,343.88 C97.82,343.54 97.52,342.80 97.41,342.29 C97.29,341.77 97.54,341.37 97.67,340.79 C97.79,340.22 97.69,339.10 98.16,338.84 C98.63,338.58 99.87,339.01 100.48,339.24 C101.09,339.47 101.33,339.84 101.83,340.22 C102.33,340.60 103.48,341.08 103.46,341.50 Z" fill="#050505" stroke="#d8d8d8" stroke-width="0.45"/>
<path d="M121.60,326.00 C121.63,326.47 122.00,327.16 121.80,327.51 C121.59,327.85 120.86,327.99 120.37,328.07 C119.87,328.15 119.26,328.22 118.85,328.00 C118.44,327.78 118.03,327.21 117.90,326.76 C117.78,326.31 117.94,325.79 118.09,325.30 C118.23,324.82 118.39,324.05 118.76,323.86 C119.14,323.67 119.86,324.01 120.33,324.15 C120.79,324.29 121.36,324.37 121.57,324.68 C121.78,324.99 121.56,325.53 121.60,326.00 Z" fill="#050505" stroke="#d8d8d8" stroke-width="0.45"/>
<path d="M138.57,333.61 C139.10,334.47 138.31,336.30 137.74,337.53 C137.17,338.77 136.33,340.42 135.14,341.04 C133.96,341.67 132.00,341.48 130.61,341.29 C129.22,341.10 127.33,340.74 126.80,339.90 C126.28,339.06 127.21,337.34 127.45,336.25 C127.70,335.16 127.63,334.16 128.28,333.37 C128.94,332.59 130.33,331.71 131.37,331.54 C132.41,331.37 133.34,332.03 134.54,332.37 C135.74,332.72 138.03,332.75 138.57,333.61 Z" fill="#050505" stroke="#d8d8d8" stroke-width="0.45"/>
<path d="M102.04,350.00 C101.98,350.43 101.88,350.74 101.74,351.03 C101.59,351.32 101.41,351.61 101.19,351.75 C100.96,351.89 100.57,352.04 100.36,351.85 C100.15,351.66 100.02,351.05 99.95,350.64 C99.88,350.22 99.86,349.71 99.95,349.36 C100.04,349.01 100.28,348.70 100.49,348.52 C100.69,348.34 100.91,348.27 101.18,348.26 C101.46,348.25 101.98,348.14 102.12,348.43 C102.26,348.72 102.10,349.57 102.04,350.00 Z" fill="#050505" stroke="#d8d8d8" stroke-width="0.45"/>
<path d="M118.07,354.00 C118.08,354.22 117.96,354.54 117.81,354.68 C117.65,354.82 117.37,354.77 117.15,354.82 C116.92,354.87 116.60,355.05 116.44,354.97 C116.29,354.88 116.27,354.50 116.22,354.28 C116.16,354.07 116.09,353.91 116.12,353.68 C116.14,353.45 116.20,353.04 116.38,352.92 C116.56,352.80 116.95,352.88 117.19,352.95 C117.42,353.02 117.64,353.16 117.79,353.34 C117.94,353.51 118.07,353.78 118.07,354.00 Z" fill="#050505" stroke="#d8d8d8" stroke-width="0.45"/>
<path d="M153.31,323.00 C153.30,323.31 153.26,323.68 153.08,323.90 C152.90,324.13 152.50,324.35 152.24,324.34 C151.97,324.34 151.66,324.07 151.48,323.90 C151.30,323.73 151.22,323.53 151.14,323.31 C151.05,323.10 150.92,322.83 150.98,322.63 C151.03,322.42 151.27,322.19 151.47,322.08 C151.67,321.98 151.90,321.99 152.18,321.99 C152.45,321.99 152.93,321.89 153.12,322.06 C153.31,322.23 153.32,322.69 153.31,323.00 Z" fill="#050505" stroke="#d8d8d8" stroke-width="0.45"/>
<path d="M165.38,323.00 C165.34,323.42 164.72,323.81 164.39,324.17 C164.06,324.52 163.76,325.04 163.37,325.12 C162.98,325.20 162.49,324.86 162.05,324.64 C161.61,324.43 160.88,324.21 160.73,323.83 C160.58,323.44 160.93,322.72 161.16,322.33 C161.39,321.94 161.76,321.65 162.12,321.47 C162.47,321.30 162.89,321.25 163.30,321.28 C163.71,321.31 164.23,321.39 164.58,321.67 C164.92,321.96 165.41,322.58 165.38,323.00 Z" fill="#8e8e8e" stroke="#000" stroke-width="1.1"/>
<path d="M164.76,337.00 C164.83,337.39 164.82,337.95 164.60,338.34 C164.37,338.73 163.84,339.31 163.42,339.36 C162.99,339.41 162.39,338.94 162.05,338.64 C161.71,338.35 161.62,338.00 161.38,337.59 C161.15,337.17 160.55,336.53 160.65,336.15 C160.75,335.76 161.56,335.38 162.00,335.26 C162.43,335.14 162.91,335.31 163.28,335.43 C163.64,335.56 163.94,335.74 164.19,336.01 C164.43,336.27 164.69,336.61 164.76,337.00 Z" fill="#8e8e8e" stroke="#000" stroke-width="1.1"/>
<path d="M157.81,354.92 C157.63,355.52 158.37,356.21 157.72,356.63 C157.08,357.04 155.24,357.47 153.94,357.41 C152.65,357.36 150.85,356.76 149.95,356.32 C149.05,355.88 148.91,355.30 148.55,354.78 C148.19,354.27 147.63,353.79 147.79,353.24 C147.94,352.69 148.42,351.67 149.51,351.48 C150.59,351.29 152.72,351.85 154.27,352.10 C155.82,352.36 158.24,352.55 158.83,353.02 C159.42,353.49 158.00,354.32 157.81,354.92 Z" fill="#050505" stroke="#d8d8d8" stroke-width="0.45"/>
<path d="M175.72,353.00 C175.61,353.74 173.97,354.21 173.32,354.94 C172.66,355.67 172.52,357.07 171.77,357.37 C171.02,357.68 169.58,357.28 168.82,356.78 C168.05,356.28 167.36,355.22 167.17,354.39 C166.98,353.56 167.40,352.64 167.68,351.79 C167.96,350.94 168.21,349.62 168.86,349.29 C169.51,348.96 170.71,349.62 171.56,349.83 C172.41,350.03 173.27,349.98 173.96,350.51 C174.66,351.04 175.83,352.26 175.72,353.00 Z" fill="#050505" stroke="#d8d8d8" stroke-width="0.45"/>
<path d="M82.67,361.16 C83.02,361.64 83.52,362.43 83.21,363.07 C82.89,363.70 81.64,364.66 80.78,364.97 C79.91,365.27 78.83,364.96 78.00,364.90 C77.16,364.83 76.13,364.92 75.76,364.59 C75.39,364.26 75.78,363.52 75.79,362.90 C75.80,362.28 75.34,361.44 75.84,360.87 C76.34,360.30 77.90,359.59 78.78,359.48 C79.65,359.36 80.45,359.92 81.09,360.20 C81.74,360.48 82.32,360.69 82.67,361.16 Z" fill="#050505" stroke="#d8d8d8" stroke-width="0.45"/>
<path d="M105.01,378.41 C104.80,379.12 104.11,380.11 103.59,380.42 C103.06,380.73 102.46,380.33 101.86,380.30 C101.26,380.27 100.34,380.65 100.00,380.24 C99.66,379.83 99.76,378.65 99.83,377.83 C99.91,377.01 100.03,375.91 100.45,375.30 C100.87,374.69 101.82,374.19 102.36,374.17 C102.90,374.15 103.28,374.85 103.69,375.18 C104.10,375.51 104.62,375.63 104.84,376.17 C105.06,376.71 105.22,377.71 105.01,378.41 Z" fill="#050505" stroke="#d8d8d8" stroke-width="0.45"/>
<path d="M156.16,376.50 C156.35,376.82 157.08,377.38 156.76,377.67 C156.43,377.96 155.11,378.20 154.22,378.26 C153.34,378.31 152.08,378.23 151.46,378.01 C150.84,377.80 150.61,377.28 150.53,376.96 C150.44,376.64 150.79,376.44 150.94,376.10 C151.09,375.77 150.87,375.19 151.42,374.96 C151.97,374.72 153.54,374.56 154.24,374.69 C154.94,374.82 155.31,375.43 155.63,375.74 C155.94,376.04 155.97,376.18 156.16,376.50 Z" fill="#050505" stroke="#d8d8d8" stroke-width="0.45"/>
<path d="M136.99,382.00 C136.91,382.21 136.60,382.32 136.40,382.50 C136.20,382.69 136.09,383.03 135.79,383.11 C135.50,383.19 134.89,383.12 134.65,382.98 C134.41,382.84 134.44,382.50 134.35,382.28 C134.26,382.06 134.04,381.86 134.11,381.66 C134.17,381.47 134.46,381.20 134.73,381.11 C135.00,381.02 135.37,381.11 135.73,381.13 C136.09,381.15 136.65,381.09 136.86,381.24 C137.07,381.38 137.07,381.79 136.99,382.00 Z" fill="#050505" stroke="#d8d8d8" stroke-width="0.45"/>
<path d="M127.94,368.00 C127.92,368.39 127.68,368.77 127.48,369.10 C127.29,369.44 127.07,369.87 126.77,370.01 C126.46,370.15 125.91,370.17 125.66,369.93 C125.42,369.69 125.37,369.01 125.30,368.58 C125.23,368.16 125.18,367.84 125.22,367.38 C125.27,366.92 125.30,366.09 125.56,365.84 C125.82,365.59 126.44,365.73 126.78,365.88 C127.12,366.04 127.42,366.40 127.61,366.75 C127.81,367.11 127.96,367.61 127.94,368.00 Z" fill="#8e8e8e" stroke="#000" stroke-width="1.1"/>
<path d="M279.27,326.45 C279.51,327.54 278.94,328.79 278.61,329.74 C278.27,330.69 277.91,331.64 277.23,332.16 C276.56,332.67 275.51,332.95 274.55,332.82 C273.60,332.69 272.11,332.21 271.52,331.36 C270.93,330.51 270.96,328.81 271.01,327.72 C271.05,326.63 271.26,325.47 271.78,324.81 C272.30,324.16 273.22,324.06 274.12,323.79 C275.02,323.52 276.31,322.76 277.16,323.20 C278.02,323.65 279.03,325.36 279.27,326.45 Z" fill="#8e8e8e" stroke="#000" stroke-width="1.1"/>
<path d="M224.73,335.50 C224.73,336.15 225.06,336.95 224.84,337.43 C224.62,337.92 223.85,338.44 223.41,338.40 C222.97,338.37 222.56,337.56 222.21,337.20 C221.87,336.84 221.58,336.68 221.37,336.24 C221.16,335.81 220.83,335.01 220.96,334.57 C221.09,334.14 221.76,333.82 222.14,333.64 C222.53,333.46 222.83,333.51 223.28,333.49 C223.74,333.47 224.62,333.21 224.87,333.54 C225.11,333.88 224.73,334.85 224.73,335.50 Z" fill="#8e8e8e" stroke="#000" stroke-width="1.1"/>
<path d="M259.07,340.50 C259.07,341.03 258.79,341.62 258.51,342.09 C258.23,342.55 257.84,343.16 257.40,343.31 C256.95,343.46 256.18,343.35 255.85,343.00 C255.52,342.65 255.47,341.75 255.41,341.22 C255.35,340.69 255.40,340.29 255.50,339.82 C255.60,339.35 255.73,338.69 256.03,338.41 C256.34,338.13 256.92,338.05 257.33,338.13 C257.75,338.22 258.22,338.52 258.51,338.92 C258.80,339.31 259.07,339.97 259.07,340.50 Z" fill="#050505" stroke="#d8d8d8" stroke-width="0.45"/>
<path d="M188.23,342.00 C188.29,342.52 187.96,343.24 187.66,343.75 C187.37,344.26 186.84,345.06 186.43,345.06 C186.02,345.06 185.57,344.10 185.20,343.73 C184.83,343.36 184.37,343.23 184.21,342.81 C184.06,342.39 184.17,341.78 184.27,341.21 C184.37,340.65 184.48,339.67 184.82,339.44 C185.16,339.22 185.89,339.65 186.30,339.85 C186.72,340.05 186.97,340.28 187.29,340.64 C187.62,341.00 188.17,341.48 188.23,342.00 Z" fill="#050505" stroke="#d8d8d8" stroke-width="0.45"/>
<path d="M209.96,343.50 C210.00,343.78 209.81,344.21 209.60,344.43 C209.40,344.65 209.03,344.78 208.73,344.81 C208.44,344.85 208.17,344.75 207.84,344.64 C207.52,344.52 206.91,344.39 206.79,344.12 C206.67,343.85 206.99,343.36 207.13,343.00 C207.27,342.64 207.34,342.14 207.61,341.97 C207.89,341.80 208.47,341.85 208.77,341.99 C209.06,342.12 209.19,342.50 209.39,342.75 C209.59,343.00 209.93,343.22 209.96,343.50 Z" fill="#8e8e8e" stroke="#000" stroke-width="1.1"/>
<path d="M224.50,347.00 C224.55,347.68 224.13,348.64 223.79,349.25 C223.44,349.86 222.93,350.50 222.43,350.65 C221.93,350.80 221.23,350.56 220.79,350.15 C220.35,349.74 219.85,348.87 219.79,348.20 C219.73,347.54 220.23,346.78 220.43,346.15 C220.64,345.51 220.70,344.70 221.01,344.42 C221.32,344.14 221.89,344.34 222.30,344.47 C222.71,344.59 223.09,344.75 223.46,345.17 C223.82,345.59 224.44,346.32 224.50,347.00 Z" fill="#8e8e8e" stroke="#000" stroke-width="1.1"/>
<path d="M240.45,352.50 C240.35,352.85 240.53,353.10 240.30,353.41 C240.06,353.71 239.52,354.30 239.04,354.34 C238.56,354.38 237.93,353.85 237.40,353.65 C236.86,353.44 236.02,353.36 235.82,353.09 C235.62,352.81 235.96,352.30 236.20,352.00 C236.45,351.69 236.83,351.47 237.30,351.25 C237.77,351.03 238.43,350.68 239.03,350.69 C239.63,350.69 240.65,350.99 240.89,351.30 C241.13,351.60 240.55,352.15 240.45,352.50 Z" fill="#8e8e8e" stroke="#000" stroke-width="1.1"/>
<path d="M262.10,351.00 C262.25,351.40 261.99,352.15 261.47,352.43 C260.96,352.70 259.76,352.61 259.00,352.63 C258.25,352.65 257.69,352.69 256.93,352.56 C256.17,352.43 254.75,352.22 254.44,351.84 C254.13,351.47 254.70,350.72 255.08,350.29 C255.46,349.85 256.03,349.48 256.71,349.23 C257.40,348.98 258.54,348.66 259.18,348.79 C259.83,348.91 260.10,349.63 260.59,350.00 C261.07,350.37 261.95,350.60 262.10,351.00 Z" fill="#050505" stroke="#d8d8d8" stroke-width="0.45"/>
<path d="M175.65,353.00 C175.61,353.90 175.17,354.80 174.68,355.57 C174.20,356.35 173.40,357.58 172.71,357.63 C172.03,357.68 171.34,356.36 170.55,355.87 C169.76,355.38 168.14,355.34 167.95,354.68 C167.76,354.02 168.97,352.69 169.40,351.92 C169.83,351.15 169.99,350.59 170.52,350.08 C171.06,349.57 171.90,348.85 172.64,348.87 C173.37,348.89 174.41,349.52 174.92,350.20 C175.42,350.89 175.69,352.10 175.65,353.00 Z" fill="#050505" stroke="#d8d8d8" stroke-width="0.45"/>
<path d="M217.49,360.47 C217.48,360.91 217.14,361.26 216.84,361.75 C216.53,362.24 216.26,363.23 215.66,363.42 C215.07,363.62 214.02,363.08 213.28,362.90 C212.55,362.73 211.64,362.72 211.24,362.37 C210.85,362.03 210.72,361.30 210.93,360.82 C211.14,360.34 211.89,359.85 212.53,359.49 C213.16,359.13 214.00,358.73 214.73,358.67 C215.46,358.61 216.46,358.82 216.92,359.12 C217.38,359.42 217.50,360.03 217.49,360.47 Z" fill="#050505" stroke="#d8d8d8" stroke-width="0.45"/>
<path d="M186.61,362.28 C186.81,362.78 186.38,363.47 186.32,364.03 C186.25,364.60 186.47,365.41 186.20,365.67 C185.93,365.93 185.16,365.66 184.69,365.56 C184.22,365.47 183.77,365.40 183.36,365.09 C182.96,364.78 182.37,364.19 182.27,363.72 C182.17,363.24 182.52,362.65 182.75,362.26 C182.98,361.88 183.26,361.60 183.66,361.41 C184.05,361.21 184.60,360.92 185.09,361.07 C185.58,361.22 186.40,361.79 186.61,362.28 Z" fill="#050505" stroke="#d8d8d8" stroke-width="0.45"/>
<path d="M233.68,361.50 C233.64,361.85 233.77,362.14 233.63,362.44 C233.48,362.75 233.17,363.23 232.83,363.35 C232.48,363.46 231.80,363.36 231.56,363.12 C231.32,362.88 231.44,362.25 231.39,361.90 C231.35,361.56 231.22,361.32 231.29,361.06 C231.37,360.80 231.58,360.58 231.84,360.35 C232.09,360.13 232.48,359.70 232.82,359.70 C233.16,359.70 233.72,360.05 233.87,360.35 C234.01,360.65 233.72,361.15 233.68,361.50 Z" fill="#050505" stroke="#d8d8d8" stroke-width="0.45"/>
<path d="M272.15,376.47 C271.84,377.24 269.81,377.54 268.75,377.63 C267.69,377.73 266.88,377.32 265.79,377.04 C264.70,376.77 262.89,376.76 262.20,375.98 C261.51,375.20 261.45,373.44 261.67,372.38 C261.89,371.32 262.67,370.38 263.52,369.61 C264.36,368.84 265.62,367.71 266.73,367.75 C267.84,367.79 269.55,368.95 270.20,369.83 C270.84,370.72 270.27,371.95 270.59,373.06 C270.92,374.16 272.46,375.71 272.15,376.47 Z" fill="#050505" stroke="#d8d8d8" stroke-width="0.45"/>
</g>
<g clip-path="url(#fclip)">
<path d="M359.85,318.79 C359.94,319.26 358.20,320.10 357.32,320.71 C356.44,321.31 355.82,322.01 354.57,322.43 C353.33,322.85 350.85,323.39 349.86,323.24 C348.86,323.08 348.83,322.01 348.58,321.49 C348.34,320.97 348.11,320.57 348.40,320.11 C348.69,319.65 349.45,319.17 350.32,318.71 C351.19,318.24 352.54,317.46 353.61,317.33 C354.69,317.19 355.73,317.65 356.76,317.89 C357.80,318.13 359.75,318.32 359.85,318.79 Z" fill="#050505" stroke="#d8d8d8" stroke-width="0.45"/>
<path d="M371.10,327.00 C371.18,327.41 371.00,328.15 370.70,328.43 C370.40,328.71 369.76,328.61 369.30,328.68 C368.83,328.75 368.26,329.03 367.93,328.85 C367.61,328.67 367.48,328.02 367.34,327.60 C367.21,327.18 367.06,326.77 367.13,326.32 C367.21,325.87 367.42,325.19 367.80,324.92 C368.18,324.65 369.00,324.51 369.41,324.69 C369.81,324.87 369.94,325.59 370.22,325.98 C370.50,326.36 371.02,326.59 371.10,327.00 Z" fill="#8e8e8e" stroke="#000" stroke-width="1.1"/>
<path d="M404.90,322.50 C404.88,323.00 404.55,323.62 404.20,323.93 C403.85,324.24 403.35,324.18 402.83,324.35 C402.31,324.52 401.55,325.11 401.08,324.96 C400.61,324.80 400.10,323.95 399.99,323.41 C399.88,322.88 400.25,322.30 400.43,321.75 C400.62,321.19 400.68,320.37 401.10,320.07 C401.52,319.78 402.40,319.83 402.95,319.97 C403.49,320.12 404.02,320.53 404.35,320.95 C404.67,321.37 404.93,322.00 404.90,322.50 Z" fill="#050505" stroke="#d8d8d8" stroke-width="0.45"/>
<path d="M335.40,336.00 C335.38,336.69 335.13,337.24 334.72,338.03 C334.30,338.81 333.83,340.34 332.93,340.69 C332.03,341.05 330.17,340.71 329.30,340.16 C328.42,339.61 328.05,338.36 327.67,337.40 C327.30,336.44 326.73,335.24 327.06,334.40 C327.39,333.57 328.73,332.67 329.66,332.39 C330.59,332.12 331.79,332.50 332.64,332.75 C333.50,333.01 334.35,333.37 334.81,333.91 C335.26,334.45 335.41,335.31 335.40,336.00 Z" fill="#050505" stroke="#d8d8d8" stroke-width="0.45"/>
<path d="M410.34,340.44 C410.28,341.07 410.87,342.01 410.09,342.36 C409.32,342.70 407.19,342.65 405.69,342.49 C404.18,342.33 402.32,341.93 401.07,341.40 C399.81,340.88 398.28,339.91 398.16,339.34 C398.05,338.76 399.62,338.30 400.38,337.94 C401.14,337.58 401.78,337.22 402.74,337.18 C403.71,337.14 404.88,337.46 406.16,337.70 C407.45,337.94 409.78,338.15 410.48,338.61 C411.17,339.06 410.41,339.82 410.34,340.44 Z" fill="#050505" stroke="#d8d8d8" stroke-width="0.45"/>
<path d="M382.38,342.50 C382.32,342.84 381.80,343.16 381.46,343.42 C381.12,343.68 380.75,344.04 380.37,344.07 C379.99,344.09 379.61,343.73 379.17,343.57 C378.73,343.42 377.95,343.40 377.72,343.12 C377.48,342.84 377.60,342.27 377.78,341.89 C377.95,341.52 378.32,341.08 378.76,340.89 C379.20,340.71 379.89,340.72 380.40,340.79 C380.91,340.87 381.49,341.07 381.82,341.35 C382.15,341.64 382.44,342.16 382.38,342.50 Z" fill="#050505" stroke="#d8d8d8" stroke-width="0.45"/>
<path d="M435.00,354.53 C434.57,356.91 434.78,360.26 434.13,361.67 C433.47,363.08 432.12,362.62 431.06,363.00 C430.00,363.37 428.45,364.92 427.78,363.94 C427.11,362.97 426.96,359.58 427.06,357.13 C427.15,354.68 427.59,351.48 428.33,349.25 C429.06,347.02 430.50,344.36 431.46,343.74 C432.43,343.13 433.24,344.93 434.11,345.54 C434.99,346.14 436.58,345.87 436.73,347.37 C436.88,348.87 435.44,352.15 435.00,354.53 Z" fill="#050505" stroke="#d8d8d8" stroke-width="0.45"/>
<path d="M424.51,354.50 C424.61,355.27 425.02,356.49 424.77,357.17 C424.52,357.85 423.57,358.57 423.01,358.56 C422.45,358.56 421.96,357.56 421.42,357.11 C420.88,356.66 419.98,356.52 419.78,355.89 C419.57,355.26 419.93,354.01 420.20,353.33 C420.46,352.64 420.90,352.23 421.37,351.76 C421.84,351.30 422.53,350.41 423.00,350.54 C423.46,350.68 423.90,351.90 424.15,352.56 C424.41,353.22 424.41,353.73 424.51,354.50 Z" fill="#8e8e8e" stroke="#000" stroke-width="1.1"/>
<path d="M348.67,360.50 C348.49,361.06 348.62,361.49 348.27,361.86 C347.92,362.24 347.28,362.55 346.56,362.75 C345.83,362.95 344.70,363.26 343.93,363.06 C343.16,362.86 342.09,362.11 341.94,361.55 C341.80,361.00 342.71,360.30 343.07,359.74 C343.44,359.18 343.54,358.44 344.13,358.18 C344.71,357.92 345.71,358.11 346.58,358.16 C347.44,358.22 348.98,358.12 349.33,358.51 C349.67,358.90 348.84,359.94 348.67,360.50 Z" fill="#050505" stroke="#d8d8d8" stroke-width="0.45"/>
<path d="M378.06,358.50 C378.18,359.09 378.28,360.13 377.77,360.46 C377.26,360.79 375.90,360.37 374.99,360.49 C374.09,360.61 372.88,361.39 372.34,361.17 C371.80,360.96 372.05,359.84 371.74,359.22 C371.43,358.60 370.25,357.89 370.45,357.45 C370.65,357.01 372.20,356.74 372.96,356.59 C373.71,356.43 374.30,356.46 374.99,356.52 C375.68,356.58 376.58,356.62 377.09,356.95 C377.61,357.28 377.95,357.91 378.06,358.50 Z" fill="#050505" stroke="#d8d8d8" stroke-width="0.45"/>
<path d="M394.52,369.82 C394.98,370.69 394.88,372.15 394.93,373.17 C394.98,374.20 395.17,375.53 394.82,375.98 C394.48,376.43 393.57,376.28 392.89,375.87 C392.20,375.47 391.40,374.48 390.74,373.54 C390.09,372.61 389.21,371.24 388.96,370.26 C388.71,369.28 389.08,368.49 389.24,367.68 C389.40,366.86 389.42,365.32 389.91,365.38 C390.40,365.43 391.41,367.25 392.18,367.99 C392.95,368.73 394.07,368.96 394.52,369.82 Z" fill="#8e8e8e" stroke="#000" stroke-width="1.1"/>
<path d="M405.43,367.50 C405.45,368.02 404.90,368.68 404.56,369.14 C404.22,369.59 403.83,370.10 403.39,370.23 C402.94,370.36 402.28,370.23 401.88,369.93 C401.47,369.63 401.07,368.97 400.96,368.43 C400.86,367.89 401.04,367.14 401.25,366.70 C401.46,366.27 401.86,366.11 402.22,365.80 C402.57,365.49 403.01,364.80 403.38,364.84 C403.74,364.87 404.06,365.59 404.40,366.03 C404.74,366.47 405.40,366.98 405.43,367.50 Z" fill="#050505" stroke="#d8d8d8" stroke-width="0.45"/>
<path d="M414.77,365.00 C414.88,365.64 415.05,366.72 414.75,367.26 C414.45,367.81 413.54,368.27 412.98,368.28 C412.42,368.29 411.81,367.73 411.37,367.34 C410.94,366.95 410.56,366.48 410.37,365.93 C410.19,365.38 410.10,364.59 410.26,364.02 C410.41,363.45 410.87,362.81 411.31,362.53 C411.75,362.25 412.43,362.20 412.89,362.35 C413.35,362.50 413.75,362.99 414.06,363.43 C414.37,363.87 414.65,364.36 414.77,365.00 Z" fill="#050505" stroke="#d8d8d8" stroke-width="0.45"/>
<path d="M341.91,375.32 C342.55,376.13 343.59,377.50 343.60,378.42 C343.61,379.34 342.66,380.23 341.99,380.85 C341.31,381.46 340.38,382.22 339.52,382.11 C338.66,381.99 337.43,380.95 336.80,380.15 C336.17,379.35 335.97,378.23 335.74,377.28 C335.52,376.33 335.12,375.00 335.45,374.44 C335.78,373.88 337.01,374.04 337.73,373.89 C338.45,373.75 339.09,373.33 339.78,373.56 C340.48,373.80 341.27,374.51 341.91,375.32 Z" fill="#050505" stroke="#d8d8d8" stroke-width="0.45"/>
<path d="M418.75,377.16 C418.83,377.98 418.86,378.89 418.33,379.61 C417.80,380.33 416.60,381.20 415.57,381.49 C414.53,381.79 413.07,381.62 412.10,381.36 C411.12,381.10 410.08,380.55 409.71,379.94 C409.34,379.33 409.63,378.43 409.86,377.69 C410.08,376.95 410.31,376.14 411.05,375.48 C411.79,374.83 413.17,373.88 414.31,373.74 C415.45,373.61 417.14,374.12 417.88,374.69 C418.62,375.26 418.68,376.34 418.75,377.16 Z" fill="#8e8e8e" stroke="#000" stroke-width="1.1"/>
<path d="M327.50,377.00 C327.48,377.71 327.15,378.38 326.82,379.04 C326.49,379.70 326.10,380.69 325.52,380.97 C324.95,381.25 323.92,381.15 323.40,380.69 C322.88,380.24 322.69,379.14 322.41,378.26 C322.14,377.38 321.58,376.27 321.73,375.41 C321.88,374.56 322.67,373.55 323.31,373.10 C323.95,372.65 324.95,372.44 325.57,372.72 C326.18,373.00 326.66,374.07 326.98,374.78 C327.30,375.50 327.53,376.29 327.50,377.00 Z" fill="#050505" stroke="#d8d8d8" stroke-width="0.45"/>
<path d="M469.47,320.50 C469.44,321.10 468.95,321.71 468.54,322.21 C468.14,322.72 467.66,323.29 467.03,323.51 C466.40,323.72 465.50,323.76 464.77,323.49 C464.04,323.23 462.78,322.56 462.64,321.91 C462.49,321.25 463.55,320.28 463.91,319.56 C464.28,318.84 464.29,318.05 464.82,317.60 C465.36,317.14 466.49,316.66 467.15,316.83 C467.80,317.00 468.38,317.98 468.77,318.59 C469.16,319.21 469.51,319.90 469.47,320.50 Z" fill="#050505" stroke="#d8d8d8" stroke-width="0.45"/>
<path d="M503.34,320.50 C503.36,321.23 502.73,322.24 502.17,322.74 C501.62,323.24 500.79,323.33 500.03,323.51 C499.27,323.68 498.11,324.12 497.61,323.77 C497.11,323.42 497.33,322.17 497.02,321.40 C496.72,320.63 495.72,319.88 495.80,319.15 C495.88,318.43 496.82,317.30 497.51,317.06 C498.21,316.82 499.23,317.52 499.99,317.73 C500.75,317.94 501.52,317.87 502.08,318.33 C502.64,318.80 503.33,319.77 503.34,320.50 Z" fill="#050505" stroke="#d8d8d8" stroke-width="0.45"/>
<path d="M474.59,337.00 C474.64,337.74 475.13,338.87 474.85,339.37 C474.58,339.87 473.49,340.04 472.94,339.98 C472.38,339.92 471.95,339.36 471.53,339.01 C471.12,338.67 470.74,338.43 470.45,337.90 C470.15,337.36 469.60,336.37 469.74,335.80 C469.88,335.22 470.73,334.82 471.28,334.46 C471.82,334.09 472.45,333.53 473.00,333.60 C473.55,333.68 474.31,334.34 474.58,334.91 C474.84,335.48 474.55,336.26 474.59,337.00 Z" fill="#050505" stroke="#d8d8d8" stroke-width="0.45"/>
<path d="M448.61,350.50 C448.62,351.05 447.94,351.68 447.51,352.18 C447.08,352.69 446.62,353.37 446.03,353.52 C445.45,353.67 444.51,353.44 444.01,353.09 C443.50,352.74 443.20,351.99 443.02,351.40 C442.83,350.81 442.69,350.06 442.89,349.55 C443.10,349.04 443.73,348.65 444.25,348.33 C444.77,348.01 445.47,347.54 446.01,347.63 C446.54,347.72 447.03,348.38 447.46,348.85 C447.89,349.33 448.60,349.95 448.61,350.50 Z" fill="#8e8e8e" stroke="#000" stroke-width="1.1"/>
<path d="M459.51,364.86 C459.77,365.51 459.45,366.67 458.97,367.36 C458.49,368.05 457.45,368.69 456.64,369.01 C455.84,369.32 454.87,369.34 454.13,369.25 C453.39,369.16 452.77,368.87 452.22,368.47 C451.67,368.06 450.91,367.50 450.85,366.84 C450.79,366.18 451.23,365.07 451.86,364.51 C452.50,363.94 453.72,363.63 454.64,363.45 C455.55,363.28 456.55,363.22 457.36,363.46 C458.17,363.69 459.24,364.21 459.51,364.86 Z" fill="#050505" stroke="#d8d8d8" stroke-width="0.45"/>
<path d="M467.00,358.70 C467.09,359.21 466.75,359.89 466.39,360.55 C466.03,361.21 465.59,362.04 464.86,362.67 C464.13,363.30 462.90,363.99 462.02,364.34 C461.13,364.70 460.19,364.86 459.56,364.78 C458.93,364.70 458.11,364.42 458.22,363.87 C458.33,363.31 459.50,362.20 460.22,361.46 C460.94,360.71 461.61,360.08 462.55,359.42 C463.49,358.76 465.11,357.64 465.86,357.52 C466.60,357.40 466.91,358.20 467.00,358.70 Z" fill="#8e8e8e" stroke="#000" stroke-width="1.1"/>
<path d="M486.80,360.52 C486.96,361.10 485.96,362.20 485.59,362.96 C485.21,363.72 485.18,364.49 484.55,365.07 C483.93,365.65 482.68,366.31 481.84,366.45 C480.99,366.58 479.97,366.28 479.48,365.88 C479.00,365.48 478.95,364.71 478.94,364.05 C478.92,363.39 478.95,362.69 479.38,361.92 C479.82,361.15 480.67,359.86 481.54,359.45 C482.41,359.04 483.73,359.29 484.61,359.46 C485.48,359.64 486.64,359.94 486.80,360.52 Z" fill="#8e8e8e" stroke="#000" stroke-width="1.1"/>
<path d="M505.29,331.50 C505.27,332.14 505.16,332.93 504.71,333.39 C504.26,333.86 503.28,334.27 502.59,334.29 C501.90,334.31 501.04,333.89 500.59,333.54 C500.14,333.18 500.08,332.62 499.88,332.14 C499.68,331.67 499.32,331.22 499.39,330.71 C499.46,330.19 499.77,329.41 500.31,329.06 C500.85,328.71 501.86,328.52 502.61,328.60 C503.36,328.68 504.37,329.05 504.82,329.53 C505.27,330.01 505.31,330.86 505.29,331.50 Z" fill="#050505" stroke="#d8d8d8" stroke-width="0.45"/>
<path d="M504.10,337.80 C504.42,338.74 504.83,340.19 504.67,341.02 C504.51,341.84 503.74,342.45 503.15,342.75 C502.57,343.05 501.72,343.24 501.14,342.84 C500.56,342.44 500.02,341.20 499.66,340.36 C499.30,339.53 499.05,338.67 498.97,337.81 C498.90,336.95 498.88,335.65 499.21,335.21 C499.55,334.76 500.40,335.09 500.98,335.13 C501.57,335.17 502.20,334.98 502.71,335.43 C503.23,335.87 503.77,336.87 504.10,337.80 Z" fill="#8e8e8e" stroke="#000" stroke-width="1.1"/>
<path d="M527.31,347.50 C527.28,348.67 526.60,350.11 526.05,350.87 C525.50,351.62 524.72,351.79 524.01,352.01 C523.29,352.23 522.31,352.68 521.78,352.19 C521.25,351.69 521.12,350.14 520.82,349.03 C520.53,347.92 519.79,346.37 520.01,345.50 C520.23,344.64 521.49,344.39 522.16,343.86 C522.84,343.34 523.39,342.37 524.08,342.37 C524.76,342.37 525.73,343.00 526.27,343.85 C526.81,344.71 527.35,346.33 527.31,347.50 Z" fill="#8e8e8e" stroke="#000" stroke-width="1.1"/>
<path d="M529.17,364.00 C529.15,364.94 529.74,366.22 529.37,366.75 C529.01,367.29 527.76,367.11 527.00,367.22 C526.23,367.33 525.29,367.76 524.78,367.40 C524.28,367.04 524.18,365.84 523.95,365.06 C523.72,364.28 523.23,363.39 523.41,362.71 C523.59,362.04 524.39,361.42 525.00,361.04 C525.61,360.65 526.30,360.39 527.06,360.40 C527.81,360.41 529.18,360.49 529.53,361.09 C529.88,361.69 529.20,363.06 529.17,364.00 Z" fill="#050505" stroke="#d8d8d8" stroke-width="0.45"/>
<path d="M492.76,371.00 C492.86,371.66 492.94,372.60 492.45,373.17 C491.96,373.75 490.68,374.43 489.81,374.44 C488.94,374.46 487.88,373.72 487.25,373.28 C486.62,372.84 486.21,372.32 486.03,371.81 C485.84,371.30 485.99,370.80 486.14,370.22 C486.30,369.64 486.34,368.84 486.96,368.35 C487.58,367.87 489.06,367.16 489.87,367.31 C490.68,367.45 491.35,368.60 491.83,369.22 C492.32,369.83 492.66,370.34 492.76,371.00 Z" fill="#050505" stroke="#d8d8d8" stroke-width="0.45"/>
<path d="M513.19,371.50 C513.29,372.23 513.05,373.45 512.68,374.07 C512.31,374.68 511.57,375.07 510.97,375.21 C510.37,375.35 509.65,375.29 509.09,374.92 C508.53,374.54 507.72,373.71 507.62,372.97 C507.52,372.23 508.18,371.11 508.50,370.48 C508.83,369.85 509.16,369.50 509.55,369.20 C509.94,368.89 510.44,368.57 510.86,368.65 C511.28,368.73 511.67,369.20 512.06,369.67 C512.45,370.15 513.08,370.77 513.19,371.50 Z" fill="#050505" stroke="#d8d8d8" stroke-width="0.45"/>
<path d="M455.34,381.50 C455.45,381.99 454.79,382.81 454.16,383.16 C453.54,383.51 452.49,383.49 451.60,383.61 C450.70,383.74 449.61,384.07 448.80,383.88 C447.99,383.69 446.90,382.98 446.74,382.47 C446.58,381.95 447.51,381.33 447.87,380.79 C448.22,380.25 448.24,379.56 448.89,379.22 C449.55,378.88 451.02,378.57 451.78,378.73 C452.54,378.90 452.88,379.74 453.47,380.20 C454.07,380.66 455.22,381.01 455.34,381.50 Z" fill="#050505" stroke="#d8d8d8" stroke-width="0.45"/>
<path d="M524.40,371.50 C524.44,372.13 524.29,373.15 523.86,373.48 C523.44,373.81 522.40,373.53 521.85,373.48 C521.30,373.42 520.96,373.35 520.55,373.15 C520.13,372.95 519.64,372.71 519.37,372.27 C519.10,371.84 518.84,371.14 518.94,370.57 C519.04,370.00 519.47,369.07 519.96,368.84 C520.46,368.60 521.30,369.02 521.91,369.17 C522.52,369.31 523.21,369.33 523.62,369.72 C524.04,370.11 524.36,370.87 524.40,371.50 Z" fill="#050505" stroke="#d8d8d8" stroke-width="0.45"/>
<path d="M538.58,371.50 C538.54,372.38 538.88,373.35 538.68,373.96 C538.48,374.58 537.78,375.17 537.37,375.17 C536.96,375.16 536.62,374.31 536.20,373.93 C535.78,373.54 535.10,373.50 534.86,372.86 C534.63,372.22 534.61,370.85 534.79,370.09 C534.97,369.34 535.53,368.55 535.95,368.32 C536.36,368.09 536.79,368.64 537.28,368.71 C537.77,368.77 538.69,368.24 538.90,368.71 C539.12,369.17 538.61,370.62 538.58,371.50 Z" fill="#050505" stroke="#d8d8d8" stroke-width="0.45"/>
<path d="M436.42,354.00 C436.47,355.66 435.61,357.92 435.12,359.34 C434.64,360.77 434.09,362.22 433.50,362.55 C432.91,362.87 432.15,362.20 431.60,361.29 C431.04,360.38 430.37,358.77 430.17,357.09 C429.97,355.40 430.23,353.21 430.40,351.17 C430.58,349.13 430.70,346.09 431.24,344.84 C431.77,343.60 433.00,342.96 433.60,343.71 C434.21,344.46 434.38,347.64 434.84,349.36 C435.31,351.07 436.38,352.34 436.42,354.00 Z" fill="#050505" stroke="#d8d8d8" stroke-width="0.45"/>
</g>
<line x1="69.2" y1="317" x2="69.2" y2="383" stroke="#111" stroke-width="1.4"/>
<line x1="69.2" y1="316.875" x2="71.4" y2="316.875" stroke="#111" stroke-width="1"/>
<line x1="69.2" y1="326.4" x2="71.4" y2="326.4" stroke="#111" stroke-width="1"/>
<line x1="69.2" y1="335.92499999999995" x2="71.4" y2="335.92499999999995" stroke="#111" stroke-width="1"/>
<line x1="69.2" y1="345.45" x2="71.4" y2="345.45" stroke="#111" stroke-width="1"/>
<line x1="69.2" y1="354.97499999999997" x2="71.4" y2="354.97499999999997" stroke="#111" stroke-width="1"/>
<line x1="69.2" y1="364.5" x2="71.4" y2="364.5" stroke="#111" stroke-width="1"/>
<line x1="69.2" y1="374.025" x2="71.4" y2="374.025" stroke="#111" stroke-width="1"/>
<text x="63.3" y="330.59999999999997" font-size="11.8" text-anchor="end" fill="#262626" font-weight="normal" >80</text>
<text x="63.3" y="349.65" font-size="11.8" text-anchor="end" fill="#262626" font-weight="normal" >70</text>
<text x="63.3" y="368.7" font-size="11.8" text-anchor="end" fill="#262626" font-weight="normal" >60</text>
<text x="34.5" y="326.5" font-size="11.4" text-anchor="middle" fill="#262626" font-weight="normal" >(e)</text>
<text transform="translate(38.3,354) rotate(-90)" font-size="11.7" text-anchor="middle" fill="#262626">Ni (at%)</text>
<rect x="77" y="355" width="33.5" height="23.4" fill="none" stroke="#d4d4d4" stroke-width="1.1"/>
<rect x="127" y="355" width="33.5" height="23.4" fill="none" stroke="#d4d4d4" stroke-width="1.1"/>
<rect x="177" y="355" width="33.5" height="23.4" fill="none" stroke="#d4d4d4" stroke-width="1.1"/>
<rect x="227" y="355" width="33.5" height="23.4" fill="none" stroke="#d4d4d4" stroke-width="1.1"/>
<line x1="168.7" y1="317" x2="168.7" y2="383" stroke="#000" stroke-width="1.2" stroke-dasharray="1.2 1.2"/>
<polyline points="69.20,336.00 92.40,338.00 143.60,343.60 195.00,346.00 246.30,351.00 281.00,349.70" fill="none" stroke="#44bbe6" stroke-width="1.6"/>
<circle cx="92.4" cy="338" r="2.5" fill="#44bbe6"/>
<circle cx="143.6" cy="343.6" r="2.5" fill="#44bbe6"/>
<circle cx="195" cy="346" r="2.5" fill="#44bbe6"/>
<circle cx="246.3" cy="351" r="2.5" fill="#44bbe6"/>
<text x="107.4" y="326.6" font-size="12" text-anchor="start" fill="#fff" font-weight="normal" >Ni<tspan font-size="7.8" dy="2.6">78</tspan></text>
<text x="213.7" y="326.6" font-size="12" text-anchor="start" fill="#fff" font-weight="normal" >Ni<tspan font-size="7.8" dy="2.6">67</tspan></text>
<line x1="327.4" y1="317" x2="327.4" y2="383.3" stroke="#111" stroke-width="1.4"/>
<line x1="327.4" y1="318.7" x2="329.59999999999997" y2="318.7" stroke="#111" stroke-width="1"/>
<line x1="327.4" y1="327.8" x2="329.59999999999997" y2="327.8" stroke="#111" stroke-width="1"/>
<line x1="327.4" y1="336.90000000000003" x2="329.59999999999997" y2="336.90000000000003" stroke="#111" stroke-width="1"/>
<line x1="327.4" y1="346.0" x2="329.59999999999997" y2="346.0" stroke="#111" stroke-width="1"/>
<line x1="327.4" y1="355.1" x2="329.59999999999997" y2="355.1" stroke="#111" stroke-width="1"/>
<line x1="327.4" y1="364.2" x2="329.59999999999997" y2="364.2" stroke="#111" stroke-width="1"/>
<line x1="327.4" y1="373.3" x2="329.59999999999997" y2="373.3" stroke="#111" stroke-width="1"/>
<text x="321.5" y="332.0" font-size="11.8" text-anchor="end" fill="#262626" font-weight="normal" >70</text>
<text x="321.5" y="350.2" font-size="11.8" text-anchor="end" fill="#262626" font-weight="normal" >60</text>
<text x="321.5" y="368.4" font-size="11.8" text-anchor="end" fill="#262626" font-weight="normal" >50</text>
<text x="296" y="325.6" font-size="11.4" text-anchor="middle" fill="#262626" font-weight="normal" >(f)</text>
<text transform="translate(301,352) rotate(-90)" font-size="11.7" text-anchor="middle" fill="#262626">Ni (at%)</text>
<rect x="343.6" y="331.6" width="34" height="22.9" fill="none" stroke="#d4d4d4" stroke-width="1.1"/>
<rect x="393.2" y="331.6" width="34" height="22.9" fill="none" stroke="#d4d4d4" stroke-width="1.1"/>
<rect x="442.3" y="331.6" width="34" height="22.9" fill="none" stroke="#d4d4d4" stroke-width="1.1"/>
<rect x="492.2" y="331.6" width="34" height="22.9" fill="none" stroke="#d4d4d4" stroke-width="1.1"/>
<path d="M509.7,375.6 L492.2,354.5 M509.7,375.6 L526.3,354.5" stroke="#e6e6e6" stroke-width="0.9" stroke-dasharray="1.2 1.2" fill="none"/>
<line x1="434.7" y1="317" x2="434.7" y2="383.3" stroke="#000" stroke-width="1.2" stroke-dasharray="1.2 1.2"/>
<polyline points="327.40,359.60 361.90,357.60 411.00,369.00 460.10,373.10 509.70,375.60 538.80,377.40" fill="none" stroke="#44bbe6" stroke-width="1.6"/>
<circle cx="361.9" cy="357.6" r="2.5" fill="#44bbe6"/>
<circle cx="411" cy="369" r="2.5" fill="#44bbe6"/>
<circle cx="460.1" cy="373.1" r="2.5" fill="#44bbe6"/>
<circle cx="509.7" cy="375.6" r="2.5" fill="#44bbe6"/>
<text x="370.7" y="326.6" font-size="12" text-anchor="start" fill="#fff" font-weight="normal" >Ni<tspan font-size="7.8" dy="2.6">56</tspan></text>
<text x="477.2" y="326.6" font-size="12" text-anchor="start" fill="#fff" font-weight="normal" >Ni<tspan font-size="7.8" dy="2.6">44</tspan></text>
</svg>
</body></html>
